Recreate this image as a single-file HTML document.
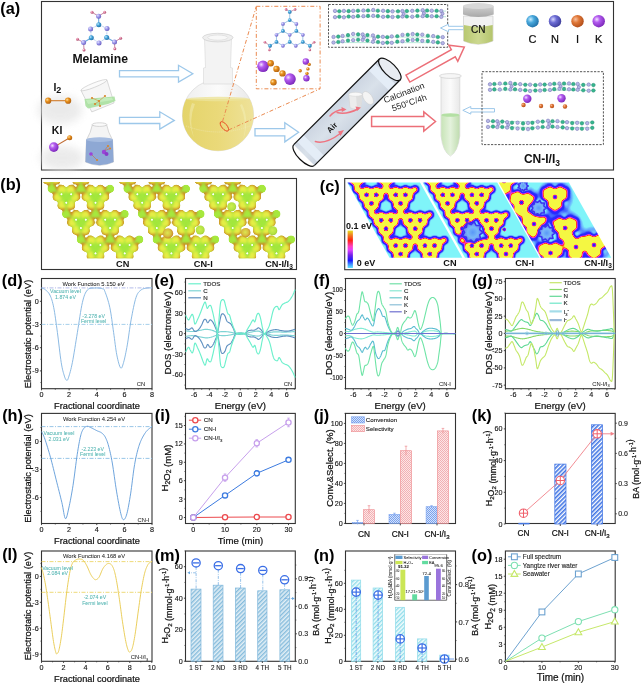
<!DOCTYPE html>
<html><head><meta charset="utf-8"><title>Figure</title>
<style>html,body{margin:0;padding:0;background:#fff;width:641px;height:685px;overflow:hidden}svg{display:block}</style>
</head><body>
<svg width="641" height="685" viewBox="0 0 641 685" font-family="'Liberation Sans', Arial, sans-serif"><rect x="41.50" y="278.50" width="110.50" height="110.20" fill="none" stroke="#333" stroke-width="1.1"/>
<line x1="41.50" y1="388.70" x2="41.50" y2="390.30" stroke="#333" stroke-width="0.9"/>
<text x="41.50" y="396.90" font-size="7.2" text-anchor="middle" fill="#111" stroke="#111" stroke-width="0.12">0</text>
<line x1="69.12" y1="388.70" x2="69.12" y2="390.30" stroke="#333" stroke-width="0.9"/>
<text x="69.12" y="396.90" font-size="7.2" text-anchor="middle" fill="#111" stroke="#111" stroke-width="0.12">2</text>
<line x1="96.75" y1="388.70" x2="96.75" y2="390.30" stroke="#333" stroke-width="0.9"/>
<text x="96.75" y="396.90" font-size="7.2" text-anchor="middle" fill="#111" stroke="#111" stroke-width="0.12">4</text>
<line x1="124.38" y1="388.70" x2="124.38" y2="390.30" stroke="#333" stroke-width="0.9"/>
<text x="124.38" y="396.90" font-size="7.2" text-anchor="middle" fill="#111" stroke="#111" stroke-width="0.12">6</text>
<line x1="152.00" y1="388.70" x2="152.00" y2="390.30" stroke="#333" stroke-width="0.9"/>
<text x="152.00" y="396.90" font-size="7.2" text-anchor="middle" fill="#111" stroke="#111" stroke-width="0.12">8</text>
<line x1="55.31" y1="388.70" x2="55.31" y2="389.70" stroke="#333" stroke-width="0.8"/>
<line x1="82.94" y1="388.70" x2="82.94" y2="389.70" stroke="#333" stroke-width="0.8"/>
<line x1="110.56" y1="388.70" x2="110.56" y2="389.70" stroke="#333" stroke-width="0.8"/>
<line x1="138.19" y1="388.70" x2="138.19" y2="389.70" stroke="#333" stroke-width="0.8"/>
<line x1="39.90" y1="301.30" x2="41.50" y2="301.30" stroke="#333" stroke-width="0.9"/>
<text x="38.70" y="303.80" font-size="7.2" text-anchor="end" fill="#111" stroke="#111" stroke-width="0.12">0</text>
<line x1="39.90" y1="324.50" x2="41.50" y2="324.50" stroke="#333" stroke-width="0.9"/>
<text x="38.70" y="327.00" font-size="7.2" text-anchor="end" fill="#111" stroke="#111" stroke-width="0.12">-3</text>
<line x1="39.90" y1="347.70" x2="41.50" y2="347.70" stroke="#333" stroke-width="0.9"/>
<text x="38.70" y="350.20" font-size="7.2" text-anchor="end" fill="#111" stroke="#111" stroke-width="0.12">-6</text>
<line x1="39.90" y1="370.90" x2="41.50" y2="370.90" stroke="#333" stroke-width="0.9"/>
<text x="38.70" y="373.40" font-size="7.2" text-anchor="end" fill="#111" stroke="#111" stroke-width="0.12">-9</text>
<line x1="40.50" y1="289.70" x2="41.50" y2="289.70" stroke="#333" stroke-width="0.8"/>
<line x1="40.50" y1="312.90" x2="41.50" y2="312.90" stroke="#333" stroke-width="0.8"/>
<line x1="40.50" y1="336.10" x2="41.50" y2="336.10" stroke="#333" stroke-width="0.8"/>
<line x1="40.50" y1="359.30" x2="41.50" y2="359.30" stroke="#333" stroke-width="0.8"/>
<line x1="40.50" y1="382.50" x2="41.50" y2="382.50" stroke="#333" stroke-width="0.8"/>
<line x1="41.50" y1="287.90" x2="152.00" y2="287.90" stroke="#aab4e6" stroke-width="0.9" stroke-dasharray="4 1.5 1 1.5"/>
<line x1="41.50" y1="324.40" x2="152.00" y2="324.40" stroke="#9ccbe8" stroke-width="0.9" stroke-dasharray="4 1.5 1 1.5"/>
<polyline points="41.30,288.00 41.58,288.09 41.94,288.18 42.36,288.28 42.84,288.41 43.36,288.58 43.90,288.81 44.45,289.11 45.00,289.50 45.56,289.95 46.17,290.43 46.80,290.97 47.44,291.57 48.09,292.26 48.72,293.05 49.33,293.95 49.90,295.00 50.43,296.13 50.93,297.32 51.41,298.59 51.88,299.98 52.33,301.52 52.78,303.25 53.24,305.20 53.70,307.40 54.17,309.89 54.63,312.65 55.09,315.63 55.55,318.80 56.01,322.11 56.47,325.50 56.93,328.95 57.40,332.40 57.87,336.02 58.36,339.93 58.84,344.00 59.33,348.11 59.81,352.12 60.29,355.93 60.75,359.40 61.20,362.40 61.63,364.96 62.06,367.19 62.48,369.15 62.89,370.86 63.29,372.37 63.68,373.72 64.05,374.95 64.40,376.10 64.73,377.13 65.05,377.99 65.35,378.69 65.63,379.24 65.91,379.67 66.17,379.98 66.44,380.18 66.70,380.30 66.94,380.35 67.16,380.34 67.36,380.23 67.56,379.99 67.77,379.61 68.00,379.06 68.27,378.29 68.60,377.30 68.98,376.11 69.39,374.77 69.83,373.25 70.31,371.54 70.80,369.62 71.32,367.47 71.85,365.07 72.40,362.40 72.97,359.37 73.57,355.96 74.19,352.25 74.83,348.34 75.47,344.31 76.12,340.25 76.77,336.25 77.40,332.40 78.03,328.54 78.65,324.51 79.28,320.42 79.90,316.36 80.53,312.43 81.15,308.75 81.78,305.40 82.40,302.50 83.01,300.03 83.59,297.91 84.17,296.08 84.74,294.51 85.34,293.15 85.97,291.98 86.66,290.94 87.40,290.00 88.22,289.23 89.10,288.70 90.03,288.36 91.00,288.18 91.98,288.09 92.97,288.06 93.95,288.05 94.90,288.00 95.86,287.95 96.87,287.94 97.90,287.99 98.91,288.07 99.89,288.19 100.80,288.34 101.61,288.51 102.30,288.70 102.83,288.83 103.21,288.88 103.49,288.90 103.70,288.98 103.89,289.18 104.11,289.57 104.40,290.22 104.80,291.20 105.31,292.51 105.90,294.08 106.54,295.88 107.22,297.89 107.90,300.08 108.58,302.41 109.22,304.86 109.80,307.40 110.34,310.12 110.85,313.09 111.34,316.24 111.81,319.51 112.27,322.82 112.72,326.12 113.16,329.33 113.60,332.40 114.02,335.40 114.43,338.42 114.82,341.44 115.20,344.40 115.58,347.27 115.97,350.00 116.38,352.56 116.80,354.90 117.25,357.11 117.73,359.25 118.22,361.28 118.71,363.15 119.21,364.80 119.69,366.17 120.16,367.23 120.60,367.90 121.01,368.18 121.39,368.11 121.75,367.72 122.11,367.06 122.46,366.15 122.82,365.05 123.20,363.79 123.60,362.40 124.03,360.84 124.47,359.04 124.93,357.05 125.40,354.87 125.87,352.54 126.35,350.08 126.83,347.53 127.30,344.90 127.76,342.12 128.22,339.12 128.67,335.96 129.12,332.71 129.59,329.41 130.07,326.14 130.57,322.95 131.10,319.90 131.66,316.87 132.25,313.77 132.85,310.65 133.48,307.61 134.11,304.69 134.74,301.99 135.38,299.57 136.00,297.50 136.61,295.81 137.21,294.45 137.81,293.35 138.41,292.48 139.03,291.75 139.66,291.14 140.31,290.57 141.00,290.00 141.74,289.47 142.52,289.07 143.34,288.76 144.17,288.53 145.00,288.36 145.81,288.23 146.58,288.12 147.30,288.00 148.00,287.90 148.70,287.86 149.39,287.85 150.04,287.88 150.65,287.91 151.19,287.95 151.65,287.99 152.00,288.00" fill="none" stroke="#7fb2e0" stroke-width="0.9" stroke-linejoin="round"/>
<text x="93.50" y="286.00" font-size="5.8" text-anchor="middle" fill="#222" stroke="#222" stroke-width="0.04">Work Function 5.150 eV</text>
<text x="65.50" y="293.20" font-size="5.2" text-anchor="middle" fill="#4fb3b0" stroke="#4fb3b0" stroke-width="0.04">Vacuum level</text>
<text x="65.50" y="299.40" font-size="5.2" text-anchor="middle" fill="#4fb3b0" stroke="#4fb3b0" stroke-width="0.04">1.874 eV</text>
<text x="93.60" y="317.80" font-size="5.2" text-anchor="middle" fill="#4fb3b0" stroke="#4fb3b0" stroke-width="0.04">-3.278 eV</text>
<text x="93.60" y="323.40" font-size="5.2" text-anchor="middle" fill="#4fb3b0" stroke="#4fb3b0" stroke-width="0.04">Fermi level</text>
<text x="141.00" y="385.50" font-size="5.8" text-anchor="middle" fill="#222" stroke="#222" stroke-width="0.04">CN</text>
<text x="97.00" y="409.40" font-size="9.2" text-anchor="middle" fill="#111" stroke="#111" stroke-width="0.22">Fractional coordinate</text>
<text x="31.00" y="334.00" font-size="9.3" text-anchor="middle" fill="#111" stroke="#111" stroke-width="0.22" transform="rotate(-90 31.00 334.00)">Electrostatic potential (eV)</text>
<text x="1.85" y="286.20" font-size="16.3" text-anchor="start" fill="#000" stroke="#000" stroke-width="0.0" font-weight="bold">(d)</text>
<rect x="185.50" y="278.50" width="109.80" height="110.20" fill="none" stroke="#333" stroke-width="1.1"/>
<line x1="193.95" y1="388.70" x2="193.95" y2="390.30" stroke="#333" stroke-width="0.9"/>
<text x="193.95" y="396.90" font-size="7.2" text-anchor="middle" fill="#111" stroke="#111" stroke-width="0.12">-6</text>
<line x1="209.40" y1="388.70" x2="209.40" y2="390.30" stroke="#333" stroke-width="0.9"/>
<text x="209.40" y="396.90" font-size="7.2" text-anchor="middle" fill="#111" stroke="#111" stroke-width="0.12">-4</text>
<line x1="224.85" y1="388.70" x2="224.85" y2="390.30" stroke="#333" stroke-width="0.9"/>
<text x="224.85" y="396.90" font-size="7.2" text-anchor="middle" fill="#111" stroke="#111" stroke-width="0.12">-2</text>
<line x1="240.30" y1="388.70" x2="240.30" y2="390.30" stroke="#333" stroke-width="0.9"/>
<text x="240.30" y="396.90" font-size="7.2" text-anchor="middle" fill="#111" stroke="#111" stroke-width="0.12">0</text>
<line x1="255.75" y1="388.70" x2="255.75" y2="390.30" stroke="#333" stroke-width="0.9"/>
<text x="255.75" y="396.90" font-size="7.2" text-anchor="middle" fill="#111" stroke="#111" stroke-width="0.12">2</text>
<line x1="271.20" y1="388.70" x2="271.20" y2="390.30" stroke="#333" stroke-width="0.9"/>
<text x="271.20" y="396.90" font-size="7.2" text-anchor="middle" fill="#111" stroke="#111" stroke-width="0.12">4</text>
<line x1="286.65" y1="388.70" x2="286.65" y2="390.30" stroke="#333" stroke-width="0.9"/>
<text x="286.65" y="396.90" font-size="7.2" text-anchor="middle" fill="#111" stroke="#111" stroke-width="0.12">6</text>
<line x1="186.23" y1="388.70" x2="186.23" y2="389.70" stroke="#333" stroke-width="0.8"/>
<line x1="201.68" y1="388.70" x2="201.68" y2="389.70" stroke="#333" stroke-width="0.8"/>
<line x1="217.13" y1="388.70" x2="217.13" y2="389.70" stroke="#333" stroke-width="0.8"/>
<line x1="232.58" y1="388.70" x2="232.58" y2="389.70" stroke="#333" stroke-width="0.8"/>
<line x1="248.03" y1="388.70" x2="248.03" y2="389.70" stroke="#333" stroke-width="0.8"/>
<line x1="263.48" y1="388.70" x2="263.48" y2="389.70" stroke="#333" stroke-width="0.8"/>
<line x1="278.92" y1="388.70" x2="278.92" y2="389.70" stroke="#333" stroke-width="0.8"/>
<line x1="294.38" y1="388.70" x2="294.38" y2="389.70" stroke="#333" stroke-width="0.8"/>
<line x1="183.90" y1="292.40" x2="185.50" y2="292.40" stroke="#333" stroke-width="0.9"/>
<text x="182.70" y="294.90" font-size="7.2" text-anchor="end" fill="#111" stroke="#111" stroke-width="0.12">60</text>
<line x1="183.90" y1="313.00" x2="185.50" y2="313.00" stroke="#333" stroke-width="0.9"/>
<text x="182.70" y="315.50" font-size="7.2" text-anchor="end" fill="#111" stroke="#111" stroke-width="0.12">30</text>
<line x1="183.90" y1="333.60" x2="185.50" y2="333.60" stroke="#333" stroke-width="0.9"/>
<text x="182.70" y="336.10" font-size="7.2" text-anchor="end" fill="#111" stroke="#111" stroke-width="0.12">0</text>
<line x1="183.90" y1="354.20" x2="185.50" y2="354.20" stroke="#333" stroke-width="0.9"/>
<text x="182.70" y="356.70" font-size="7.2" text-anchor="end" fill="#111" stroke="#111" stroke-width="0.12">-30</text>
<line x1="183.90" y1="374.80" x2="185.50" y2="374.80" stroke="#333" stroke-width="0.9"/>
<text x="182.70" y="377.30" font-size="7.2" text-anchor="end" fill="#111" stroke="#111" stroke-width="0.12">-60</text>
<line x1="184.50" y1="282.10" x2="185.50" y2="282.10" stroke="#333" stroke-width="0.8"/>
<line x1="184.50" y1="302.70" x2="185.50" y2="302.70" stroke="#333" stroke-width="0.8"/>
<line x1="184.50" y1="323.30" x2="185.50" y2="323.30" stroke="#333" stroke-width="0.8"/>
<line x1="184.50" y1="343.90" x2="185.50" y2="343.90" stroke="#333" stroke-width="0.8"/>
<line x1="184.50" y1="364.50" x2="185.50" y2="364.50" stroke="#333" stroke-width="0.8"/>
<line x1="184.50" y1="385.10" x2="185.50" y2="385.10" stroke="#333" stroke-width="0.8"/>
<polyline points="185.62,330.78 186.06,330.85 186.67,330.95 187.39,331.06 188.19,331.18 189.02,331.30 189.83,331.41 190.58,331.49 191.23,331.53 191.78,331.54 192.26,331.53 192.69,331.50 193.10,331.45 193.52,331.39 193.95,331.32 194.43,331.24 194.98,331.16 195.59,331.07 196.25,330.96 196.94,330.85 197.67,330.73 198.40,330.60 199.14,330.47 199.88,330.34 200.59,330.22 201.29,330.09 202.00,329.94 202.70,329.79 203.40,329.64 204.10,329.50 204.80,329.39 205.51,329.31 206.21,329.29 206.92,329.31 207.63,329.37 208.35,329.46 209.07,329.58 209.79,329.72 210.49,329.88 211.17,330.05 211.82,330.22 212.48,330.42 213.15,330.65 213.81,330.90 214.46,331.16 215.06,331.42 215.62,331.67 216.10,331.90 216.50,332.09 216.79,332.27 216.96,332.45 217.05,332.61 217.09,332.76 217.12,332.89 217.16,332.98 217.26,333.03 217.44,333.03 217.67,332.97 217.92,332.83 218.19,332.65 218.49,332.43 218.84,332.21 219.24,332.01 219.70,331.84 220.25,331.72 220.89,331.65 221.64,331.61 222.47,331.58 223.35,331.58 224.25,331.59 225.14,331.62 226.00,331.67 226.80,331.72 227.56,331.79 228.31,331.89 229.06,332.00 229.78,332.13 230.49,332.26 231.16,332.40 231.81,332.53 232.41,332.66 232.94,332.78 233.37,332.91 233.75,333.05 234.11,333.18 234.49,333.31 234.94,333.42 235.48,333.52 236.16,333.59 237.00,333.65 237.98,333.69 239.06,333.73 240.20,333.74 241.36,333.74 242.50,333.72 243.59,333.67 244.58,333.59 245.48,333.47 246.33,333.31 247.14,333.12 247.92,332.90 248.69,332.68 249.47,332.46 250.28,332.27 251.13,332.09 252.04,331.93 252.98,331.74 253.96,331.55 254.94,331.38 255.91,331.24 256.86,331.14 257.77,331.11 258.62,331.16 259.39,331.33 260.07,331.63 260.70,332.01 261.31,332.42 261.94,332.83 262.61,333.19 263.37,333.46 264.24,333.59 265.22,333.57 266.27,333.42 267.39,333.18 268.57,332.89 269.79,332.58 271.04,332.29 272.31,332.06 273.60,331.91 274.92,331.85 276.30,331.84 277.71,331.87 279.16,331.93 280.60,332.00 282.04,332.06 283.46,332.09 284.83,332.09 286.23,332.06 287.71,331.99 289.21,331.91 290.68,331.83 292.06,331.74 293.30,331.65 294.34,331.58 295.13,331.53" fill="none" stroke="#7ed4d4" stroke-width="1.15" stroke-linejoin="round"/>
<polyline points="185.62,336.40 186.06,336.33 186.67,336.24 187.39,336.12 188.19,336.00 189.02,335.88 189.83,335.78 190.58,335.70 191.23,335.65 191.78,335.64 192.26,335.65 192.69,335.68 193.10,335.73 193.52,335.79 193.95,335.87 194.43,335.94 194.98,336.03 195.59,336.12 196.25,336.22 196.94,336.34 197.67,336.46 198.40,336.59 199.14,336.71 199.88,336.84 200.59,336.96 201.29,337.09 202.00,337.24 202.70,337.40 203.40,337.55 204.10,337.68 204.80,337.80 205.51,337.87 206.21,337.90 206.92,337.88 207.63,337.82 208.35,337.73 209.07,337.61 209.79,337.46 210.49,337.31 211.17,337.14 211.82,336.96 212.48,336.77 213.15,336.54 213.81,336.29 214.46,336.03 215.06,335.76 215.62,335.51 216.10,335.29 216.50,335.09 216.79,334.91 216.96,334.74 217.05,334.57 217.09,334.42 217.12,334.30 217.16,334.21 217.26,334.16 217.44,334.15 217.67,334.22 217.92,334.35 218.19,334.54 218.49,334.75 218.84,334.97 219.24,335.18 219.70,335.35 220.25,335.46 220.89,335.53 221.64,335.58 222.47,335.60 223.35,335.60 224.25,335.59 225.14,335.56 226.00,335.52 226.80,335.46 227.56,335.39 228.31,335.30 229.06,335.18 229.78,335.05 230.49,334.92 231.16,334.78 231.81,334.65 232.41,334.53 232.94,334.40 233.37,334.27 233.75,334.14 234.11,334.00 234.49,333.87 234.94,333.76 235.48,333.66 236.16,333.59 237.00,333.54 237.98,333.49 239.06,333.46 240.20,333.44 241.36,333.44 242.50,333.47 243.59,333.51 244.58,333.59 245.48,333.71 246.33,333.87 247.14,334.07 247.92,334.28 248.69,334.50 249.47,334.72 250.28,334.92 251.13,335.09 252.04,335.26 252.98,335.44 253.96,335.63 254.94,335.80 255.91,335.95 256.86,336.04 257.77,336.07 258.62,336.03 259.39,335.85 260.07,335.56 260.70,335.18 261.31,334.76 261.94,334.35 262.61,333.99 263.37,333.72 264.24,333.59 265.22,333.62 266.27,333.77 267.39,334.00 268.57,334.29 269.79,334.60 271.04,334.89 272.31,335.13 273.60,335.28 274.92,335.34 276.30,335.34 277.71,335.31 279.16,335.25 280.60,335.19 282.04,335.13 283.46,335.09 284.83,335.09 286.23,335.13 287.71,335.19 289.21,335.27 290.68,335.36 292.06,335.45 293.30,335.53 294.34,335.60 295.13,335.65" fill="none" stroke="#7ed4d4" stroke-width="1.15" stroke-linejoin="round"/>
<polyline points="185.62,328.35 185.84,328.47 186.14,328.63 186.50,328.84 186.90,329.05 187.32,329.26 187.72,329.45 188.10,329.59 188.42,329.66 188.70,329.67 188.96,329.62 189.19,329.54 189.42,329.43 189.63,329.30 189.85,329.16 190.07,329.03 190.30,328.91 190.52,328.77 190.74,328.59 190.96,328.38 191.17,328.18 191.40,328.01 191.63,327.90 191.89,327.88 192.17,327.98 192.47,328.25 192.78,328.69 193.11,329.24 193.45,329.84 193.81,330.43 194.19,330.95 194.57,331.34 194.98,331.53 195.41,331.54 195.87,331.42 196.35,331.20 196.85,330.89 197.34,330.52 197.83,330.12 198.29,329.70 198.72,329.29 199.12,328.87 199.50,328.42 199.86,327.93 200.21,327.41 200.54,326.88 200.87,326.32 201.20,325.75 201.53,325.17 201.85,324.53 202.18,323.82 202.49,323.07 202.80,322.31 203.11,321.59 203.40,320.92 203.69,320.36 203.96,319.93 204.22,319.62 204.47,319.41 204.70,319.27 204.93,319.21 205.16,319.22 205.38,319.28 205.60,319.40 205.83,319.55 206.06,319.82 206.29,320.24 206.52,320.75 206.75,321.30 206.98,321.82 207.21,322.28 207.45,322.60 207.70,322.73 207.97,322.64 208.25,322.37 208.54,321.96 208.83,321.47 209.12,320.97 209.41,320.51 209.69,320.14 209.95,319.93 210.20,319.85 210.45,319.85 210.68,319.92 210.91,320.04 211.14,320.21 211.36,320.41 211.59,320.63 211.82,320.86 212.05,321.10 212.27,321.35 212.48,321.61 212.70,321.92 212.92,322.26 213.16,322.66 213.42,323.13 213.70,323.67 214.01,324.34 214.38,325.13 214.76,326.02 215.16,326.95 215.55,327.88 215.91,328.76 216.24,329.56 216.50,330.22 216.70,330.84 216.85,331.47 216.95,332.08 217.03,332.62 217.10,333.03 217.18,333.27 217.29,333.29 217.44,333.03 217.63,332.44 217.83,331.55 218.06,330.41 218.29,329.11 218.54,327.72 218.79,326.30 219.05,324.92 219.31,323.67 219.57,322.43 219.83,321.09 220.09,319.71 220.36,318.35 220.64,317.07 220.93,315.93 221.24,314.99 221.56,314.31 221.90,313.90 222.27,313.71 222.66,313.70 223.06,313.84 223.45,314.10 223.84,314.44 224.21,314.84 224.55,315.25 224.87,315.75 225.17,316.41 225.45,317.17 225.72,318.00 225.99,318.83 226.25,319.61 226.52,320.31 226.80,320.86 227.08,321.28 227.37,321.61 227.66,321.86 227.95,322.07 228.23,322.24 228.51,322.39 228.78,322.55 229.05,322.73 229.29,322.91 229.53,323.03 229.75,323.14 229.97,323.24 230.19,323.36 230.42,323.52 230.66,323.74 230.92,324.05 231.19,324.43 231.48,324.89 231.77,325.40 232.08,325.95 232.39,326.54 232.70,327.14 233.02,327.75 233.35,328.35 233.65,329.00 233.89,329.72 234.13,330.48 234.38,331.24 234.68,331.97 235.05,332.63 235.54,333.18 236.16,333.59 236.98,333.86 238.00,334.02 239.15,334.08 240.37,334.07 241.59,334.00 242.74,333.89 243.76,333.74 244.58,333.59 245.20,333.39 245.66,333.12 246.01,332.79 246.28,332.43 246.52,332.07 246.75,331.72 247.03,331.41 247.39,331.16 247.82,330.96 248.28,330.80 248.77,330.66 249.26,330.54 249.76,330.44 250.24,330.36 250.70,330.28 251.13,330.22 251.53,330.19 251.90,330.19 252.26,330.21 252.60,330.25 252.93,330.28 253.26,330.29 253.60,330.28 253.94,330.22 254.30,330.12 254.67,329.98 255.04,329.82 255.40,329.64 255.77,329.45 256.11,329.26 256.44,329.08 256.75,328.91 257.02,328.74 257.26,328.54 257.48,328.32 257.69,328.12 257.89,327.94 258.11,327.82 258.35,327.76 258.62,327.79 258.93,327.92 259.26,328.13 259.61,328.40 259.97,328.73 260.34,329.09 260.71,329.47 261.07,329.85 261.43,330.22 261.77,330.63 262.11,331.12 262.44,331.65 262.78,332.18 263.12,332.67 263.47,333.10 263.84,333.42 264.24,333.59 264.66,333.61 265.11,333.48 265.57,333.26 266.05,332.96 266.54,332.63 267.02,332.28 267.51,331.97 267.98,331.72 268.44,331.51 268.90,331.30 269.34,331.09 269.80,330.89 270.25,330.70 270.72,330.52 271.21,330.36 271.73,330.22 272.27,330.10 272.83,329.98 273.41,329.88 274.01,329.79 274.61,329.72 275.21,329.67 275.81,329.65 276.41,329.66 276.98,329.71 277.55,329.80 278.12,329.92 278.69,330.06 279.26,330.21 279.85,330.35 280.46,330.49 281.09,330.60 281.75,330.69 282.45,330.79 283.16,330.89 283.89,330.98 284.62,331.06 285.34,331.12 286.04,331.15 286.70,331.16 287.34,331.13 287.96,331.07 288.57,330.99 289.16,330.89 289.74,330.78 290.30,330.65 290.85,330.53 291.38,330.41 291.92,330.28 292.47,330.13 293.02,329.97 293.55,329.80 294.04,329.64 294.47,329.50 294.84,329.38 295.13,329.29" fill="none" stroke="#5e90c0" stroke-width="1.15" stroke-linejoin="round"/>
<polyline points="185.62,338.83 185.84,338.72 186.14,338.55 186.50,338.35 186.90,338.13 187.32,337.92 187.72,337.74 188.10,337.60 188.42,337.52 188.70,337.52 188.96,337.56 189.19,337.65 189.42,337.76 189.63,337.89 189.85,338.02 190.07,338.16 190.30,338.27 190.52,338.41 190.74,338.60 190.96,338.81 191.17,339.01 191.40,339.18 191.63,339.29 191.89,339.30 192.17,339.21 192.47,338.94 192.78,338.50 193.11,337.95 193.45,337.35 193.81,336.76 194.19,336.24 194.57,335.85 194.98,335.65 195.41,335.64 195.87,335.76 196.35,335.99 196.85,336.29 197.34,336.66 197.83,337.07 198.29,337.49 198.72,337.90 199.12,338.32 199.50,338.77 199.86,339.26 200.21,339.77 200.54,340.31 200.87,340.86 201.20,341.43 201.53,342.02 201.85,342.65 202.18,343.36 202.49,344.11 202.80,344.87 203.11,345.60 203.40,346.26 203.69,346.83 203.96,347.26 204.22,347.56 204.47,347.78 204.70,347.91 204.93,347.97 205.16,347.97 205.38,347.90 205.60,347.79 205.83,347.63 206.06,347.36 206.29,346.95 206.52,346.44 206.75,345.89 206.98,345.36 207.21,344.91 207.45,344.59 207.70,344.45 207.97,344.54 208.25,344.82 208.54,345.23 208.83,345.71 209.12,346.22 209.41,346.68 209.69,347.04 209.95,347.26 210.20,347.33 210.45,347.33 210.68,347.26 210.91,347.14 211.14,346.97 211.36,346.77 211.59,346.55 211.82,346.32 212.05,346.09 212.27,345.84 212.48,345.57 212.70,345.27 212.92,344.92 213.16,344.52 213.42,344.06 213.70,343.51 214.01,342.85 214.38,342.05 214.76,341.17 215.16,340.24 215.55,339.31 215.91,338.42 216.24,337.63 216.50,336.96 216.70,336.35 216.85,335.71 216.95,335.10 217.03,334.56 217.10,334.15 217.18,333.91 217.29,333.90 217.44,334.15 217.63,334.74 217.83,335.64 218.06,336.77 218.29,338.07 218.54,339.47 218.79,340.89 219.05,342.26 219.31,343.51 219.57,344.75 219.83,346.09 220.09,347.48 220.36,348.84 220.64,350.12 220.93,351.26 221.24,352.20 221.56,352.87 221.90,353.28 222.27,353.47 222.66,353.48 223.06,353.34 223.45,353.08 223.84,352.74 224.21,352.35 224.55,351.94 224.87,351.43 225.17,350.77 225.45,350.01 225.72,349.19 225.99,348.36 226.25,347.57 226.52,346.88 226.80,346.32 227.08,345.90 227.37,345.58 227.66,345.32 227.95,345.12 228.23,344.95 228.51,344.79 228.78,344.63 229.05,344.45 229.29,344.28 229.53,344.15 229.75,344.05 229.97,343.95 230.19,343.83 230.42,343.66 230.66,343.44 230.92,343.14 231.19,342.75 231.48,342.30 231.77,341.79 232.08,341.23 232.39,340.65 232.70,340.05 233.02,339.44 233.35,338.83 233.65,338.19 233.89,337.47 234.13,336.71 234.38,335.94 234.68,335.22 235.05,334.56 235.54,334.00 236.16,333.59 236.98,333.32 238.00,333.17 239.15,333.10 240.37,333.11 241.59,333.18 242.74,333.30 243.76,333.44 244.58,333.59 245.20,333.79 245.66,334.06 246.01,334.39 246.28,334.75 246.52,335.12 246.75,335.47 247.03,335.78 247.39,336.03 247.82,336.22 248.28,336.39 248.77,336.53 249.26,336.65 249.76,336.75 250.24,336.83 250.70,336.90 251.13,336.96 251.53,337.00 251.90,337.00 252.26,336.97 252.60,336.94 252.93,336.91 253.26,336.89 253.60,336.91 253.94,336.96 254.30,337.06 254.67,337.20 255.04,337.37 255.40,337.55 255.77,337.74 256.11,337.93 256.44,338.11 256.75,338.27 257.02,338.45 257.26,338.65 257.48,338.86 257.69,339.07 257.89,339.24 258.11,339.37 258.35,339.43 258.62,339.40 258.93,339.27 259.26,339.06 259.61,338.78 259.97,338.46 260.34,338.10 260.71,337.72 261.07,337.34 261.43,336.96 261.77,336.55 262.11,336.06 262.44,335.54 262.78,335.01 263.12,334.51 263.47,334.09 263.84,333.77 264.24,333.59 264.66,333.58 265.11,333.70 265.57,333.93 266.05,334.22 266.54,334.56 267.02,334.90 267.51,335.21 267.98,335.46 268.44,335.68 268.90,335.89 269.34,336.09 269.80,336.29 270.25,336.49 270.72,336.66 271.21,336.82 271.73,336.96 272.27,337.09 272.83,337.20 273.41,337.31 274.01,337.39 274.61,337.46 275.21,337.51 275.81,337.53 276.41,337.52 276.98,337.48 277.55,337.39 278.12,337.27 278.69,337.13 279.26,336.98 279.85,336.83 280.46,336.70 281.09,336.59 281.75,336.49 282.45,336.39 283.16,336.29 283.89,336.20 284.62,336.12 285.34,336.07 286.04,336.03 286.70,336.03 287.34,336.05 287.96,336.11 288.57,336.19 289.16,336.29 289.74,336.41 290.30,336.53 290.85,336.65 291.38,336.77 291.92,336.90 292.47,337.06 293.02,337.22 293.55,337.38 294.04,337.54 294.47,337.69 294.84,337.81 295.13,337.90" fill="none" stroke="#5e90c0" stroke-width="1.15" stroke-linejoin="round"/>
<polyline points="185.62,315.25 185.84,315.66 186.14,316.26 186.50,316.99 186.90,317.76 187.32,318.51 187.72,319.17 188.10,319.67 188.42,319.93 188.70,319.93 188.96,319.75 189.19,319.42 189.42,318.99 189.63,318.50 189.85,318.00 190.07,317.52 190.30,317.12 190.53,316.73 190.78,316.29 191.02,315.82 191.27,315.36 191.51,314.95 191.74,314.62 191.96,314.39 192.17,314.31 192.36,314.37 192.53,314.52 192.69,314.77 192.85,315.11 193.00,315.52 193.15,316.00 193.31,316.53 193.48,317.12 193.65,317.87 193.81,318.84 193.97,319.94 194.13,321.07 194.31,322.14 194.50,323.06 194.72,323.72 194.98,324.05 195.26,324.00 195.59,323.66 195.93,323.09 196.30,322.36 196.67,321.52 197.05,320.64 197.42,319.78 197.78,318.99 198.13,318.25 198.49,317.48 198.84,316.68 199.19,315.87 199.54,315.03 199.89,314.18 200.24,313.31 200.59,312.44 200.95,311.52 201.32,310.52 201.69,309.49 202.05,308.46 202.42,307.46 202.76,306.52 203.09,305.67 203.40,304.95 203.68,304.31 203.93,303.71 204.17,303.16 204.39,302.69 204.61,302.33 204.83,302.10 205.04,302.03 205.27,302.14 205.51,302.54 205.74,303.26 205.97,304.18 206.21,305.21 206.44,306.24 206.68,307.17 206.91,307.90 207.14,308.32 207.38,308.41 207.61,308.26 207.85,307.93 208.08,307.49 208.31,307.00 208.55,306.53 208.78,306.13 209.02,305.89 209.25,305.73 209.48,305.56 209.72,305.42 209.95,305.33 210.19,305.30 210.42,305.37 210.65,305.56 210.89,305.89 211.12,306.38 211.36,307.02 211.59,307.78 211.82,308.64 212.06,309.56 212.29,310.52 212.53,311.49 212.76,312.44 212.99,313.41 213.23,314.44 213.46,315.50 213.70,316.59 213.93,317.69 214.16,318.78 214.40,319.84 214.63,320.86 214.87,321.86 215.12,322.87 215.37,323.86 215.63,324.84 215.87,325.79 216.10,326.70 216.31,327.56 216.50,328.35 216.66,329.18 216.79,330.09 216.91,331.01 217.01,331.86 217.10,332.56 217.20,333.05 217.31,333.23 217.44,333.03 217.58,332.43 217.74,331.47 217.89,330.23 218.06,328.76 218.23,327.12 218.40,325.37 218.57,323.58 218.75,321.80 218.93,319.88 219.12,317.70 219.31,315.36 219.50,312.97 219.69,310.62 219.88,308.44 220.07,306.51 220.25,304.95 220.41,303.75 220.56,302.82 220.70,302.10 220.84,301.56 220.99,301.15 221.16,300.83 221.34,300.55 221.56,300.27 221.81,300.00 222.10,299.79 222.41,299.64 222.74,299.57 223.07,299.59 223.40,299.70 223.71,299.93 223.99,300.27 224.25,300.78 224.50,301.45 224.73,302.25 224.96,303.14 225.19,304.08 225.41,305.03 225.63,305.96 225.86,306.82 226.10,307.67 226.33,308.57 226.56,309.49 226.80,310.39 227.03,311.26 227.27,312.07 227.50,312.78 227.73,313.38 227.97,313.80 228.20,314.06 228.44,314.21 228.67,314.31 228.90,314.41 229.14,314.56 229.37,314.82 229.61,315.25 229.83,315.84 230.05,316.53 230.27,317.32 230.48,318.17 230.71,319.07 230.95,319.99 231.20,320.90 231.48,321.80 231.79,322.71 232.12,323.68 232.46,324.68 232.82,325.68 233.19,326.67 233.56,327.62 233.93,328.50 234.29,329.29 234.61,330.01 234.88,330.69 235.13,331.32 235.40,331.91 235.70,332.43 236.06,332.89 236.52,333.28 237.09,333.59 237.84,333.83 238.75,334.00 239.77,334.10 240.84,334.13 241.91,334.10 242.93,334.00 243.84,333.83 244.58,333.59 245.16,333.26 245.61,332.83 245.98,332.31 246.28,331.73 246.54,331.12 246.80,330.49 247.07,329.87 247.39,329.29 247.74,328.72 248.09,328.14 248.44,327.56 248.79,326.97 249.15,326.38 249.50,325.79 249.85,325.19 250.20,324.61 250.56,323.98 250.92,323.28 251.29,322.56 251.66,321.86 252.02,321.20 252.37,320.64 252.70,320.20 253.01,319.93 253.29,319.91 253.54,320.13 253.78,320.52 254.00,320.98 254.22,321.43 254.43,321.77 254.65,321.92 254.88,321.80 255.11,321.35 255.35,320.64 255.58,319.75 255.81,318.76 256.05,317.73 256.28,316.75 256.52,315.90 256.75,315.25 256.98,314.74 257.22,314.30 257.45,313.91 257.69,313.61 257.92,313.39 258.15,313.27 258.39,313.26 258.62,313.38 258.86,313.61 259.09,313.97 259.32,314.44 259.56,315.01 259.79,315.67 260.03,316.40 260.26,317.20 260.49,318.06 260.73,319.02 260.96,320.14 261.20,321.36 261.43,322.64 261.66,323.93 261.90,325.19 262.13,326.37 262.37,327.41 262.59,328.40 262.81,329.41 263.03,330.38 263.24,331.30 263.47,332.11 263.70,332.79 263.96,333.30 264.24,333.59 264.54,333.65 264.87,333.49 265.22,333.15 265.58,332.68 265.95,332.11 266.32,331.49 266.69,330.84 267.05,330.22 267.40,329.62 267.75,329.00 268.10,328.35 268.45,327.65 268.80,326.88 269.15,326.04 269.50,325.10 269.85,324.05 270.21,322.81 270.58,321.36 270.95,319.79 271.32,318.15 271.68,316.52 272.03,314.98 272.36,313.60 272.66,312.44 272.93,311.50 273.17,310.70 273.39,310.03 273.60,309.46 273.80,308.96 274.02,308.53 274.26,308.14 274.53,307.76 274.85,307.40 275.19,307.09 275.56,306.82 275.94,306.61 276.32,306.46 276.68,306.38 277.03,306.37 277.34,306.45 277.61,306.69 277.85,307.11 278.07,307.66 278.28,308.25 278.48,308.82 278.70,309.28 278.94,309.58 279.21,309.63 279.52,309.40 279.85,308.95 280.20,308.33 280.56,307.61 280.93,306.85 281.30,306.11 281.66,305.46 282.02,304.95 282.37,304.58 282.70,304.29 283.03,304.04 283.37,303.84 283.71,303.66 284.06,303.48 284.43,303.29 284.83,303.08 285.25,302.87 285.70,302.69 286.17,302.53 286.64,302.35 287.13,302.16 287.62,301.91 288.10,301.60 288.57,301.21 289.05,300.72 289.53,300.16 290.02,299.54 290.50,298.87 290.98,298.16 291.45,297.43 291.89,296.70 292.32,295.97 292.73,295.18 293.15,294.30 293.56,293.38 293.96,292.46 294.32,291.57 294.64,290.77 294.92,290.10 295.13,289.60" fill="none" stroke="#6cf0cc" stroke-width="1.15" stroke-linejoin="round"/>
<polyline points="185.62,351.94 185.84,351.53 186.14,350.92 186.50,350.20 186.90,349.42 187.32,348.67 187.72,348.01 188.10,347.52 188.42,347.26 188.70,347.25 188.96,347.43 189.19,347.76 189.42,348.19 189.63,348.68 189.85,349.19 190.07,349.66 190.30,350.07 190.53,350.45 190.78,350.90 191.02,351.37 191.27,351.82 191.51,352.23 191.74,352.57 191.96,352.79 192.17,352.87 192.36,352.82 192.53,352.66 192.69,352.41 192.85,352.08 193.00,351.67 193.15,351.19 193.31,350.65 193.48,350.07 193.65,349.31 193.81,348.34 193.97,347.24 194.13,346.11 194.31,345.04 194.50,344.12 194.72,343.46 194.98,343.14 195.26,343.19 195.59,343.53 195.93,344.09 196.30,344.82 196.67,345.66 197.05,346.54 197.42,347.41 197.78,348.19 198.13,348.93 198.49,349.70 198.84,350.50 199.19,351.32 199.54,352.15 199.89,353.01 200.24,353.87 200.59,354.75 200.95,355.67 201.32,356.66 201.69,357.69 202.05,358.72 202.42,359.73 202.76,360.67 203.09,361.51 203.40,362.23 203.68,362.87 203.93,363.47 204.17,364.02 204.39,364.49 204.61,364.85 204.83,365.08 205.04,365.15 205.27,365.04 205.51,364.64 205.74,363.93 205.97,363.00 206.21,361.98 206.44,360.94 206.68,360.01 206.91,359.29 207.14,358.86 207.38,358.77 207.61,358.92 207.85,359.25 208.08,359.69 208.31,360.18 208.55,360.66 208.78,361.05 209.02,361.30 209.25,361.46 209.48,361.62 209.72,361.76 209.95,361.86 210.19,361.88 210.42,361.81 210.65,361.63 210.89,361.30 211.12,360.80 211.36,360.16 211.59,359.40 211.82,358.55 212.06,357.63 212.29,356.67 212.53,355.70 212.76,354.75 212.99,353.78 213.23,352.75 213.46,351.68 213.70,350.59 213.93,349.49 214.16,348.41 214.40,347.34 214.63,346.32 214.87,345.32 215.12,344.32 215.37,343.32 215.63,342.34 215.87,341.39 216.10,340.49 216.31,339.63 216.50,338.83 216.66,338.01 216.79,337.09 216.91,336.17 217.01,335.32 217.10,334.62 217.20,334.14 217.31,333.96 217.44,334.15 217.58,334.76 217.74,335.71 217.89,336.95 218.06,338.42 218.23,340.06 218.40,341.81 218.57,343.60 218.75,345.39 218.93,347.31 219.12,349.49 219.31,351.83 219.50,354.22 219.69,356.56 219.88,358.75 220.07,360.67 220.25,362.23 220.41,363.43 220.56,364.37 220.70,365.09 220.84,365.63 220.99,366.04 221.16,366.36 221.34,366.64 221.56,366.91 221.81,367.18 222.10,367.40 222.41,367.54 222.74,367.62 223.07,367.60 223.40,367.48 223.71,367.26 223.99,366.91 224.25,366.41 224.50,365.74 224.73,364.94 224.96,364.05 225.19,363.11 225.41,362.15 225.63,361.23 225.86,360.36 226.10,359.51 226.33,358.61 226.56,357.70 226.80,356.79 227.03,355.92 227.27,355.12 227.50,354.40 227.73,353.81 227.97,353.38 228.20,353.12 228.44,352.97 228.67,352.87 228.90,352.78 229.14,352.62 229.37,352.36 229.61,351.94 229.83,351.35 230.05,350.65 230.27,349.86 230.48,349.01 230.71,348.12 230.95,347.20 231.20,346.28 231.48,345.39 231.79,344.47 232.12,343.50 232.46,342.51 232.82,341.50 233.19,340.51 233.56,339.57 233.93,338.69 234.29,337.90 234.61,337.18 234.88,336.50 235.13,335.86 235.40,335.28 235.70,334.75 236.06,334.29 236.52,333.90 237.09,333.59 237.84,333.36 238.75,333.19 239.77,333.09 240.84,333.05 241.91,333.09 242.93,333.19 243.84,333.36 244.58,333.59 245.16,333.92 245.61,334.36 245.98,334.88 246.28,335.45 246.54,336.07 246.80,336.69 247.07,337.31 247.39,337.90 247.74,338.46 248.09,339.04 248.44,339.63 248.79,340.21 249.15,340.81 249.50,341.40 249.85,341.99 250.20,342.58 250.56,343.21 250.92,343.90 251.29,344.62 251.66,345.33 252.02,345.98 252.37,346.55 252.70,346.99 253.01,347.26 253.29,347.28 253.54,347.05 253.78,346.67 254.00,346.20 254.22,345.76 254.43,345.41 254.65,345.26 254.88,345.39 255.11,345.83 255.35,346.54 255.58,347.43 255.81,348.43 256.05,349.45 256.28,350.43 256.52,351.28 256.75,351.94 256.98,352.44 257.22,352.89 257.45,353.27 257.69,353.58 257.92,353.79 258.15,353.91 258.39,353.92 258.62,353.81 258.86,353.57 259.09,353.21 259.32,352.74 259.56,352.17 259.79,351.52 260.03,350.78 260.26,349.98 260.49,349.13 260.73,348.16 260.96,347.04 261.20,345.82 261.43,344.54 261.66,343.25 261.90,342.00 262.13,340.82 262.37,339.77 262.59,338.78 262.81,337.78 263.03,336.80 263.24,335.89 263.47,335.07 263.70,334.39 263.96,333.89 264.24,333.59 264.54,333.54 264.87,333.70 265.22,334.03 265.58,334.50 265.95,335.07 266.32,335.70 266.69,336.34 267.05,336.96 267.40,337.56 267.75,338.18 268.10,338.83 268.45,339.54 268.80,340.30 269.15,341.15 269.50,342.09 269.85,343.14 270.21,344.38 270.58,345.82 270.95,347.40 271.32,349.04 271.68,350.66 272.03,352.20 272.36,353.59 272.66,354.75 272.93,355.68 273.17,356.48 273.39,357.16 273.60,357.73 273.80,358.22 274.02,358.65 274.26,359.05 274.53,359.43 274.85,359.78 275.19,360.10 275.56,360.36 275.94,360.57 276.32,360.72 276.68,360.80 277.03,360.81 277.34,360.74 277.61,360.50 277.85,360.07 278.07,359.53 278.28,358.93 278.48,358.37 278.70,357.90 278.94,357.61 279.21,357.55 279.52,357.78 279.85,358.24 280.20,358.86 280.56,359.58 280.93,360.34 281.30,361.08 281.66,361.73 282.02,362.23 282.37,362.60 282.70,362.90 283.03,363.14 283.37,363.34 283.71,363.53 284.06,363.70 284.43,363.89 284.83,364.11 285.25,364.32 285.70,364.49 286.17,364.66 286.64,364.83 287.13,365.03 287.62,365.27 288.10,365.58 288.57,365.98 289.05,366.46 289.53,367.02 290.02,367.65 290.50,368.32 290.98,369.02 291.45,369.75 291.89,370.49 292.32,371.22 292.73,372.00 293.15,372.88 293.56,373.80 293.96,374.73 294.32,375.61 294.64,376.41 294.92,377.08 295.13,377.58" fill="none" stroke="#6cf0cc" stroke-width="1.15" stroke-linejoin="round"/>
<line x1="188.30" y1="283.80" x2="201.00" y2="283.80" stroke="#6cf0cc" stroke-width="1.2"/>
<text x="203.20" y="285.90" font-size="6.2" text-anchor="start" fill="#222" stroke="#222" stroke-width="0.12">TDOS</text>
<line x1="188.30" y1="290.80" x2="201.00" y2="290.80" stroke="#7ed4d4" stroke-width="1.2"/>
<text x="203.20" y="292.90" font-size="6.2" text-anchor="start" fill="#222" stroke="#222" stroke-width="0.12">C</text>
<line x1="188.30" y1="297.80" x2="201.00" y2="297.80" stroke="#5e90c0" stroke-width="1.2"/>
<text x="203.20" y="299.90" font-size="6.2" text-anchor="start" fill="#222" stroke="#222" stroke-width="0.12">N</text>
<text x="288.00" y="385.50" font-size="5.8" text-anchor="middle" fill="#222" stroke="#222" stroke-width="0.04">CN</text>
<text x="240.40" y="409.40" font-size="9.6" text-anchor="middle" fill="#111" stroke="#111" stroke-width="0.22">Energy (eV)</text>
<text x="170.70" y="332.80" font-size="9.6" text-anchor="middle" fill="#111" stroke="#111" stroke-width="0.22" transform="rotate(-90 170.70 332.80)">DOS (electrons/eV)</text>
<text x="154.35" y="286.40" font-size="16.3" text-anchor="start" fill="#000" stroke="#000" stroke-width="0.0" font-weight="bold">(e)</text>
<rect x="345.50" y="278.50" width="110.00" height="110.20" fill="none" stroke="#333" stroke-width="1.1"/>
<line x1="353.30" y1="388.70" x2="353.30" y2="390.30" stroke="#333" stroke-width="0.9"/>
<text x="353.30" y="396.90" font-size="7.2" text-anchor="middle" fill="#111" stroke="#111" stroke-width="0.12">-6</text>
<line x1="368.90" y1="388.70" x2="368.90" y2="390.30" stroke="#333" stroke-width="0.9"/>
<text x="368.90" y="396.90" font-size="7.2" text-anchor="middle" fill="#111" stroke="#111" stroke-width="0.12">-4</text>
<line x1="384.50" y1="388.70" x2="384.50" y2="390.30" stroke="#333" stroke-width="0.9"/>
<text x="384.50" y="396.90" font-size="7.2" text-anchor="middle" fill="#111" stroke="#111" stroke-width="0.12">-2</text>
<line x1="400.10" y1="388.70" x2="400.10" y2="390.30" stroke="#333" stroke-width="0.9"/>
<text x="400.10" y="396.90" font-size="7.2" text-anchor="middle" fill="#111" stroke="#111" stroke-width="0.12">0</text>
<line x1="415.70" y1="388.70" x2="415.70" y2="390.30" stroke="#333" stroke-width="0.9"/>
<text x="415.70" y="396.90" font-size="7.2" text-anchor="middle" fill="#111" stroke="#111" stroke-width="0.12">2</text>
<line x1="431.30" y1="388.70" x2="431.30" y2="390.30" stroke="#333" stroke-width="0.9"/>
<text x="431.30" y="396.90" font-size="7.2" text-anchor="middle" fill="#111" stroke="#111" stroke-width="0.12">4</text>
<line x1="446.90" y1="388.70" x2="446.90" y2="390.30" stroke="#333" stroke-width="0.9"/>
<text x="446.90" y="396.90" font-size="7.2" text-anchor="middle" fill="#111" stroke="#111" stroke-width="0.12">6</text>
<line x1="345.50" y1="388.70" x2="345.50" y2="389.70" stroke="#333" stroke-width="0.8"/>
<line x1="361.10" y1="388.70" x2="361.10" y2="389.70" stroke="#333" stroke-width="0.8"/>
<line x1="376.70" y1="388.70" x2="376.70" y2="389.70" stroke="#333" stroke-width="0.8"/>
<line x1="392.30" y1="388.70" x2="392.30" y2="389.70" stroke="#333" stroke-width="0.8"/>
<line x1="407.90" y1="388.70" x2="407.90" y2="389.70" stroke="#333" stroke-width="0.8"/>
<line x1="423.50" y1="388.70" x2="423.50" y2="389.70" stroke="#333" stroke-width="0.8"/>
<line x1="439.10" y1="388.70" x2="439.10" y2="389.70" stroke="#333" stroke-width="0.8"/>
<line x1="454.70" y1="388.70" x2="454.70" y2="389.70" stroke="#333" stroke-width="0.8"/>
<line x1="343.90" y1="289.50" x2="345.50" y2="289.50" stroke="#333" stroke-width="0.9"/>
<text x="342.70" y="292.00" font-size="6.3" text-anchor="end" fill="#111" stroke="#111" stroke-width="0.12">100</text>
<line x1="343.90" y1="311.50" x2="345.50" y2="311.50" stroke="#333" stroke-width="0.9"/>
<text x="342.70" y="314.00" font-size="6.3" text-anchor="end" fill="#111" stroke="#111" stroke-width="0.12">50</text>
<line x1="343.90" y1="333.50" x2="345.50" y2="333.50" stroke="#333" stroke-width="0.9"/>
<text x="342.70" y="336.00" font-size="6.3" text-anchor="end" fill="#111" stroke="#111" stroke-width="0.12">0</text>
<line x1="343.90" y1="355.50" x2="345.50" y2="355.50" stroke="#333" stroke-width="0.9"/>
<text x="342.70" y="358.00" font-size="6.3" text-anchor="end" fill="#111" stroke="#111" stroke-width="0.12">-50</text>
<line x1="343.90" y1="377.50" x2="345.50" y2="377.50" stroke="#333" stroke-width="0.9"/>
<text x="342.70" y="380.00" font-size="6.3" text-anchor="end" fill="#111" stroke="#111" stroke-width="0.12">-100</text>
<line x1="344.50" y1="278.50" x2="345.50" y2="278.50" stroke="#333" stroke-width="0.8"/>
<line x1="344.50" y1="300.50" x2="345.50" y2="300.50" stroke="#333" stroke-width="0.8"/>
<line x1="344.50" y1="322.50" x2="345.50" y2="322.50" stroke="#333" stroke-width="0.8"/>
<line x1="344.50" y1="344.50" x2="345.50" y2="344.50" stroke="#333" stroke-width="0.8"/>
<line x1="344.50" y1="366.50" x2="345.50" y2="366.50" stroke="#333" stroke-width="0.8"/>
<line x1="344.50" y1="388.50" x2="345.50" y2="388.50" stroke="#333" stroke-width="0.8"/>
<polyline points="345.24,331.16 345.55,331.21 345.95,331.29 346.42,331.39 346.95,331.49 347.52,331.57 348.13,331.62 348.75,331.61 349.36,331.53 349.99,331.37 350.66,331.13 351.36,330.83 352.07,330.49 352.80,330.15 353.54,329.82 354.26,329.52 354.98,329.29 355.69,329.10 356.42,328.93 357.16,328.77 357.90,328.64 358.62,328.53 359.32,328.45 359.98,328.39 360.59,328.35 361.14,328.34 361.62,328.35 362.05,328.38 362.46,328.43 362.88,328.51 363.31,328.62 363.79,328.75 364.34,328.91 364.96,329.12 365.65,329.38 366.39,329.68 367.14,330.00 367.90,330.32 368.64,330.64 369.33,330.92 369.95,331.16 370.51,331.36 371.02,331.55 371.49,331.73 371.94,331.88 372.37,332.02 372.80,332.13 373.24,332.22 373.70,332.28 374.15,332.30 374.59,332.28 375.02,332.22 375.45,332.14 375.90,332.06 376.37,331.98 376.88,331.93 377.44,331.91 378.04,331.92 378.67,331.94 379.33,331.98 380.01,332.02 380.73,332.08 381.48,332.14 382.25,332.21 383.06,332.28 383.93,332.36 384.88,332.45 385.89,332.54 386.92,332.64 387.93,332.75 388.89,332.85 389.77,332.94 390.54,333.03 391.16,333.11 391.65,333.20 392.06,333.28 392.41,333.36 392.77,333.43 393.18,333.50 393.67,333.55 394.29,333.59 395.06,333.63 395.94,333.66 396.90,333.69 397.91,333.71 398.94,333.71 399.95,333.70 400.90,333.66 401.77,333.59 402.55,333.49 403.27,333.35 403.94,333.19 404.58,333.01 405.23,332.82 405.90,332.63 406.61,332.45 407.39,332.28 408.26,332.11 409.22,331.90 410.23,331.69 411.25,331.49 412.26,331.31 413.23,331.19 414.11,331.13 414.88,331.16 415.50,331.33 415.99,331.63 416.39,332.02 416.75,332.46 417.11,332.88 417.51,333.24 418.00,333.50 418.62,333.59 419.38,333.51 420.23,333.28 421.16,332.95 422.13,332.55 423.14,332.13 424.15,331.74 425.15,331.40 426.11,331.16 427.06,331.00 428.03,330.88 429.00,330.79 429.97,330.74 430.93,330.71 431.86,330.71 432.75,330.74 433.60,330.78 434.41,330.87 435.20,330.99 435.96,331.14 436.70,331.32 437.40,331.52 438.05,331.71 438.66,331.91 439.21,332.09 439.72,332.28 440.18,332.49 440.60,332.71 440.97,332.93 441.30,333.13 441.58,333.32 441.82,333.48 442.02,333.59" fill="none" stroke="#84ecd4" stroke-width="1.1" stroke-linejoin="round"/>
<polyline points="345.24,336.03 345.55,335.98 345.95,335.90 346.42,335.80 346.95,335.70 347.52,335.62 348.13,335.57 348.75,335.58 349.36,335.65 349.99,335.82 350.66,336.06 351.36,336.36 352.07,336.69 352.80,337.04 353.54,337.37 354.26,337.66 354.98,337.90 355.69,338.09 356.42,338.26 357.16,338.41 357.90,338.54 358.62,338.65 359.32,338.74 359.98,338.80 360.59,338.83 361.14,338.85 361.62,338.84 362.05,338.81 362.46,338.75 362.88,338.67 363.31,338.57 363.79,338.43 364.34,338.27 364.96,338.06 365.65,337.80 366.39,337.50 367.14,337.18 367.90,336.86 368.64,336.55 369.33,336.26 369.95,336.03 370.51,335.82 371.02,335.63 371.49,335.46 371.94,335.30 372.37,335.16 372.80,335.05 373.24,334.96 373.70,334.90 374.15,334.88 374.59,334.91 375.02,334.97 375.45,335.04 375.90,335.13 376.37,335.20 376.88,335.26 377.44,335.28 378.04,335.27 378.67,335.24 379.33,335.21 380.01,335.16 380.73,335.10 381.48,335.04 382.25,334.97 383.06,334.90 383.93,334.83 384.88,334.74 385.89,334.64 386.92,334.54 387.93,334.44 388.89,334.34 389.77,334.24 390.54,334.15 391.16,334.07 391.65,333.99 392.06,333.90 392.41,333.83 392.77,333.75 393.18,333.69 393.67,333.63 394.29,333.59 395.06,333.56 395.94,333.52 396.90,333.49 397.91,333.48 398.94,333.47 399.95,333.49 400.90,333.53 401.77,333.59 402.55,333.69 403.27,333.83 403.94,334.00 404.58,334.18 405.23,334.37 405.90,334.56 406.61,334.74 407.39,334.90 408.26,335.08 409.22,335.28 410.23,335.49 411.25,335.70 412.26,335.87 413.23,336.00 414.11,336.06 414.88,336.03 415.50,335.86 415.99,335.55 416.39,335.16 416.75,334.73 417.11,334.30 417.51,333.94 418.00,333.69 418.62,333.59 419.38,333.68 420.23,333.91 421.16,334.24 422.13,334.63 423.14,335.05 424.15,335.45 425.15,335.79 426.11,336.03 427.06,336.18 428.03,336.30 429.00,336.39 429.97,336.45 430.93,336.47 431.86,336.47 432.75,336.45 433.60,336.40 434.41,336.32 435.20,336.20 435.96,336.04 436.70,335.86 437.40,335.67 438.05,335.47 438.66,335.27 439.21,335.09 439.72,334.90 440.18,334.69 440.60,334.48 440.97,334.26 441.30,334.05 441.58,333.87 441.82,333.71 442.02,333.59" fill="none" stroke="#84ecd4" stroke-width="1.1" stroke-linejoin="round"/>
<polyline points="345.24,328.35 345.49,328.42 345.82,328.52 346.22,328.63 346.66,328.76 347.12,328.89 347.58,329.03 348.02,329.16 348.42,329.29 348.79,329.43 349.15,329.61 349.50,329.80 349.85,329.99 350.20,330.15 350.54,330.25 350.88,330.28 351.23,330.22 351.58,330.07 351.93,329.85 352.28,329.57 352.64,329.23 352.99,328.84 353.34,328.40 353.69,327.93 354.04,327.41 354.39,326.83 354.74,326.14 355.09,325.39 355.44,324.61 355.79,323.82 356.15,323.07 356.50,322.39 356.85,321.80 357.20,321.32 357.56,320.93 357.92,320.60 358.27,320.30 358.63,320.02 358.98,319.72 359.32,319.39 359.66,318.99 359.99,318.50 360.32,317.90 360.64,317.26 360.97,316.62 361.28,316.01 361.57,315.49 361.84,315.09 362.09,314.87 362.30,314.85 362.48,314.97 362.64,315.22 362.78,315.56 362.92,315.96 363.06,316.37 363.22,316.77 363.40,317.12 363.61,317.48 363.83,317.89 364.06,318.34 364.30,318.78 364.54,319.19 364.79,319.54 365.03,319.80 365.27,319.93 365.51,319.89 365.74,319.70 365.97,319.40 366.21,319.05 366.44,318.69 366.68,318.37 366.91,318.14 367.14,318.06 367.38,318.10 367.61,318.22 367.85,318.40 368.08,318.64 368.31,318.92 368.55,319.24 368.78,319.58 369.02,319.93 369.25,320.32 369.47,320.78 369.69,321.28 369.92,321.80 370.14,322.32 370.38,322.82 370.63,323.28 370.89,323.67 371.17,324.08 371.46,324.58 371.77,325.09 372.08,325.54 372.40,325.88 372.71,326.04 373.02,325.95 373.32,325.54 373.61,324.72 373.90,323.50 374.19,322.00 374.48,320.34 374.76,318.62 375.04,316.97 375.31,315.49 375.57,314.31 375.82,313.39 376.07,312.59 376.31,311.91 376.55,311.33 376.78,310.82 377.01,310.38 377.23,309.99 377.44,309.63 377.64,309.31 377.83,309.05 378.01,308.84 378.19,308.70 378.36,308.61 378.54,308.58 378.73,308.61 378.94,308.70 379.15,308.85 379.38,309.09 379.61,309.39 379.85,309.75 380.09,310.15 380.33,310.58 380.57,311.04 380.81,311.50 381.04,312.02 381.27,312.63 381.49,313.29 381.72,313.96 381.95,314.62 382.19,315.23 382.43,315.76 382.68,316.18 382.94,316.43 383.20,316.50 383.47,316.48 383.75,316.42 384.03,316.38 384.32,316.45 384.62,316.67 384.93,317.12 385.25,317.83 385.59,318.76 385.94,319.85 386.30,321.04 386.66,322.26 387.02,323.46 387.38,324.57 387.73,325.54 388.09,326.40 388.45,327.22 388.81,327.99 389.17,328.73 389.53,329.41 389.88,330.04 390.22,330.63 390.54,331.16 390.84,331.64 391.12,332.08 391.38,332.48 391.63,332.82 391.89,333.11 392.16,333.33 392.46,333.50 392.79,333.59 393.17,333.59 393.60,333.48 394.05,333.29 394.52,333.05 394.98,332.79 395.42,332.52 395.82,332.28 396.16,332.09 396.44,331.94 396.66,331.78 396.86,331.62 397.02,331.47 397.18,331.35 397.33,331.25 397.48,331.18 397.66,331.16 397.84,331.18 398.03,331.25 398.21,331.35 398.39,331.47 398.58,331.62 398.77,331.78 398.96,331.94 399.15,332.09 399.35,332.28 399.54,332.52 399.72,332.79 399.91,333.05 400.12,333.29 400.33,333.48 400.57,333.59 400.84,333.59 401.13,333.47 401.44,333.25 401.77,332.94 402.11,332.59 402.48,332.20 402.85,331.82 403.24,331.46 403.65,331.16 404.07,330.89 404.52,330.63 404.98,330.37 405.46,330.13 405.95,329.90 406.43,329.68 406.92,329.47 407.39,329.29 407.86,329.13 408.35,329.01 408.84,328.91 409.32,328.82 409.80,328.73 410.26,328.63 410.71,328.51 411.13,328.35 411.54,328.14 411.92,327.86 412.30,327.55 412.66,327.24 413.00,326.95 413.33,326.71 413.64,326.54 413.94,326.48 414.22,326.53 414.48,326.68 414.71,326.91 414.94,327.18 415.15,327.48 415.37,327.80 415.59,328.09 415.81,328.35 416.04,328.57 416.27,328.78 416.49,328.99 416.72,329.19 416.94,329.41 417.18,329.65 417.43,329.92 417.69,330.22 417.96,330.61 418.24,331.10 418.52,331.63 418.82,332.18 419.13,332.69 419.45,333.12 419.78,333.44 420.12,333.59 420.48,333.56 420.87,333.38 421.27,333.08 421.69,332.70 422.10,332.29 422.52,331.86 422.92,331.48 423.30,331.16 423.67,330.89 424.03,330.63 424.38,330.37 424.73,330.13 425.07,329.90 425.42,329.68 425.76,329.47 426.11,329.29 426.45,329.12 426.79,328.97 427.12,328.83 427.46,328.70 427.80,328.59 428.15,328.50 428.52,328.42 428.92,328.35 429.34,328.30 429.79,328.26 430.25,328.24 430.73,328.23 431.22,328.24 431.70,328.26 432.19,328.30 432.66,328.35 433.14,328.42 433.62,328.50 434.11,328.59 434.59,328.70 435.07,328.83 435.54,328.97 435.98,329.12 436.41,329.29 436.80,329.47 437.17,329.68 437.53,329.90 437.87,330.13 438.20,330.37 438.53,330.63 438.87,330.89 439.21,331.16 439.49,331.45 439.67,331.78 439.81,332.14 439.97,332.49 440.21,332.83 440.60,333.14 441.18,333.40 442.02,333.59 443.26,333.71 444.88,333.76 446.76,333.77 448.75,333.74 450.72,333.70 452.53,333.65 454.04,333.61 455.13,333.59" fill="none" stroke="#58bcd0" stroke-width="1.1" stroke-linejoin="round"/>
<polyline points="345.24,338.83 345.49,338.76 345.82,338.67 346.22,338.55 346.66,338.42 347.12,338.29 347.58,338.15 348.02,338.02 348.42,337.90 348.79,337.76 349.15,337.58 349.50,337.38 349.85,337.20 350.20,337.04 350.54,336.93 350.88,336.90 351.23,336.96 351.58,337.11 351.93,337.33 352.28,337.62 352.64,337.96 352.99,338.35 353.34,338.78 353.69,339.26 354.04,339.77 354.39,340.36 354.74,341.04 355.09,341.79 355.44,342.58 355.79,343.36 356.15,344.11 356.50,344.80 356.85,345.39 357.20,345.86 357.56,346.25 357.92,346.59 358.27,346.88 358.63,347.17 358.98,347.47 359.32,347.80 359.66,348.19 359.99,348.69 360.32,349.28 360.64,349.92 360.97,350.57 361.28,351.18 361.57,351.70 361.84,352.09 362.09,352.31 362.30,352.34 362.48,352.21 362.64,351.96 362.78,351.62 362.92,351.23 363.06,350.82 363.22,350.42 363.40,350.07 363.61,349.71 363.83,349.29 364.06,348.85 364.30,348.40 364.54,347.99 364.79,347.64 365.03,347.39 365.27,347.26 365.51,347.29 365.74,347.48 365.97,347.78 366.21,348.14 366.44,348.50 366.68,348.82 366.91,349.04 367.14,349.13 367.38,349.09 367.61,348.97 367.85,348.78 368.08,348.54 368.31,348.26 368.55,347.94 368.78,347.61 369.02,347.26 369.25,346.87 369.47,346.41 369.69,345.91 369.92,345.39 370.14,344.86 370.38,344.36 370.63,343.90 370.89,343.51 371.17,343.10 371.46,342.61 371.77,342.10 372.08,341.64 372.40,341.30 372.71,341.14 373.02,341.24 373.32,341.64 373.61,342.46 373.90,343.68 374.19,345.18 374.48,346.85 374.76,348.57 375.04,350.22 375.31,351.69 375.57,352.87 375.82,353.80 376.07,354.59 376.31,355.27 376.55,355.86 376.78,356.36 377.01,356.80 377.23,357.19 377.44,357.55 377.64,357.88 377.83,358.14 378.01,358.34 378.19,358.49 378.36,358.58 378.54,358.61 378.73,358.58 378.94,358.49 379.15,358.33 379.38,358.09 379.61,357.79 379.85,357.44 380.09,357.04 380.33,356.60 380.57,356.15 380.81,355.68 381.04,355.16 381.27,354.56 381.49,353.90 381.72,353.22 381.95,352.56 382.19,351.95 382.43,351.42 382.68,351.00 382.94,350.76 383.20,350.68 383.47,350.71 383.75,350.77 384.03,350.80 384.32,350.74 384.62,350.52 384.93,350.07 385.25,349.35 385.59,348.42 385.94,347.33 386.30,346.15 386.66,344.92 387.02,343.73 387.38,342.61 387.73,341.64 388.09,340.78 388.45,339.97 388.81,339.19 389.17,338.46 389.53,337.78 389.88,337.14 390.22,336.56 390.54,336.03 390.84,335.54 391.12,335.10 391.38,334.71 391.63,334.36 391.89,334.08 392.16,333.85 392.46,333.69 392.79,333.59 393.17,333.60 393.60,333.70 394.05,333.89 394.52,334.13 394.98,334.40 395.42,334.66 395.82,334.90 396.16,335.09 396.44,335.25 396.66,335.41 396.86,335.56 397.02,335.71 397.18,335.84 397.33,335.94 397.48,336.00 397.66,336.03 397.84,336.00 398.03,335.94 398.21,335.84 398.39,335.71 398.58,335.56 398.77,335.41 398.96,335.25 399.15,335.09 399.35,334.90 399.54,334.66 399.72,334.40 399.91,334.13 400.12,333.89 400.33,333.70 400.57,333.60 400.84,333.59 401.13,333.71 401.44,333.94 401.77,334.24 402.11,334.60 402.48,334.98 402.85,335.36 403.24,335.72 403.65,336.03 404.07,336.29 404.52,336.56 404.98,336.81 405.46,337.06 405.95,337.29 406.43,337.51 406.92,337.71 407.39,337.90 407.86,338.05 408.35,338.18 408.84,338.28 409.32,338.37 409.80,338.46 410.26,338.56 410.71,338.68 411.13,338.83 411.54,339.05 411.92,339.32 412.30,339.63 412.66,339.95 413.00,340.24 413.33,340.48 413.64,340.64 413.94,340.71 414.22,340.65 414.48,340.50 414.71,340.28 414.94,340.00 415.15,339.70 415.37,339.39 415.59,339.09 415.81,338.83 416.04,338.61 416.27,338.40 416.49,338.20 416.72,337.99 416.94,337.77 417.18,337.54 417.43,337.27 417.69,336.96 417.96,336.57 418.24,336.09 418.52,335.55 418.82,335.01 419.13,334.50 419.45,334.06 419.78,333.75 420.12,333.59 420.48,333.62 420.87,333.81 421.27,334.10 421.69,334.48 422.10,334.90 422.52,335.32 422.92,335.71 423.30,336.03 423.67,336.29 424.03,336.56 424.38,336.81 424.73,337.06 425.07,337.29 425.42,337.51 425.76,337.71 426.11,337.90 426.45,338.07 426.79,338.22 427.12,338.36 427.46,338.48 427.80,338.59 428.15,338.69 428.52,338.77 428.92,338.83 429.34,338.88 429.79,338.92 430.25,338.94 430.73,338.95 431.22,338.94 431.70,338.92 432.19,338.88 432.66,338.83 433.14,338.77 433.62,338.69 434.11,338.59 434.59,338.48 435.07,338.36 435.54,338.22 435.98,338.07 436.41,337.90 436.80,337.71 437.17,337.51 437.53,337.29 437.87,337.06 438.20,336.81 438.53,336.56 438.87,336.29 439.21,336.03 439.49,335.73 439.67,335.40 439.81,335.05 439.97,334.69 440.21,334.35 440.60,334.04 441.18,333.78 442.02,333.59 443.26,333.48 444.88,333.42 446.76,333.41 448.75,333.44 450.72,333.49 452.53,333.54 454.04,333.58 455.13,333.59" fill="none" stroke="#58bcd0" stroke-width="1.1" stroke-linejoin="round"/>
<polyline points="345.24,318.99 345.42,318.75 345.65,318.40 345.94,317.98 346.25,317.53 346.57,317.09 346.90,316.69 347.21,316.37 347.49,316.18 347.74,316.09 347.98,316.04 348.22,316.05 348.45,316.12 348.67,316.26 348.90,316.47 349.13,316.75 349.36,317.12 349.60,317.62 349.84,318.27 350.08,319.02 350.32,319.83 350.56,320.66 350.79,321.45 351.02,322.15 351.23,322.73 351.43,323.23 351.62,323.70 351.80,324.14 351.98,324.51 352.16,324.82 352.34,325.04 352.53,325.16 352.73,325.17 352.94,325.05 353.16,324.83 353.39,324.51 353.62,324.10 353.86,323.62 354.10,323.07 354.35,322.46 354.60,321.80 354.87,321.03 355.15,320.11 355.43,319.09 355.72,318.02 356.02,316.96 356.30,315.95 356.58,315.05 356.85,314.31 357.10,313.80 357.34,313.50 357.58,313.33 357.81,313.20 358.03,313.04 358.26,312.75 358.49,312.27 358.72,311.50 358.96,310.40 359.20,309.01 359.44,307.42 359.68,305.71 359.92,303.97 360.15,302.27 360.38,300.70 360.59,299.34 360.80,298.10 361.00,296.87 361.19,295.69 361.38,294.60 361.56,293.63 361.74,292.82 361.91,292.21 362.09,291.85 362.26,291.77 362.43,291.95 362.59,292.35 362.76,292.90 362.92,293.56 363.08,294.26 363.24,294.96 363.40,295.59 363.56,296.24 363.71,296.97 363.87,297.77 364.02,298.57 364.18,299.36 364.34,300.09 364.52,300.72 364.71,301.21 364.92,301.54 365.14,301.73 365.37,301.82 365.61,301.85 365.86,301.86 366.10,301.89 366.34,301.97 366.58,302.14 366.81,302.36 367.04,302.56 367.26,302.77 367.48,303.02 367.71,303.34 367.95,303.74 368.19,304.27 368.45,304.95 368.73,305.83 369.02,306.90 369.33,308.10 369.64,309.40 369.95,310.72 370.27,312.02 370.58,313.23 370.89,314.31 371.20,315.37 371.52,316.50 371.85,317.63 372.17,318.70 372.49,319.63 372.79,320.34 373.07,320.78 373.32,320.86 373.53,320.57 373.71,319.96 373.87,319.09 374.01,318.00 374.15,316.74 374.29,315.36 374.45,313.91 374.63,312.44 374.84,310.82 375.07,308.95 375.31,306.91 375.56,304.80 375.80,302.71 376.05,300.73 376.28,298.95 376.50,297.46 376.71,296.23 376.90,295.14 377.08,294.20 377.26,293.39 377.44,292.72 377.62,292.18 377.81,291.77 378.00,291.47 378.20,291.31 378.40,291.29 378.61,291.40 378.82,291.64 379.03,291.99 379.25,292.46 379.46,293.04 379.69,293.72 379.91,294.59 380.14,295.69 380.37,296.96 380.61,298.31 380.85,299.67 381.09,300.97 381.32,302.13 381.56,303.08 381.79,303.81 382.01,304.39 382.23,304.85 382.46,305.24 382.69,305.60 382.92,305.95 383.17,306.35 383.43,306.82 383.71,307.33 384.01,307.80 384.33,308.26 384.65,308.75 384.97,309.30 385.28,309.92 385.58,310.64 385.86,311.50 386.12,312.54 386.36,313.75 386.58,315.08 386.80,316.48 387.02,317.90 387.24,319.29 387.48,320.61 387.73,321.80 388.01,322.89 388.30,323.94 388.60,324.95 388.90,325.92 389.22,326.84 389.53,327.70 389.85,328.52 390.17,329.29 390.49,330.01 390.83,330.69 391.17,331.32 391.51,331.91 391.85,332.43 392.18,332.89 392.50,333.28 392.79,333.59 393.06,333.81 393.32,333.95 393.56,334.01 393.80,334.01 394.02,333.96 394.24,333.86 394.45,333.74 394.66,333.59 394.87,333.41 395.06,333.19 395.25,332.92 395.43,332.61 395.61,332.27 395.79,331.92 395.97,331.54 396.16,331.16 396.35,330.70 396.53,330.14 396.72,329.52 396.91,328.90 397.09,328.33 397.28,327.86 397.47,327.53 397.66,327.41 397.85,327.53 398.04,327.86 398.23,328.33 398.43,328.90 398.62,329.52 398.81,330.14 398.98,330.70 399.15,331.16 399.31,331.59 399.45,332.08 399.59,332.59 399.72,333.05 399.84,333.44 399.98,333.69 400.12,333.75 400.28,333.59 400.44,333.14 400.62,332.41 400.79,331.48 400.98,330.42 401.17,329.32 401.37,328.24 401.57,327.27 401.77,326.48 401.99,325.84 402.21,325.28 402.43,324.79 402.66,324.34 402.90,323.92 403.14,323.53 403.39,323.14 403.65,322.73 403.91,322.34 404.19,321.97 404.48,321.61 404.77,321.27 405.06,320.94 405.35,320.61 405.63,320.27 405.89,319.93 406.14,319.55 406.39,319.14 406.62,318.71 406.85,318.29 407.08,317.90 407.31,317.56 407.53,317.29 407.76,317.12 408.00,317.07 408.23,317.13 408.47,317.28 408.70,317.47 408.93,317.68 409.17,317.86 409.40,318.00 409.64,318.06 409.87,318.05 410.10,318.02 410.34,317.96 410.57,317.88 410.81,317.76 411.04,317.59 411.27,317.38 411.51,317.12 411.75,316.78 411.99,316.36 412.23,315.88 412.47,315.36 412.71,314.83 412.94,314.31 413.16,313.82 413.38,313.38 413.59,312.93 413.78,312.45 413.97,311.97 414.15,311.50 414.33,311.10 414.51,310.79 414.69,310.60 414.88,310.57 415.06,310.68 415.24,310.91 415.42,311.24 415.60,311.68 415.79,312.21 415.98,312.83 416.17,313.53 416.38,314.31 416.59,315.24 416.82,316.34 417.05,317.57 417.29,318.87 417.53,320.19 417.77,321.46 418.01,322.64 418.25,323.67 418.48,324.60 418.72,325.51 418.97,326.38 419.21,327.18 419.45,327.89 419.68,328.50 419.90,328.97 420.12,329.29 420.32,329.44 420.51,329.43 420.69,329.30 420.87,329.05 421.04,328.72 421.23,328.32 421.41,327.88 421.62,327.41 421.83,326.92 422.05,326.36 422.28,325.75 422.51,325.07 422.74,324.34 422.99,323.55 423.23,322.71 423.49,321.80 423.75,320.80 424.03,319.68 424.32,318.48 424.61,317.24 424.90,315.98 425.19,314.74 425.47,313.55 425.74,312.44 425.99,311.40 426.22,310.39 426.45,309.41 426.67,308.46 426.89,307.54 427.12,306.65 427.36,305.78 427.61,304.95 427.87,304.13 428.13,303.33 428.40,302.54 428.67,301.79 428.95,301.08 429.24,300.43 429.54,299.85 429.85,299.34 430.18,298.90 430.52,298.52 430.87,298.19 431.22,297.93 431.58,297.73 431.95,297.58 432.31,297.49 432.66,297.46 433.02,297.49 433.38,297.58 433.74,297.73 434.10,297.93 434.46,298.19 434.81,298.52 435.15,298.90 435.47,299.34 435.79,299.85 436.10,300.43 436.40,301.08 436.70,301.79 436.98,302.54 437.25,303.33 437.49,304.13 437.72,304.95 437.91,305.78 438.07,306.65 438.21,307.54 438.34,308.46 438.45,309.41 438.57,310.39 438.70,311.40 438.84,312.44 439.00,313.52 439.16,314.65 439.33,315.81 439.51,317.00 439.68,318.21 439.84,319.42 440.00,320.62 440.15,321.80 440.28,323.02 440.41,324.30 440.53,325.61 440.64,326.91 440.75,328.16 440.86,329.31 440.97,330.32 441.09,331.16 441.12,331.81 441.03,332.31 440.90,332.69 440.79,332.96 440.78,333.16 440.93,333.32 441.32,333.45 442.02,333.59 443.17,333.71 444.75,333.76 446.62,333.77 448.63,333.74 450.64,333.70 452.49,333.65 454.03,333.61 455.13,333.59" fill="none" stroke="#6ee4a6" stroke-width="1.1" stroke-linejoin="round"/>
<polyline points="345.24,348.19 345.42,348.44 345.65,348.79 345.94,349.21 346.25,349.66 346.57,350.10 346.90,350.50 347.21,350.81 347.49,351.00 347.74,351.10 347.98,351.14 348.22,351.13 348.45,351.06 348.67,350.92 348.90,350.72 349.13,350.43 349.36,350.07 349.60,349.57 349.84,348.92 350.08,348.16 350.32,347.35 350.56,346.53 350.79,345.74 351.02,345.03 351.23,344.45 351.43,343.95 351.62,343.48 351.80,343.05 351.98,342.67 352.16,342.36 352.34,342.14 352.53,342.02 352.73,342.02 352.94,342.13 353.16,342.35 353.39,342.67 353.62,343.08 353.86,343.57 354.10,344.12 354.35,344.73 354.60,345.39 354.87,346.16 355.15,347.08 355.43,348.10 355.72,349.16 356.02,350.23 356.30,351.23 356.58,352.13 356.85,352.87 357.10,353.38 357.34,353.69 357.58,353.86 357.81,353.98 358.03,354.15 358.26,354.43 358.49,354.91 358.72,355.68 358.96,356.79 359.20,358.17 359.44,359.76 359.68,361.47 359.92,363.22 360.15,364.92 360.38,366.49 360.59,367.85 360.80,369.09 361.00,370.31 361.19,371.49 361.38,372.59 361.56,373.56 361.74,374.36 361.91,374.97 362.09,375.34 362.26,375.42 362.43,375.23 362.59,374.84 362.76,374.28 362.92,373.63 363.08,372.92 363.24,372.23 363.40,371.59 363.56,370.95 363.71,370.21 363.87,369.42 364.02,368.61 364.18,367.82 364.34,367.10 364.52,366.47 364.71,365.98 364.92,365.65 365.14,365.46 365.37,365.37 365.61,365.33 365.86,365.32 366.10,365.30 366.34,365.22 366.58,365.04 366.81,364.82 367.04,364.62 367.26,364.41 367.48,364.16 367.71,363.85 367.95,363.44 368.19,362.91 368.45,362.23 368.73,361.36 369.02,360.29 369.33,359.08 369.64,357.79 369.95,356.47 370.27,355.17 370.58,353.95 370.89,352.87 371.20,351.82 371.52,350.69 371.85,349.55 372.17,348.49 372.49,347.56 372.79,346.84 373.07,346.40 373.32,346.32 373.53,346.61 373.71,347.22 373.87,348.10 374.01,349.19 374.15,350.45 374.29,351.83 374.45,353.28 374.63,354.75 374.84,356.37 375.07,358.24 375.31,360.28 375.56,362.39 375.80,364.48 376.05,366.46 376.28,368.23 376.50,369.72 376.71,370.96 376.90,372.04 377.08,372.99 377.26,373.79 377.44,374.46 377.62,375.00 377.81,375.42 378.00,375.71 378.20,375.87 378.40,375.90 378.61,375.78 378.82,375.55 379.03,375.19 379.25,374.72 379.46,374.14 379.69,373.46 379.91,372.60 380.14,371.49 380.37,370.23 380.61,368.88 380.85,367.52 381.09,366.22 381.32,365.06 381.56,364.11 381.79,363.37 382.01,362.80 382.23,362.33 382.46,361.94 382.69,361.59 382.92,361.23 383.17,360.84 383.43,360.36 383.71,359.86 384.01,359.39 384.33,358.92 384.65,358.43 384.97,357.89 385.28,357.27 385.58,356.54 385.86,355.68 386.12,354.64 386.36,353.44 386.58,352.11 386.80,350.71 387.02,349.29 387.24,347.89 387.48,346.58 387.73,345.39 388.01,344.29 388.30,343.24 388.60,342.23 388.90,341.27 389.22,340.35 389.53,339.48 389.85,338.66 390.17,337.90 390.49,337.18 390.83,336.50 391.17,335.86 391.51,335.28 391.85,334.75 392.18,334.29 392.50,333.90 392.79,333.59 393.06,333.37 393.32,333.23 393.56,333.17 393.80,333.17 394.02,333.22 394.24,333.32 394.45,333.45 394.66,333.59 394.87,333.77 395.06,334.00 395.25,334.27 395.43,334.58 395.61,334.91 395.79,335.27 395.97,335.64 396.16,336.03 396.35,336.48 396.53,337.05 396.72,337.66 396.91,338.28 397.09,338.86 397.28,339.33 397.47,339.65 397.66,339.77 397.85,339.65 398.04,339.33 398.23,338.86 398.43,338.28 398.62,337.66 398.81,337.05 398.98,336.48 399.15,336.03 399.31,335.59 399.45,335.10 399.59,334.60 399.72,334.13 399.84,333.75 399.98,333.50 400.12,333.43 400.28,333.59 400.44,334.05 400.62,334.78 400.79,335.71 400.98,336.76 401.17,337.87 401.37,338.94 401.57,339.91 401.77,340.71 401.99,341.34 402.21,341.90 402.43,342.40 402.66,342.85 402.90,343.26 403.14,343.66 403.39,344.05 403.65,344.45 403.91,344.85 404.19,345.22 404.48,345.57 404.77,345.91 405.06,346.25 405.35,346.58 405.63,346.91 405.89,347.26 406.14,347.63 406.39,348.05 406.62,348.48 406.85,348.90 407.08,349.29 407.31,349.63 407.53,349.89 407.76,350.07 408.00,350.11 408.23,350.05 408.47,349.91 408.70,349.71 408.93,349.51 409.17,349.32 409.40,349.18 409.64,349.13 409.87,349.14 410.10,349.17 410.34,349.22 410.57,349.31 410.81,349.43 411.04,349.59 411.27,349.80 411.51,350.07 411.75,350.41 411.99,350.83 412.23,351.30 412.47,351.82 412.71,352.35 412.94,352.87 413.16,353.37 413.38,353.81 413.59,354.25 413.78,354.73 413.97,355.22 414.15,355.68 414.33,356.09 414.51,356.40 414.69,356.59 414.88,356.62 415.06,356.50 415.24,356.27 415.42,355.94 415.60,355.51 415.79,354.98 415.98,354.36 416.17,353.65 416.38,352.87 416.59,351.95 416.82,350.84 417.05,349.61 417.29,348.31 417.53,347.00 417.77,345.72 418.01,344.54 418.25,343.51 418.48,342.58 418.72,341.67 418.97,340.80 419.21,340.00 419.45,339.29 419.68,338.69 419.90,338.22 420.12,337.90 420.32,337.75 420.51,337.75 420.69,337.89 420.87,338.13 421.04,338.46 421.23,338.86 421.41,339.31 421.62,339.77 421.83,340.27 422.05,340.82 422.28,341.44 422.51,342.11 422.74,342.84 422.99,343.63 423.23,344.48 423.49,345.39 423.75,346.39 424.03,347.51 424.32,348.70 424.61,349.95 424.90,351.21 425.19,352.45 425.47,353.64 425.74,354.75 425.99,355.78 426.22,356.79 426.45,357.77 426.67,358.72 426.89,359.64 427.12,360.54 427.36,361.40 427.61,362.23 427.87,363.05 428.13,363.86 428.40,364.64 428.67,365.39 428.95,366.10 429.24,366.75 429.54,367.34 429.85,367.85 430.18,368.29 430.52,368.67 430.87,368.99 431.22,369.25 431.58,369.46 431.95,369.60 432.31,369.69 432.66,369.72 433.02,369.69 433.38,369.60 433.74,369.46 434.10,369.25 434.46,368.99 434.81,368.67 435.15,368.29 435.47,367.85 435.79,367.34 436.10,366.75 436.40,366.10 436.70,365.39 436.98,364.64 437.25,363.86 437.49,363.05 437.72,362.23 437.91,361.40 438.07,360.54 438.21,359.64 438.34,358.72 438.45,357.77 438.57,356.79 438.70,355.78 438.84,354.75 439.00,353.67 439.16,352.54 439.33,351.37 439.51,350.18 439.68,348.98 439.84,347.77 440.00,346.57 440.15,345.39 440.28,344.17 440.41,342.88 440.53,341.57 440.64,340.27 440.75,339.03 440.86,337.88 440.97,336.86 441.09,336.03 441.12,335.37 441.03,334.87 440.90,334.50 440.79,334.22 440.78,334.02 440.93,333.87 441.32,333.73 442.02,333.59 443.17,333.48 444.75,333.42 446.62,333.41 448.63,333.44 450.64,333.49 452.49,333.54 454.03,333.58 455.13,333.59" fill="none" stroke="#6ee4a6" stroke-width="1.1" stroke-linejoin="round"/>
<line x1="345.50" y1="333.50" x2="455.50" y2="333.50" stroke="#6f70d0" stroke-width="1.0"/>
<ellipse cx="398" cy="333.5" rx="1.3" ry="2.8" fill="none" stroke="#6f70d0" stroke-width="0.8"/>
<line x1="389.50" y1="283.80" x2="401.80" y2="283.80" stroke="#72e0a8" stroke-width="1.2"/>
<text x="404.00" y="285.90" font-size="6.2" text-anchor="start" fill="#222" stroke="#222" stroke-width="0.12">TDOS</text>
<line x1="389.50" y1="290.80" x2="401.80" y2="290.80" stroke="#8ae8d2" stroke-width="1.2"/>
<text x="404.00" y="292.90" font-size="6.2" text-anchor="start" fill="#222" stroke="#222" stroke-width="0.12">C</text>
<line x1="389.50" y1="297.80" x2="401.80" y2="297.80" stroke="#6cc8cc" stroke-width="1.2"/>
<text x="404.00" y="299.90" font-size="6.2" text-anchor="start" fill="#222" stroke="#222" stroke-width="0.12">N</text>
<line x1="389.50" y1="304.80" x2="401.80" y2="304.80" stroke="#8cc0d8" stroke-width="1.2"/>
<text x="404.00" y="306.90" font-size="6.2" text-anchor="start" fill="#222" stroke="#222" stroke-width="0.12">K</text>
<line x1="389.50" y1="311.80" x2="401.80" y2="311.80" stroke="#6f70d0" stroke-width="1.2"/>
<text x="404.00" y="313.90" font-size="6.2" text-anchor="start" fill="#222" stroke="#222" stroke-width="0.12">I<tspan font-size="4" dy="-2">-</tspan></text>
<text x="445.00" y="385.50" font-size="5.8" text-anchor="middle" fill="#222" stroke="#222" stroke-width="0.04">CN-I</text>
<text x="400.20" y="409.40" font-size="9.6" text-anchor="middle" fill="#111" stroke="#111" stroke-width="0.22">Energy (eV)</text>
<text x="332.20" y="333.40" font-size="9.6" text-anchor="middle" fill="#111" stroke="#111" stroke-width="0.22" transform="rotate(-90 332.20 333.40)">DOS (electrons/eV)</text>
<text x="313.55" y="286.40" font-size="16.3" text-anchor="start" fill="#000" stroke="#000" stroke-width="0.0" font-weight="bold">(f)</text>
<rect x="505.40" y="278.50" width="109.80" height="110.20" fill="none" stroke="#333" stroke-width="1.1"/>
<line x1="513.30" y1="388.70" x2="513.30" y2="390.30" stroke="#333" stroke-width="0.9"/>
<text x="513.30" y="396.90" font-size="7.2" text-anchor="middle" fill="#111" stroke="#111" stroke-width="0.12">-6</text>
<line x1="528.90" y1="388.70" x2="528.90" y2="390.30" stroke="#333" stroke-width="0.9"/>
<text x="528.90" y="396.90" font-size="7.2" text-anchor="middle" fill="#111" stroke="#111" stroke-width="0.12">-4</text>
<line x1="544.50" y1="388.70" x2="544.50" y2="390.30" stroke="#333" stroke-width="0.9"/>
<text x="544.50" y="396.90" font-size="7.2" text-anchor="middle" fill="#111" stroke="#111" stroke-width="0.12">-2</text>
<line x1="560.10" y1="388.70" x2="560.10" y2="390.30" stroke="#333" stroke-width="0.9"/>
<text x="560.10" y="396.90" font-size="7.2" text-anchor="middle" fill="#111" stroke="#111" stroke-width="0.12">0</text>
<line x1="575.70" y1="388.70" x2="575.70" y2="390.30" stroke="#333" stroke-width="0.9"/>
<text x="575.70" y="396.90" font-size="7.2" text-anchor="middle" fill="#111" stroke="#111" stroke-width="0.12">2</text>
<line x1="591.30" y1="388.70" x2="591.30" y2="390.30" stroke="#333" stroke-width="0.9"/>
<text x="591.30" y="396.90" font-size="7.2" text-anchor="middle" fill="#111" stroke="#111" stroke-width="0.12">4</text>
<line x1="606.90" y1="388.70" x2="606.90" y2="390.30" stroke="#333" stroke-width="0.9"/>
<text x="606.90" y="396.90" font-size="7.2" text-anchor="middle" fill="#111" stroke="#111" stroke-width="0.12">6</text>
<line x1="505.50" y1="388.70" x2="505.50" y2="389.70" stroke="#333" stroke-width="0.8"/>
<line x1="521.10" y1="388.70" x2="521.10" y2="389.70" stroke="#333" stroke-width="0.8"/>
<line x1="536.70" y1="388.70" x2="536.70" y2="389.70" stroke="#333" stroke-width="0.8"/>
<line x1="552.30" y1="388.70" x2="552.30" y2="389.70" stroke="#333" stroke-width="0.8"/>
<line x1="567.90" y1="388.70" x2="567.90" y2="389.70" stroke="#333" stroke-width="0.8"/>
<line x1="583.50" y1="388.70" x2="583.50" y2="389.70" stroke="#333" stroke-width="0.8"/>
<line x1="599.10" y1="388.70" x2="599.10" y2="389.70" stroke="#333" stroke-width="0.8"/>
<line x1="614.70" y1="388.70" x2="614.70" y2="389.70" stroke="#333" stroke-width="0.8"/>
<line x1="503.80" y1="281.65" x2="505.40" y2="281.65" stroke="#333" stroke-width="0.9"/>
<text x="502.60" y="284.15" font-size="7.2" text-anchor="end" fill="#111" stroke="#111" stroke-width="0.12">75</text>
<line x1="503.80" y1="298.90" x2="505.40" y2="298.90" stroke="#333" stroke-width="0.9"/>
<text x="502.60" y="301.40" font-size="7.2" text-anchor="end" fill="#111" stroke="#111" stroke-width="0.12">50</text>
<line x1="503.80" y1="316.15" x2="505.40" y2="316.15" stroke="#333" stroke-width="0.9"/>
<text x="502.60" y="318.65" font-size="7.2" text-anchor="end" fill="#111" stroke="#111" stroke-width="0.12">25</text>
<line x1="503.80" y1="333.40" x2="505.40" y2="333.40" stroke="#333" stroke-width="0.9"/>
<text x="502.60" y="335.90" font-size="7.2" text-anchor="end" fill="#111" stroke="#111" stroke-width="0.12">0</text>
<line x1="503.80" y1="350.65" x2="505.40" y2="350.65" stroke="#333" stroke-width="0.9"/>
<text x="502.60" y="353.15" font-size="7.2" text-anchor="end" fill="#111" stroke="#111" stroke-width="0.12">-25</text>
<line x1="503.80" y1="367.90" x2="505.40" y2="367.90" stroke="#333" stroke-width="0.9"/>
<text x="502.60" y="370.40" font-size="7.2" text-anchor="end" fill="#111" stroke="#111" stroke-width="0.12">-50</text>
<line x1="503.80" y1="385.15" x2="505.40" y2="385.15" stroke="#333" stroke-width="0.9"/>
<text x="502.60" y="387.65" font-size="7.2" text-anchor="end" fill="#111" stroke="#111" stroke-width="0.12">-75</text>
<polyline points="505.24,331.16 505.71,331.14 506.33,331.12 507.07,331.10 507.89,331.07 508.75,331.02 509.62,330.97 510.46,330.89 511.23,330.78 511.95,330.65 512.66,330.48 513.37,330.28 514.06,330.07 514.76,329.86 515.45,329.65 516.15,329.45 516.85,329.29 517.55,329.13 518.25,328.97 518.95,328.81 519.66,328.67 520.36,328.54 521.06,328.44 521.76,328.37 522.46,328.35 523.17,328.37 523.87,328.44 524.57,328.54 525.27,328.67 525.97,328.81 526.68,328.97 527.38,329.13 528.08,329.29 528.78,329.45 529.48,329.63 530.19,329.82 530.89,330.02 531.59,330.23 532.29,330.42 532.99,330.61 533.70,330.78 534.37,330.94 535.01,331.09 535.64,331.23 536.27,331.37 536.93,331.50 537.64,331.64 538.43,331.77 539.31,331.91 540.31,332.05 541.43,332.20 542.63,332.35 543.87,332.50 545.13,332.65 546.37,332.79 547.56,332.92 548.67,333.03 549.70,333.14 550.67,333.25 551.62,333.36 552.53,333.46 553.43,333.54 554.33,333.60 555.24,333.62 556.16,333.59 557.09,333.52 558.03,333.39 558.97,333.23 559.90,333.04 560.84,332.84 561.77,332.64 562.71,332.45 563.65,332.28 564.58,332.12 565.52,331.95 566.45,331.77 567.39,331.60 568.33,331.45 569.26,331.32 570.20,331.22 571.13,331.16 572.10,331.14 573.09,331.15 574.11,331.19 575.11,331.25 576.09,331.34 577.01,331.45 577.87,331.58 578.62,331.72 579.24,331.92 579.73,332.20 580.14,332.52 580.49,332.84 580.85,333.15 581.25,333.40 581.74,333.56 582.37,333.59 583.12,333.48 583.97,333.24 584.90,332.90 585.88,332.52 586.88,332.11 587.89,331.72 588.89,331.39 589.85,331.16 590.79,331.01 591.73,330.92 592.66,330.87 593.60,330.84 594.53,330.83 595.47,330.83 596.41,330.82 597.34,330.78 598.28,330.73 599.21,330.66 600.15,330.59 601.09,330.53 602.02,330.47 602.96,330.42 603.89,330.40 604.83,330.41 605.80,330.44 606.83,330.48 607.88,330.53 608.92,330.61 609.92,330.71 610.84,330.83 611.65,330.98 612.32,331.16 612.83,331.40 613.22,331.71 613.51,332.05 613.72,332.42 613.87,332.78 613.98,333.12 614.08,333.39 614.19,333.59" fill="none" stroke="#86d866" stroke-width="1.1" stroke-linejoin="round"/>
<polyline points="505.24,336.03 505.71,336.05 506.33,336.07 507.07,336.09 507.89,336.12 508.75,336.16 509.62,336.22 510.46,336.30 511.23,336.40 511.95,336.54 512.66,336.71 513.37,336.90 514.06,337.11 514.76,337.33 515.45,337.54 516.15,337.73 516.85,337.90 517.55,338.05 518.25,338.22 518.95,338.37 519.66,338.52 520.36,338.64 521.06,338.74 521.76,338.81 522.46,338.83 523.17,338.81 523.87,338.74 524.57,338.64 525.27,338.52 525.97,338.37 526.68,338.22 527.38,338.05 528.08,337.90 528.78,337.73 529.48,337.55 530.19,337.36 530.89,337.16 531.59,336.96 532.29,336.76 532.99,336.57 533.70,336.40 534.37,336.24 535.01,336.09 535.64,335.95 536.27,335.82 536.93,335.68 537.64,335.55 538.43,335.41 539.31,335.28 540.31,335.13 541.43,334.98 542.63,334.83 543.87,334.68 545.13,334.53 546.37,334.40 547.56,334.27 548.67,334.15 549.70,334.04 550.67,333.93 551.62,333.82 552.53,333.72 553.43,333.64 554.33,333.59 555.24,333.57 556.16,333.59 557.09,333.67 558.03,333.79 558.97,333.95 559.90,334.14 560.84,334.34 561.77,334.54 562.71,334.74 563.65,334.90 564.58,335.06 565.52,335.24 566.45,335.41 567.39,335.58 568.33,335.74 569.26,335.87 570.20,335.97 571.13,336.03 572.10,336.05 573.09,336.03 574.11,336.00 575.11,335.93 576.09,335.84 577.01,335.74 577.87,335.61 578.62,335.46 579.24,335.26 579.73,334.99 580.14,334.67 580.49,334.34 580.85,334.04 581.25,333.79 581.74,333.63 582.37,333.59 583.12,333.70 583.97,333.95 584.90,334.28 585.88,334.67 586.88,335.07 587.89,335.46 588.89,335.79 589.85,336.03 590.79,336.17 591.73,336.26 592.66,336.32 593.60,336.34 594.53,336.35 595.47,336.35 596.41,336.37 597.34,336.40 598.28,336.45 599.21,336.52 600.15,336.59 601.09,336.66 602.02,336.72 602.96,336.76 603.89,336.78 604.83,336.77 605.80,336.75 606.83,336.71 607.88,336.65 608.92,336.58 609.92,336.48 610.84,336.36 611.65,336.21 612.32,336.03 612.83,335.79 613.22,335.48 613.51,335.13 613.72,334.76 613.87,334.40 613.98,334.07 614.08,333.79 614.19,333.59" fill="none" stroke="#86d866" stroke-width="1.1" stroke-linejoin="round"/>
<polyline points="505.24,329.29 505.49,329.36 505.82,329.45 506.22,329.57 506.66,329.70 507.12,329.83 507.58,329.97 508.02,330.10 508.42,330.22 508.79,330.37 509.15,330.54 509.50,330.74 509.85,330.92 510.20,331.08 510.54,331.19 510.88,331.22 511.23,331.16 511.58,330.99 511.93,330.74 512.28,330.42 512.64,330.05 512.99,329.64 513.34,329.21 513.69,328.77 514.04,328.35 514.39,327.93 514.74,327.48 515.09,327.02 515.44,326.54 515.79,326.05 516.15,325.56 516.50,325.08 516.85,324.61 517.21,324.12 517.57,323.61 517.94,323.10 518.31,322.58 518.67,322.09 519.02,321.63 519.35,321.21 519.66,320.86 519.93,320.56 520.19,320.30 520.43,320.08 520.65,319.89 520.87,319.75 521.08,319.64 521.30,319.57 521.53,319.55 521.76,319.59 522.00,319.70 522.23,319.87 522.46,320.07 522.70,320.28 522.93,320.50 523.17,320.70 523.40,320.86 523.63,321.00 523.85,321.12 524.06,321.24 524.28,321.35 524.50,321.46 524.74,321.57 524.99,321.68 525.27,321.80 525.58,321.90 525.92,321.99 526.28,322.07 526.65,322.15 527.03,322.25 527.39,322.37 527.75,322.53 528.08,322.73 528.39,323.05 528.68,323.48 528.95,323.98 529.23,324.49 529.49,324.96 529.76,325.32 530.04,325.54 530.33,325.54 530.62,325.31 530.93,324.88 531.25,324.30 531.57,323.61 531.88,322.88 532.19,322.14 532.48,321.45 532.76,320.86 533.02,320.35 533.27,319.86 533.50,319.39 533.73,318.93 533.95,318.48 534.18,318.03 534.40,317.58 534.63,317.12 534.87,316.61 535.10,316.05 535.33,315.47 535.57,314.90 535.80,314.37 536.04,313.92 536.27,313.57 536.50,313.38 536.74,313.32 536.97,313.38 537.21,313.54 537.44,313.78 537.67,314.09 537.91,314.45 538.14,314.84 538.38,315.25 538.60,315.72 538.82,316.31 539.04,316.96 539.25,317.65 539.48,318.32 539.71,318.95 539.97,319.50 540.25,319.93 540.55,320.21 540.88,320.38 541.23,320.47 541.59,320.51 541.96,320.54 542.33,320.59 542.70,320.68 543.06,320.86 543.41,321.11 543.76,321.39 544.11,321.70 544.46,322.03 544.81,322.40 545.16,322.79 545.51,323.22 545.86,323.67 546.21,324.17 546.56,324.73 546.92,325.33 547.27,325.95 547.62,326.58 547.97,327.20 548.32,327.80 548.67,328.35 549.02,328.88 549.37,329.41 549.72,329.92 550.07,330.42 550.43,330.90 550.78,331.34 551.13,331.74 551.48,332.09 551.80,332.40 552.07,332.66 552.33,332.89 552.59,333.08 552.89,333.24 553.26,333.38 553.71,333.49 554.29,333.59 555.02,333.68 555.92,333.75 556.92,333.81 557.97,333.84 559.04,333.84 560.06,333.80 560.99,333.72 561.77,333.59 562.42,333.40 562.97,333.14 563.45,332.83 563.88,332.49 564.28,332.14 564.67,331.78 565.08,331.45 565.52,331.16 565.99,330.89 566.45,330.63 566.92,330.37 567.39,330.13 567.86,329.90 568.33,329.68 568.79,329.47 569.26,329.29 569.74,329.11 570.22,328.94 570.71,328.78 571.19,328.64 571.67,328.52 572.14,328.43 572.58,328.37 573.01,328.35 573.40,328.37 573.77,328.43 574.13,328.52 574.47,328.64 574.80,328.78 575.13,328.94 575.47,329.11 575.81,329.29 576.17,329.47 576.54,329.68 576.91,329.90 577.28,330.13 577.64,330.37 577.99,330.63 578.32,330.89 578.62,331.16 578.89,331.47 579.11,331.84 579.31,332.24 579.50,332.64 579.70,333.01 579.92,333.31 580.18,333.52 580.49,333.59 580.87,333.52 581.30,333.31 581.76,333.01 582.25,332.64 582.75,332.24 583.26,331.84 583.76,331.47 584.24,331.16 584.71,330.88 585.17,330.59 585.64,330.29 586.11,330.01 586.58,329.76 587.05,329.54 587.51,329.38 587.98,329.29 588.44,329.27 588.87,329.32 589.30,329.43 589.74,329.58 590.18,329.75 590.66,329.92 591.17,330.09 591.73,330.22 592.34,330.35 593.00,330.50 593.69,330.66 594.42,330.81 595.15,330.94 595.89,331.06 596.63,331.13 597.34,331.16 598.04,331.13 598.75,331.06 599.45,330.94 600.15,330.81 600.85,330.66 601.55,330.50 602.26,330.35 602.96,330.22 603.67,330.10 604.41,329.98 605.15,329.85 605.88,329.72 606.60,329.60 607.30,329.48 607.96,329.38 608.57,329.29 609.14,329.18 609.69,329.04 610.20,328.88 610.68,328.75 611.13,328.66 611.56,328.64 611.95,328.71 612.32,328.91 612.65,329.29 612.96,329.84 613.24,330.50 613.49,331.23 613.71,331.96 613.90,332.63 614.06,333.20 614.19,333.59" fill="none" stroke="#5ed894" stroke-width="1.1" stroke-linejoin="round"/>
<polyline points="505.24,337.90 505.49,337.83 505.82,337.73 506.22,337.62 506.66,337.49 507.12,337.35 507.58,337.22 508.02,337.09 508.42,336.96 508.79,336.82 509.15,336.64 509.50,336.45 509.85,336.26 510.20,336.10 510.54,336.00 510.88,335.96 511.23,336.03 511.58,336.19 511.93,336.44 512.28,336.76 512.64,337.14 512.99,337.55 513.34,337.98 513.69,338.41 514.04,338.83 514.39,339.26 514.74,339.70 515.09,340.17 515.44,340.65 515.79,341.13 516.15,341.62 516.50,342.10 516.85,342.58 517.21,343.06 517.57,343.57 517.94,344.09 518.31,344.60 518.67,345.10 519.02,345.56 519.35,345.97 519.66,346.32 519.93,346.62 520.19,346.88 520.43,347.11 520.65,347.29 520.87,347.44 521.08,347.55 521.30,347.61 521.53,347.63 521.76,347.59 522.00,347.48 522.23,347.32 522.46,347.12 522.70,346.90 522.93,346.68 523.17,346.49 523.40,346.32 523.63,346.19 523.85,346.06 524.06,345.94 524.28,345.83 524.50,345.72 524.74,345.61 524.99,345.50 525.27,345.39 525.58,345.28 525.92,345.20 526.28,345.12 526.65,345.03 527.03,344.94 527.39,344.82 527.75,344.66 528.08,344.45 528.39,344.14 528.68,343.70 528.95,343.20 529.23,342.69 529.49,342.23 529.76,341.86 530.04,341.65 530.33,341.64 530.62,341.87 530.93,342.31 531.25,342.89 531.57,343.57 531.88,344.31 532.19,345.04 532.48,345.73 532.76,346.32 533.02,346.83 533.27,347.32 533.50,347.79 533.73,348.25 533.95,348.70 534.18,349.15 534.40,349.60 534.63,350.07 534.87,350.57 535.10,351.13 535.33,351.72 535.57,352.29 535.80,352.82 536.04,353.27 536.27,353.61 536.50,353.81 536.74,353.86 536.97,353.80 537.21,353.64 537.44,353.40 537.67,353.09 537.91,352.73 538.14,352.34 538.38,351.94 538.60,351.46 538.82,350.88 539.04,350.22 539.25,349.54 539.48,348.86 539.71,348.23 539.97,347.68 540.25,347.26 540.55,346.97 540.88,346.80 541.23,346.71 541.59,346.67 541.96,346.65 542.33,346.60 542.70,346.50 543.06,346.32 543.41,346.07 543.76,345.80 544.11,345.49 544.46,345.15 544.81,344.79 545.16,344.39 545.51,343.97 545.86,343.51 546.21,343.01 546.56,342.45 546.92,341.85 547.27,341.23 547.62,340.60 547.97,339.98 548.32,339.39 548.67,338.83 549.02,338.31 549.37,337.78 549.72,337.26 550.07,336.76 550.43,336.29 550.78,335.85 551.13,335.44 551.48,335.09 551.80,334.78 552.07,334.52 552.33,334.30 552.59,334.11 552.89,333.95 553.26,333.81 553.71,333.69 554.29,333.59 555.02,333.50 555.92,333.43 556.92,333.38 557.97,333.35 559.04,333.35 560.06,333.39 560.99,333.47 561.77,333.59 562.42,333.78 562.97,334.04 563.45,334.35 563.88,334.69 564.28,335.05 564.67,335.40 565.08,335.73 565.52,336.03 565.99,336.29 566.45,336.56 566.92,336.81 567.39,337.06 567.86,337.29 568.33,337.51 568.79,337.71 569.26,337.90 569.74,338.07 570.22,338.24 570.71,338.40 571.19,338.54 571.67,338.66 572.14,338.75 572.58,338.81 573.01,338.83 573.40,338.81 573.77,338.75 574.13,338.66 574.47,338.54 574.80,338.40 575.13,338.24 575.47,338.07 575.81,337.90 576.17,337.71 576.54,337.51 576.91,337.29 577.28,337.06 577.64,336.81 577.99,336.56 578.32,336.29 578.62,336.03 578.89,335.72 579.11,335.34 579.31,334.94 579.50,334.54 579.70,334.17 579.92,333.87 580.18,333.67 580.49,333.59 580.87,333.67 581.30,333.87 581.76,334.17 582.25,334.54 582.75,334.94 583.26,335.34 583.76,335.72 584.24,336.03 584.71,336.31 585.17,336.60 585.64,336.89 586.11,337.17 586.58,337.43 587.05,337.64 587.51,337.80 587.98,337.90 588.44,337.92 588.87,337.86 589.30,337.75 589.74,337.61 590.18,337.44 590.66,337.26 591.17,337.10 591.73,336.96 592.34,336.83 593.00,336.68 593.69,336.53 594.42,336.38 595.15,336.24 595.89,336.13 596.63,336.05 597.34,336.03 598.04,336.05 598.75,336.13 599.45,336.24 600.15,336.38 600.85,336.53 601.55,336.68 602.26,336.83 602.96,336.96 603.67,337.08 604.41,337.21 605.15,337.34 605.88,337.46 606.60,337.59 607.30,337.70 607.96,337.81 608.57,337.90 609.14,338.01 609.69,338.15 610.20,338.30 610.68,338.44 611.13,338.53 611.56,338.55 611.95,338.47 612.32,338.27 612.65,337.90 612.96,337.35 613.24,336.68 613.49,335.96 613.71,335.23 613.90,334.55 614.06,333.99 614.19,333.59" fill="none" stroke="#5ed894" stroke-width="1.1" stroke-linejoin="round"/>
<polyline points="505.24,318.99 505.41,319.04 505.63,319.09 505.89,319.15 506.19,319.23 506.51,319.33 506.83,319.47 507.16,319.67 507.49,319.93 507.82,320.27 508.17,320.71 508.54,321.21 508.92,321.74 509.29,322.28 509.65,322.80 509.99,323.27 510.30,323.67 510.57,324.03 510.83,324.40 511.07,324.76 511.29,325.07 511.51,325.33 511.72,325.51 511.94,325.59 512.17,325.54 512.40,325.35 512.64,325.02 512.87,324.59 513.10,324.08 513.34,323.52 513.57,322.93 513.81,322.35 514.04,321.80 514.27,321.25 514.51,320.65 514.74,320.03 514.98,319.40 515.21,318.78 515.44,318.18 515.68,317.62 515.91,317.12 516.15,316.68 516.38,316.31 516.61,315.97 516.85,315.66 517.08,315.35 517.32,315.04 517.55,314.69 517.78,314.31 518.02,313.91 518.25,313.53 518.49,313.14 518.72,312.73 518.95,312.29 519.19,311.79 519.42,311.22 519.66,310.57 519.89,309.77 520.14,308.80 520.38,307.75 520.63,306.65 520.87,305.57 521.10,304.58 521.32,303.73 521.53,303.08 521.72,302.62 521.89,302.30 522.05,302.08 522.21,301.97 522.36,301.93 522.51,301.96 522.67,302.04 522.84,302.14 523.01,302.30 523.19,302.54 523.37,302.84 523.55,303.20 523.74,303.60 523.93,304.03 524.13,304.49 524.34,304.95 524.55,305.46 524.78,306.03 525.01,306.65 525.25,307.29 525.49,307.93 525.73,308.55 525.97,309.12 526.21,309.63 526.44,310.04 526.68,310.36 526.91,310.62 527.14,310.86 527.38,311.13 527.61,311.45 527.85,311.88 528.08,312.44 528.32,313.18 528.56,314.07 528.80,315.07 529.04,316.12 529.28,317.19 529.51,318.21 529.74,319.14 529.95,319.93 530.15,320.63 530.34,321.30 530.52,321.93 530.70,322.50 530.88,322.98 531.06,323.35 531.25,323.59 531.45,323.67 531.66,323.61 531.88,323.44 532.11,323.14 532.34,322.73 532.57,322.21 532.82,321.56 533.07,320.80 533.32,319.93 533.59,318.87 533.87,317.61 534.17,316.20 534.47,314.69 534.76,313.13 535.05,311.57 535.32,310.08 535.57,308.70 535.79,307.33 536.00,305.90 536.19,304.45 536.37,303.04 536.55,301.74 536.72,300.58 536.89,299.64 537.06,298.96 537.23,298.57 537.39,298.41 537.55,298.45 537.70,298.66 537.85,298.98 538.01,299.38 538.19,299.83 538.38,300.27 538.58,300.79 538.80,301.44 539.04,302.19 539.28,302.99 539.52,303.80 539.77,304.58 540.01,305.29 540.25,305.89 540.47,306.37 540.69,306.79 540.91,307.15 541.12,307.47 541.35,307.77 541.59,308.06 541.84,308.36 542.12,308.70 542.43,309.03 542.78,309.35 543.14,309.67 543.52,309.98 543.90,310.31 544.27,310.67 544.61,311.06 544.93,311.50 545.21,311.99 545.46,312.52 545.70,313.08 545.92,313.67 546.14,314.28 546.35,314.90 546.57,315.54 546.80,316.18 547.03,316.83 547.25,317.50 547.46,318.18 547.68,318.87 547.90,319.58 548.14,320.31 548.39,321.05 548.67,321.80 548.98,322.59 549.31,323.44 549.66,324.31 550.02,325.19 550.38,326.06 550.75,326.89 551.12,327.66 551.48,328.35 551.84,328.99 552.21,329.59 552.59,330.17 552.96,330.69 553.33,331.16 553.68,331.55 554.00,331.87 554.29,332.09 554.54,332.21 554.76,332.23 554.95,332.17 555.13,332.04 555.29,331.85 555.45,331.63 555.62,331.40 555.78,331.16 555.96,330.86 556.13,330.46 556.29,330.00 556.45,329.52 556.61,329.07 556.77,328.70 556.93,328.45 557.09,328.35 557.26,328.44 557.43,328.67 557.59,329.01 557.76,329.43 557.93,329.89 558.09,330.35 558.25,330.79 558.41,331.16 558.55,331.51 558.67,331.91 558.79,332.31 558.91,332.70 559.03,333.05 559.17,333.33 559.34,333.52 559.53,333.59 559.75,333.54 560.00,333.40 560.26,333.18 560.55,332.88 560.84,332.52 561.15,332.10 561.46,331.65 561.77,331.16 562.10,330.60 562.44,329.96 562.79,329.24 563.14,328.49 563.50,327.72 563.87,326.96 564.23,326.22 564.58,325.54 564.94,324.89 565.30,324.22 565.66,323.55 566.02,322.91 566.38,322.30 566.73,321.75 567.07,321.26 567.39,320.86 567.70,320.57 567.99,320.39 568.27,320.28 568.54,320.22 568.81,320.18 569.08,320.14 569.35,320.06 569.64,319.93 569.94,319.74 570.25,319.53 570.56,319.31 570.88,319.07 571.19,318.83 571.50,318.57 571.79,318.31 572.07,318.06 572.33,317.76 572.58,317.39 572.81,317.00 573.04,316.62 573.27,316.27 573.49,316.00 573.71,315.83 573.94,315.81 574.17,315.94 574.40,316.19 574.62,316.54 574.84,316.97 575.07,317.45 575.31,317.96 575.55,318.48 575.81,318.99 576.10,319.50 576.40,320.03 576.71,320.60 577.03,321.18 577.35,321.78 577.67,322.40 577.97,323.03 578.25,323.67 578.51,324.35 578.77,325.07 579.02,325.83 579.25,326.60 579.48,327.35 579.70,328.06 579.92,328.71 580.12,329.29 580.31,329.81 580.49,330.32 580.65,330.79 580.81,331.22 580.96,331.58 581.12,331.85 581.27,332.03 581.43,332.09 581.59,332.04 581.73,331.90 581.87,331.66 582.02,331.33 582.17,330.93 582.33,330.45 582.52,329.90 582.74,329.29 582.99,328.57 583.27,327.74 583.57,326.82 583.89,325.84 584.21,324.81 584.54,323.78 584.86,322.77 585.17,321.80 585.48,320.86 585.80,319.93 586.11,318.99 586.43,318.06 586.74,317.12 587.04,316.18 587.33,315.25 587.61,314.31 587.87,313.34 588.12,312.33 588.35,311.30 588.58,310.27 588.80,309.29 589.02,308.37 589.25,307.54 589.48,306.82 589.71,306.22 589.94,305.70 590.17,305.26 590.39,304.89 590.62,304.59 590.86,304.34 591.10,304.16 591.35,304.02 591.61,303.97 591.87,304.05 592.14,304.22 592.42,304.42 592.70,304.64 592.99,304.83 593.29,304.94 593.60,304.95 593.92,304.86 594.26,304.72 594.61,304.54 594.97,304.31 595.33,304.04 595.69,303.74 596.05,303.42 596.41,303.08 596.76,302.69 597.11,302.23 597.46,301.73 597.81,301.21 598.16,300.68 598.51,300.18 598.86,299.73 599.21,299.34 599.56,299.02 599.92,298.76 600.27,298.54 600.62,298.34 600.97,298.15 601.32,297.95 601.67,297.73 602.02,297.46 602.37,297.16 602.72,296.83 603.07,296.48 603.43,296.12 603.78,295.75 604.13,295.38 604.48,295.01 604.83,294.66 605.18,294.32 605.52,294.02 605.87,293.73 606.21,293.43 606.56,293.11 606.91,292.75 607.27,292.33 607.64,291.85 608.03,291.22 608.45,290.44 608.88,289.58 609.31,288.69 609.73,287.84 610.13,287.11 610.50,286.55 610.82,286.23 611.09,286.04 611.32,285.86 611.52,285.76 611.70,285.82 611.86,286.11 612.01,286.69 612.16,287.65 612.32,289.04 612.48,290.99 612.63,293.49 612.78,296.41 612.93,299.59 613.06,302.92 613.19,306.26 613.32,309.48 613.44,312.44 613.56,315.34 613.67,318.38 613.78,321.47 613.89,324.48 613.98,327.31 614.06,329.84 614.13,331.98 614.19,333.59" fill="none" stroke="#c4e866" stroke-width="1.1" stroke-linejoin="round"/>
<polyline points="505.24,348.19 505.41,348.14 505.63,348.09 505.89,348.03 506.19,347.96 506.51,347.86 506.83,347.71 507.16,347.52 507.49,347.26 507.82,346.91 508.17,346.48 508.54,345.98 508.92,345.44 509.29,344.90 509.65,344.38 509.99,343.91 510.30,343.51 510.57,343.15 510.83,342.78 511.07,342.43 511.29,342.11 511.51,341.85 511.72,341.67 511.94,341.59 512.17,341.64 512.40,341.83 512.64,342.16 512.87,342.59 513.10,343.10 513.34,343.67 513.57,344.25 513.81,344.83 514.04,345.39 514.27,345.94 514.51,346.53 514.74,347.15 514.98,347.78 515.21,348.41 515.44,349.01 515.68,349.56 515.91,350.07 516.15,350.50 516.38,350.88 516.61,351.21 516.85,351.53 517.08,351.83 517.32,352.15 517.55,352.49 517.78,352.87 518.02,353.27 518.25,353.66 518.49,354.04 518.72,354.45 518.95,354.90 519.19,355.40 519.42,355.96 519.66,356.62 519.89,357.42 520.14,358.38 520.38,359.44 520.63,360.54 520.87,361.61 521.10,362.61 521.32,363.46 521.53,364.11 521.72,364.56 521.89,364.89 522.05,365.10 522.21,365.22 522.36,365.25 522.51,365.22 522.67,365.15 522.84,365.04 523.01,364.88 523.19,364.65 523.37,364.34 523.55,363.99 523.74,363.59 523.93,363.15 524.13,362.70 524.34,362.23 524.55,361.73 524.78,361.15 525.01,360.53 525.25,359.89 525.49,359.25 525.73,358.64 525.97,358.06 526.21,357.55 526.44,357.14 526.68,356.83 526.91,356.57 527.14,356.32 527.38,356.06 527.61,355.73 527.85,355.31 528.08,354.75 528.32,354.01 528.56,353.11 528.80,352.12 529.04,351.06 529.28,350.00 529.51,348.98 529.74,348.05 529.95,347.26 530.15,346.56 530.34,345.88 530.52,345.25 530.70,344.68 530.88,344.20 531.06,343.84 531.25,343.60 531.45,343.51 531.66,343.57 531.88,343.75 532.11,344.04 532.34,344.45 532.57,344.98 532.82,345.62 533.07,346.38 533.32,347.26 533.59,348.31 533.87,349.57 534.17,350.99 534.47,352.50 534.76,354.06 535.05,355.61 535.32,357.11 535.57,358.49 535.79,359.85 536.00,361.29 536.19,362.73 536.37,364.14 536.55,365.45 536.72,366.60 536.89,367.55 537.06,368.22 537.23,368.62 537.39,368.77 537.55,368.73 537.70,368.53 537.85,368.21 538.01,367.80 538.19,367.36 538.38,366.91 538.58,366.40 538.80,365.75 539.04,365.00 539.28,364.20 539.52,363.39 539.77,362.60 540.01,361.89 540.25,361.30 540.47,360.81 540.69,360.40 540.91,360.04 541.12,359.72 541.35,359.42 541.59,359.13 541.84,358.82 542.12,358.49 542.43,358.15 542.78,357.83 543.14,357.52 543.52,357.20 543.90,356.87 544.27,356.51 544.61,356.12 544.93,355.68 545.21,355.19 545.46,354.66 545.70,354.10 545.92,353.52 546.14,352.91 546.35,352.28 546.57,351.64 546.80,351.00 547.03,350.35 547.25,349.69 547.46,349.01 547.68,348.31 547.90,347.60 548.14,346.88 548.39,346.14 548.67,345.39 548.98,344.59 549.31,343.75 549.66,342.87 550.02,341.99 550.38,341.13 550.75,340.30 551.12,339.52 551.48,338.83 551.84,338.20 552.21,337.59 552.59,337.02 552.96,336.49 553.33,336.03 553.68,335.63 554.00,335.31 554.29,335.09 554.54,334.97 554.76,334.95 554.95,335.02 555.13,335.15 555.29,335.33 555.45,335.55 555.62,335.79 555.78,336.03 555.96,336.33 556.13,336.73 556.29,337.19 556.45,337.66 556.61,338.11 556.77,338.48 556.93,338.74 557.09,338.83 557.26,338.75 557.43,338.52 557.59,338.18 557.76,337.76 557.93,337.30 558.09,336.83 558.25,336.40 558.41,336.03 558.55,335.67 558.67,335.28 558.79,334.87 558.91,334.48 559.03,334.13 559.17,333.85 559.34,333.66 559.53,333.59 559.75,333.64 560.00,333.78 560.26,334.01 560.55,334.31 560.84,334.67 561.15,335.08 561.46,335.54 561.77,336.03 562.10,336.58 562.44,337.23 562.79,337.94 563.14,338.69 563.50,339.46 563.87,340.23 564.23,340.96 564.58,341.64 564.94,342.30 565.30,342.97 565.66,343.63 566.02,344.27 566.38,344.88 566.73,345.44 567.07,345.92 567.39,346.32 567.70,346.61 567.99,346.80 568.27,346.91 568.54,346.97 568.81,347.00 569.08,347.05 569.35,347.12 569.64,347.26 569.94,347.44 570.25,347.65 570.56,347.87 570.88,348.11 571.19,348.36 571.50,348.61 571.79,348.87 572.07,349.13 572.33,349.43 572.58,349.79 572.81,350.18 573.04,350.57 573.27,350.91 573.49,351.19 573.71,351.35 573.94,351.38 574.17,351.25 574.40,351.00 574.62,350.65 574.84,350.22 575.07,349.74 575.31,349.22 575.55,348.70 575.81,348.19 576.10,347.69 576.40,347.15 576.71,346.59 577.03,346.01 577.35,345.40 577.67,344.78 577.97,344.15 578.25,343.51 578.51,342.84 578.77,342.11 579.02,341.35 579.25,340.59 579.48,339.84 579.70,339.13 579.92,338.47 580.12,337.90 580.31,337.37 580.49,336.87 580.65,336.39 580.81,335.97 580.96,335.61 581.12,335.33 581.27,335.15 581.43,335.09 581.59,335.14 581.73,335.29 581.87,335.53 582.02,335.85 582.17,336.26 582.33,336.74 582.52,337.28 582.74,337.90 582.99,338.61 583.27,339.44 583.57,340.36 583.89,341.35 584.21,342.37 584.54,343.40 584.86,344.42 585.17,345.39 585.48,346.32 585.80,347.26 586.11,348.19 586.43,349.13 586.74,350.07 587.04,351.00 587.33,351.94 587.61,352.87 587.87,353.84 588.12,354.86 588.35,355.89 588.58,356.91 588.80,357.90 589.02,358.82 589.25,359.65 589.48,360.36 589.71,360.96 589.94,361.48 590.17,361.92 590.39,362.29 590.62,362.60 590.86,362.84 591.10,363.03 591.35,363.17 591.61,363.21 591.87,363.13 592.14,362.97 592.42,362.76 592.70,362.54 592.99,362.36 593.29,362.24 593.60,362.23 593.92,362.32 594.26,362.46 594.61,362.65 594.97,362.88 595.33,363.14 595.69,363.44 596.05,363.76 596.41,364.11 596.76,364.50 597.11,364.95 597.46,365.45 597.81,365.98 598.16,366.50 598.51,367.00 598.86,367.46 599.21,367.85 599.56,368.17 599.92,368.43 600.27,368.65 600.62,368.84 600.97,369.03 601.32,369.23 601.67,369.46 602.02,369.72 602.37,370.03 602.72,370.36 603.07,370.71 603.43,371.07 603.78,371.43 604.13,371.81 604.48,372.17 604.83,372.53 605.18,372.86 605.52,373.17 605.87,373.46 606.21,373.76 606.56,374.08 606.91,374.44 607.27,374.85 607.64,375.34 608.03,375.96 608.45,376.74 608.88,377.61 609.31,378.50 609.73,379.34 610.13,380.08 610.50,380.63 610.82,380.95 611.09,381.15 611.32,381.33 611.52,381.42 611.70,381.36 611.86,381.08 612.01,380.49 612.16,379.54 612.32,378.14 612.48,376.19 612.63,373.69 612.78,370.78 612.93,367.59 613.06,364.26 613.19,360.92 613.32,357.70 613.44,354.75 613.56,351.85 613.67,348.80 613.78,345.72 613.89,342.71 613.98,339.88 614.06,337.34 614.13,335.21 614.19,333.59" fill="none" stroke="#c4e866" stroke-width="1.1" stroke-linejoin="round"/>
<line x1="505.40" y1="333.40" x2="615.20" y2="333.40" stroke="#9ad4e4" stroke-width="1.6"/>
<line x1="505.40" y1="333.40" x2="615.20" y2="333.40" stroke="#6aa2d2" stroke-width="0.8"/>
<ellipse cx="527" cy="333.4" rx="1.6" ry="1.4" fill="none" stroke="#8ccce0" stroke-width="0.8"/>
<ellipse cx="546" cy="333.4" rx="1.6" ry="1.4" fill="none" stroke="#8ccce0" stroke-width="0.8"/>
<ellipse cx="557" cy="333.4" rx="1.6" ry="1.4" fill="none" stroke="#8ccce0" stroke-width="0.8"/>
<ellipse cx="563" cy="333.4" rx="1.6" ry="1.4" fill="none" stroke="#8ccce0" stroke-width="0.8"/>
<ellipse cx="557.5" cy="333.4" rx="1.3" ry="2.8" fill="none" stroke="#6aa2d2" stroke-width="0.8"/>
<line x1="549.50" y1="282.70" x2="561.80" y2="282.70" stroke="#c6e66a" stroke-width="1.2"/>
<text x="563.50" y="284.80" font-size="6.2" text-anchor="start" fill="#222" stroke="#222" stroke-width="0.12">TDOS</text>
<line x1="549.50" y1="289.50" x2="561.80" y2="289.50" stroke="#8ad86a" stroke-width="1.2"/>
<text x="563.50" y="291.60" font-size="6.2" text-anchor="start" fill="#222" stroke="#222" stroke-width="0.12">C</text>
<line x1="549.50" y1="296.30" x2="561.80" y2="296.30" stroke="#62d896" stroke-width="1.2"/>
<text x="563.50" y="298.40" font-size="6.2" text-anchor="start" fill="#222" stroke="#222" stroke-width="0.12">N</text>
<line x1="549.50" y1="303.20" x2="561.80" y2="303.20" stroke="#6ee6c8" stroke-width="1.2"/>
<text x="563.50" y="305.30" font-size="6.2" text-anchor="start" fill="#222" stroke="#222" stroke-width="0.12">K</text>
<line x1="549.50" y1="311.40" x2="561.80" y2="311.40" stroke="#a4dce8" stroke-width="2.2"/>
<text x="563.50" y="313.50" font-size="6.2" text-anchor="start" fill="#222" stroke="#222" stroke-width="0.12">I<tspan font-size="4" dy="2">3</tspan><tspan font-size="4" dy="-4.5">-</tspan></text>
<line x1="549.50" y1="320.10" x2="561.80" y2="320.10" stroke="#9ab8d8" stroke-width="2.2"/>
<text x="563.50" y="322.20" font-size="6.2" text-anchor="start" fill="#222" stroke="#222" stroke-width="0.12">I<tspan font-size="4" dy="-2">-</tspan></text>
<text x="601.00" y="385.50" font-size="5.8" text-anchor="middle" fill="#222" stroke="#222" stroke-width="0.04">CN-I/I<tspan font-size="4" dy="1.5">3</tspan></text>
<text x="560.20" y="409.40" font-size="9.6" text-anchor="middle" fill="#111" stroke="#111" stroke-width="0.22">Energy (eV)</text>
<text x="491.50" y="333.00" font-size="9.6" text-anchor="middle" fill="#111" stroke="#111" stroke-width="0.22" transform="rotate(-90 491.50 333.00)">DOS (electrons/eV)</text>
<text x="471.95" y="286.40" font-size="16.3" text-anchor="start" fill="#000" stroke="#000" stroke-width="0.0" font-weight="bold">(g)</text>
<rect x="41.50" y="413.40" width="110.50" height="110.10" fill="none" stroke="#333" stroke-width="1.1"/>
<line x1="41.50" y1="523.50" x2="41.50" y2="525.10" stroke="#333" stroke-width="0.9"/>
<text x="41.50" y="531.70" font-size="7.2" text-anchor="middle" fill="#111" stroke="#111" stroke-width="0.12">0</text>
<line x1="69.12" y1="523.50" x2="69.12" y2="525.10" stroke="#333" stroke-width="0.9"/>
<text x="69.12" y="531.70" font-size="7.2" text-anchor="middle" fill="#111" stroke="#111" stroke-width="0.12">2</text>
<line x1="96.75" y1="523.50" x2="96.75" y2="525.10" stroke="#333" stroke-width="0.9"/>
<text x="96.75" y="531.70" font-size="7.2" text-anchor="middle" fill="#111" stroke="#111" stroke-width="0.12">4</text>
<line x1="124.38" y1="523.50" x2="124.38" y2="525.10" stroke="#333" stroke-width="0.9"/>
<text x="124.38" y="531.70" font-size="7.2" text-anchor="middle" fill="#111" stroke="#111" stroke-width="0.12">6</text>
<line x1="152.00" y1="523.50" x2="152.00" y2="525.10" stroke="#333" stroke-width="0.9"/>
<text x="152.00" y="531.70" font-size="7.2" text-anchor="middle" fill="#111" stroke="#111" stroke-width="0.12">8</text>
<line x1="55.31" y1="523.50" x2="55.31" y2="524.50" stroke="#333" stroke-width="0.8"/>
<line x1="82.94" y1="523.50" x2="82.94" y2="524.50" stroke="#333" stroke-width="0.8"/>
<line x1="110.56" y1="523.50" x2="110.56" y2="524.50" stroke="#333" stroke-width="0.8"/>
<line x1="138.19" y1="523.50" x2="138.19" y2="524.50" stroke="#333" stroke-width="0.8"/>
<line x1="39.90" y1="441.40" x2="41.50" y2="441.40" stroke="#333" stroke-width="0.9"/>
<text x="38.70" y="443.90" font-size="7.2" text-anchor="end" fill="#111" stroke="#111" stroke-width="0.12">0</text>
<line x1="39.90" y1="469.40" x2="41.50" y2="469.40" stroke="#333" stroke-width="0.9"/>
<text x="38.70" y="471.90" font-size="7.2" text-anchor="end" fill="#111" stroke="#111" stroke-width="0.12">-3</text>
<line x1="39.90" y1="497.40" x2="41.50" y2="497.40" stroke="#333" stroke-width="0.9"/>
<text x="38.70" y="499.90" font-size="7.2" text-anchor="end" fill="#111" stroke="#111" stroke-width="0.12">-6</text>
<line x1="40.50" y1="427.40" x2="41.50" y2="427.40" stroke="#333" stroke-width="0.8"/>
<line x1="40.50" y1="455.40" x2="41.50" y2="455.40" stroke="#333" stroke-width="0.8"/>
<line x1="40.50" y1="483.40" x2="41.50" y2="483.40" stroke="#333" stroke-width="0.8"/>
<line x1="40.50" y1="511.40" x2="41.50" y2="511.40" stroke="#333" stroke-width="0.8"/>
<line x1="41.50" y1="426.60" x2="152.00" y2="426.60" stroke="#8cbfe4" stroke-width="0.9" stroke-dasharray="4 1.5 1 1.5"/>
<line x1="41.50" y1="458.40" x2="152.00" y2="458.40" stroke="#8cbfe4" stroke-width="0.9" stroke-dasharray="4 1.5 1 1.5"/>
<polyline points="41.60,431.60 41.84,432.10 42.14,432.69 42.49,433.39 42.90,434.21 43.35,435.17 43.84,436.29 44.35,437.59 44.90,439.10 45.49,440.84 46.14,442.82 46.83,444.99 47.55,447.31 48.29,449.76 49.04,452.28 49.78,454.84 50.50,457.40 51.21,460.01 51.92,462.73 52.63,465.53 53.35,468.39 54.07,471.29 54.78,474.18 55.49,477.06 56.20,479.90 56.92,482.75 57.65,485.65 58.40,488.58 59.13,491.49 59.85,494.35 60.54,497.13 61.20,499.79 61.80,502.30 62.35,504.81 62.85,507.43 63.31,510.04 63.74,512.51 64.15,514.73 64.56,516.56 64.97,517.89 65.40,518.60 65.83,518.64 66.25,518.12 66.65,517.12 67.06,515.72 67.48,514.03 67.90,512.12 68.34,510.08 68.80,508.00 69.29,505.81 69.79,503.41 70.32,500.80 70.85,498.02 71.39,495.08 71.93,491.99 72.47,488.80 73.00,485.50 73.53,481.96 74.07,478.08 74.61,473.99 75.15,469.81 75.68,465.66 76.21,461.66 76.71,457.93 77.20,454.60 77.67,451.61 78.12,448.82 78.56,446.22 78.98,443.82 79.40,441.60 79.80,439.56 80.20,437.70 80.60,436.00 80.98,434.52 81.35,433.29 81.70,432.26 82.04,431.39 82.39,430.65 82.74,430.00 83.11,429.40 83.50,428.80 83.91,428.24 84.33,427.76 84.77,427.36 85.21,427.03 85.66,426.77 86.11,426.56 86.56,426.41 87.00,426.30 87.42,426.25 87.81,426.27 88.19,426.35 88.57,426.49 88.98,426.67 89.42,426.89 89.92,427.13 90.50,427.40 91.17,427.72 91.94,428.10 92.77,428.53 93.63,428.99 94.50,429.45 95.36,429.91 96.17,430.33 96.90,430.70 97.57,431.01 98.20,431.26 98.80,431.48 99.37,431.69 99.92,431.91 100.46,432.16 100.98,432.45 101.50,432.80 102.01,433.19 102.50,433.59 102.97,434.01 103.42,434.47 103.87,434.98 104.32,435.56 104.76,436.23 105.20,437.00 105.64,437.84 106.06,438.72 106.48,439.67 106.90,440.70 107.32,441.83 107.74,443.07 108.16,444.46 108.60,446.00 109.04,447.67 109.49,449.43 109.94,451.30 110.40,453.31 110.86,455.46 111.33,457.78 111.81,460.29 112.30,463.00 112.80,466.02 113.31,469.38 113.83,472.97 114.36,476.71 114.90,480.48 115.43,484.21 115.97,487.78 116.50,491.10 117.04,494.29 117.60,497.50 118.17,500.67 118.74,503.72 119.29,506.61 119.83,509.26 120.33,511.61 120.80,513.60 121.22,515.23 121.59,516.56 121.94,517.62 122.26,518.44 122.58,519.03 122.90,519.42 123.24,519.63 123.60,519.70 123.99,519.61 124.38,519.35 124.78,518.90 125.19,518.26 125.61,517.42 126.04,516.37 126.46,515.10 126.90,513.60 127.34,511.84 127.80,509.80 128.26,507.52 128.73,505.05 129.20,502.41 129.67,499.65 130.14,496.80 130.60,493.90 131.06,490.81 131.51,487.43 131.97,483.86 132.42,480.22 132.88,476.61 133.32,473.13 133.77,469.89 134.20,467.00 134.63,464.44 135.04,462.10 135.45,459.96 135.86,457.98 136.26,456.12 136.67,454.36 137.08,452.66 137.50,451.00 137.92,449.41 138.34,447.93 138.75,446.55 139.18,445.25 139.61,444.01 140.05,442.82 140.51,441.66 141.00,440.50 141.52,439.35 142.08,438.22 142.66,437.13 143.25,436.07 143.84,435.08 144.42,434.14 144.98,433.28 145.50,432.50 145.99,431.82 146.46,431.24 146.91,430.73 147.34,430.29 147.77,429.89 148.18,429.52 148.59,429.16 149.00,428.80 149.42,428.44 149.86,428.09 150.29,427.77 150.72,427.47 151.12,427.20 151.47,426.96 151.77,426.76 152.00,426.60" fill="none" stroke="#5e9ad8" stroke-width="0.9" stroke-linejoin="round"/>
<text x="94.00" y="420.50" font-size="5.8" text-anchor="middle" fill="#222" stroke="#222" stroke-width="0.04">Work Function 4.254 eV</text>
<text x="59.00" y="435.00" font-size="5.2" text-anchor="middle" fill="#4fb3b0" stroke="#4fb3b0" stroke-width="0.04">Vacuum level</text>
<text x="59.00" y="441.00" font-size="5.2" text-anchor="middle" fill="#4fb3b0" stroke="#4fb3b0" stroke-width="0.04">2.031 eV</text>
<text x="92.70" y="450.60" font-size="5.2" text-anchor="middle" fill="#4fb3b0" stroke="#4fb3b0" stroke-width="0.04">-2.223 eV</text>
<text x="92.70" y="456.40" font-size="5.2" text-anchor="middle" fill="#4fb3b0" stroke="#4fb3b0" stroke-width="0.04">Fermi level</text>
<text x="143.50" y="521.50" font-size="5.8" text-anchor="middle" fill="#222" stroke="#222" stroke-width="0.04">CN-I</text>
<text x="97.00" y="406.50" font-size="1" text-anchor="start" fill="#111" stroke="#111" stroke-width="0.04"></text>
<text x="31.00" y="468.50" font-size="9.3" text-anchor="middle" fill="#111" stroke="#111" stroke-width="0.22" transform="rotate(-90 31.00 468.50)">Electrostatic potential (eV)</text>
<text x="2.15" y="421.00" font-size="16.3" text-anchor="start" fill="#000" stroke="#000" stroke-width="0.0" font-weight="bold">(h)</text>
<text x="97.00" y="543.80" font-size="9.2" text-anchor="middle" fill="#111" stroke="#111" stroke-width="0.22">Fractional coordinate</text>
<rect x="185.50" y="413.40" width="109.80" height="110.10" fill="none" stroke="#333" stroke-width="1.1"/>
<line x1="193.30" y1="523.50" x2="193.30" y2="525.10" stroke="#333" stroke-width="0.9"/>
<text x="193.30" y="531.70" font-size="7.2" text-anchor="middle" fill="#111" stroke="#111" stroke-width="0.12">0</text>
<line x1="225.03" y1="523.50" x2="225.03" y2="525.10" stroke="#333" stroke-width="0.9"/>
<text x="225.03" y="531.70" font-size="7.2" text-anchor="middle" fill="#111" stroke="#111" stroke-width="0.12">10</text>
<line x1="256.77" y1="523.50" x2="256.77" y2="525.10" stroke="#333" stroke-width="0.9"/>
<text x="256.77" y="531.70" font-size="7.2" text-anchor="middle" fill="#111" stroke="#111" stroke-width="0.12">20</text>
<line x1="288.50" y1="523.50" x2="288.50" y2="525.10" stroke="#333" stroke-width="0.9"/>
<text x="288.50" y="531.70" font-size="7.2" text-anchor="middle" fill="#111" stroke="#111" stroke-width="0.12">30</text>
<line x1="209.17" y1="523.50" x2="209.17" y2="524.50" stroke="#333" stroke-width="0.8"/>
<line x1="240.90" y1="523.50" x2="240.90" y2="524.50" stroke="#333" stroke-width="0.8"/>
<line x1="272.63" y1="523.50" x2="272.63" y2="524.50" stroke="#333" stroke-width="0.8"/>
<line x1="183.90" y1="517.50" x2="185.50" y2="517.50" stroke="#333" stroke-width="0.9"/>
<text x="182.70" y="520.00" font-size="7.2" text-anchor="end" fill="#111" stroke="#111" stroke-width="0.12">0</text>
<line x1="183.90" y1="499.10" x2="185.50" y2="499.10" stroke="#333" stroke-width="0.9"/>
<text x="182.70" y="501.60" font-size="7.2" text-anchor="end" fill="#111" stroke="#111" stroke-width="0.12">3</text>
<line x1="183.90" y1="480.70" x2="185.50" y2="480.70" stroke="#333" stroke-width="0.9"/>
<text x="182.70" y="483.20" font-size="7.2" text-anchor="end" fill="#111" stroke="#111" stroke-width="0.12">6</text>
<line x1="183.90" y1="462.30" x2="185.50" y2="462.30" stroke="#333" stroke-width="0.9"/>
<text x="182.70" y="464.80" font-size="7.2" text-anchor="end" fill="#111" stroke="#111" stroke-width="0.12">9</text>
<line x1="183.90" y1="443.90" x2="185.50" y2="443.90" stroke="#333" stroke-width="0.9"/>
<text x="182.70" y="446.40" font-size="7.2" text-anchor="end" fill="#111" stroke="#111" stroke-width="0.12">12</text>
<line x1="183.90" y1="425.50" x2="185.50" y2="425.50" stroke="#333" stroke-width="0.9"/>
<text x="182.70" y="428.00" font-size="7.2" text-anchor="end" fill="#111" stroke="#111" stroke-width="0.12">15</text>
<line x1="184.50" y1="508.30" x2="185.50" y2="508.30" stroke="#333" stroke-width="0.8"/>
<line x1="184.50" y1="489.90" x2="185.50" y2="489.90" stroke="#333" stroke-width="0.8"/>
<line x1="184.50" y1="471.50" x2="185.50" y2="471.50" stroke="#333" stroke-width="0.8"/>
<line x1="184.50" y1="453.10" x2="185.50" y2="453.10" stroke="#333" stroke-width="0.8"/>
<line x1="184.50" y1="434.70" x2="185.50" y2="434.70" stroke="#333" stroke-width="0.8"/>
<line x1="184.50" y1="416.30" x2="185.50" y2="416.30" stroke="#333" stroke-width="0.8"/>
<polyline points="193.30,517.50 225.03,517.19 256.77,517.01 288.50,517.01" fill="none" stroke="#ec4a4e" stroke-width="1.0" stroke-linejoin="round"/>
<circle cx="193.30" cy="517.50" r="2.60" fill="#fff" stroke="#ec4a4e" stroke-width="1.3"/>
<circle cx="225.03" cy="517.19" r="2.60" fill="#fff" stroke="#ec4a4e" stroke-width="1.3"/>
<circle cx="256.77" cy="517.01" r="2.60" fill="#fff" stroke="#ec4a4e" stroke-width="1.3"/>
<circle cx="288.50" cy="517.01" r="2.60" fill="#fff" stroke="#ec4a4e" stroke-width="1.3"/>
<polyline points="193.30,517.50 225.03,495.42 256.77,473.34 288.50,459.85" fill="none" stroke="#3c7be0" stroke-width="1.0" stroke-linejoin="round"/>
<circle cx="193.30" cy="517.50" r="2.60" fill="#fff" stroke="#3c7be0" stroke-width="1.3"/>
<line x1="225.03" y1="493.58" x2="225.03" y2="497.26" stroke="#3c7be0" stroke-width="0.8"/>
<line x1="223.73" y1="493.58" x2="226.33" y2="493.58" stroke="#3c7be0" stroke-width="0.8"/>
<line x1="223.73" y1="497.26" x2="226.33" y2="497.26" stroke="#3c7be0" stroke-width="0.8"/>
<circle cx="225.03" cy="495.42" r="2.60" fill="#fff" stroke="#3c7be0" stroke-width="1.3"/>
<line x1="256.77" y1="470.89" x2="256.77" y2="475.79" stroke="#3c7be0" stroke-width="0.8"/>
<line x1="255.47" y1="470.89" x2="258.07" y2="470.89" stroke="#3c7be0" stroke-width="0.8"/>
<line x1="255.47" y1="475.79" x2="258.07" y2="475.79" stroke="#3c7be0" stroke-width="0.8"/>
<circle cx="256.77" cy="473.34" r="2.60" fill="#fff" stroke="#3c7be0" stroke-width="1.3"/>
<line x1="288.50" y1="458.01" x2="288.50" y2="461.69" stroke="#3c7be0" stroke-width="0.8"/>
<line x1="287.20" y1="458.01" x2="289.80" y2="458.01" stroke="#3c7be0" stroke-width="0.8"/>
<line x1="287.20" y1="461.69" x2="289.80" y2="461.69" stroke="#3c7be0" stroke-width="0.8"/>
<circle cx="288.50" cy="459.85" r="2.60" fill="#fff" stroke="#3c7be0" stroke-width="1.3"/>
<polyline points="193.30,517.50 225.03,477.63 256.77,443.29 288.50,422.43" fill="none" stroke="#c7a0ec" stroke-width="1.0" stroke-linejoin="round"/>
<circle cx="193.30" cy="517.50" r="2.60" fill="#fff" stroke="#c7a0ec" stroke-width="1.3"/>
<line x1="225.03" y1="473.96" x2="225.03" y2="481.31" stroke="#c7a0ec" stroke-width="0.8"/>
<line x1="223.73" y1="473.96" x2="226.33" y2="473.96" stroke="#c7a0ec" stroke-width="0.8"/>
<line x1="223.73" y1="481.31" x2="226.33" y2="481.31" stroke="#c7a0ec" stroke-width="0.8"/>
<circle cx="225.03" cy="477.63" r="2.60" fill="#fff" stroke="#c7a0ec" stroke-width="1.3"/>
<line x1="256.77" y1="439.61" x2="256.77" y2="446.96" stroke="#c7a0ec" stroke-width="0.8"/>
<line x1="255.47" y1="439.61" x2="258.07" y2="439.61" stroke="#c7a0ec" stroke-width="0.8"/>
<line x1="255.47" y1="446.96" x2="258.07" y2="446.96" stroke="#c7a0ec" stroke-width="0.8"/>
<circle cx="256.77" cy="443.29" r="2.60" fill="#fff" stroke="#c7a0ec" stroke-width="1.3"/>
<line x1="288.50" y1="418.14" x2="288.50" y2="426.72" stroke="#c7a0ec" stroke-width="0.8"/>
<line x1="287.20" y1="418.14" x2="289.80" y2="418.14" stroke="#c7a0ec" stroke-width="0.8"/>
<line x1="287.20" y1="426.72" x2="289.80" y2="426.72" stroke="#c7a0ec" stroke-width="0.8"/>
<circle cx="288.50" cy="422.43" r="2.60" fill="#fff" stroke="#c7a0ec" stroke-width="1.3"/>
<line x1="188.90" y1="420.20" x2="201.20" y2="420.20" stroke="#ec4a4e" stroke-width="1.0"/>
<circle cx="195.30" cy="420.20" r="2.60" fill="#fff" stroke="#ec4a4e" stroke-width="1.3"/>
<text x="203.80" y="422.40" font-size="6.2" text-anchor="start" fill="#222" stroke="#222" stroke-width="0.12">CN</text>
<line x1="188.90" y1="429.20" x2="201.20" y2="429.20" stroke="#3c7be0" stroke-width="1.0"/>
<circle cx="195.30" cy="429.20" r="2.60" fill="#fff" stroke="#3c7be0" stroke-width="1.3"/>
<text x="203.80" y="431.40" font-size="6.2" text-anchor="start" fill="#222" stroke="#222" stroke-width="0.12">CN-I</text>
<line x1="188.90" y1="438.20" x2="201.20" y2="438.20" stroke="#c7a0ec" stroke-width="1.0"/>
<circle cx="195.30" cy="438.20" r="2.60" fill="#fff" stroke="#c7a0ec" stroke-width="1.3"/>
<text x="203.80" y="440.40" font-size="6.2" text-anchor="start" fill="#222" stroke="#222" stroke-width="0.12">CN-I/I<tspan font-size="4.3" dy="1.5">3</tspan></text>
<text x="240.50" y="543.80" font-size="9.6" text-anchor="middle" fill="#111" stroke="#111" stroke-width="0.22"><tspan>Time (min)</tspan></text>
<text x="167.60" y="468.00" font-size="9.6" text-anchor="middle" fill="#111" stroke="#111" stroke-width="0.22" transform="rotate(-90 167.60 468.00)"><tspan>H</tspan><tspan font-size="6.72" dy="1.92">2</tspan><tspan dy="-1.92"></tspan><tspan>O</tspan><tspan font-size="6.72" dy="1.92">2</tspan><tspan dy="-1.92"></tspan><tspan> (mM)</tspan></text>
<text x="154.75" y="421.20" font-size="16.3" text-anchor="start" fill="#000" stroke="#000" stroke-width="0.0" font-weight="bold">(i)</text>
<rect x="345.50" y="413.40" width="110.00" height="110.10" fill="none" stroke="#333" stroke-width="1.1"/>
<line x1="343.90" y1="523.40" x2="345.50" y2="523.40" stroke="#333" stroke-width="0.9"/>
<text x="342.70" y="525.90" font-size="7.2" text-anchor="end" fill="#111" stroke="#111" stroke-width="0.12">0</text>
<line x1="343.90" y1="503.40" x2="345.50" y2="503.40" stroke="#333" stroke-width="0.9"/>
<text x="342.70" y="505.90" font-size="7.2" text-anchor="end" fill="#111" stroke="#111" stroke-width="0.12">20</text>
<line x1="343.90" y1="483.40" x2="345.50" y2="483.40" stroke="#333" stroke-width="0.9"/>
<text x="342.70" y="485.90" font-size="7.2" text-anchor="end" fill="#111" stroke="#111" stroke-width="0.12">40</text>
<line x1="343.90" y1="463.40" x2="345.50" y2="463.40" stroke="#333" stroke-width="0.9"/>
<text x="342.70" y="465.90" font-size="7.2" text-anchor="end" fill="#111" stroke="#111" stroke-width="0.12">60</text>
<line x1="343.90" y1="443.40" x2="345.50" y2="443.40" stroke="#333" stroke-width="0.9"/>
<text x="342.70" y="445.90" font-size="7.2" text-anchor="end" fill="#111" stroke="#111" stroke-width="0.12">80</text>
<line x1="343.90" y1="423.40" x2="345.50" y2="423.40" stroke="#333" stroke-width="0.9"/>
<text x="342.70" y="425.90" font-size="7.2" text-anchor="end" fill="#111" stroke="#111" stroke-width="0.12">100</text>
<line x1="344.50" y1="513.40" x2="345.50" y2="513.40" stroke="#333" stroke-width="0.8"/>
<line x1="344.50" y1="493.40" x2="345.50" y2="493.40" stroke="#333" stroke-width="0.8"/>
<line x1="344.50" y1="473.40" x2="345.50" y2="473.40" stroke="#333" stroke-width="0.8"/>
<line x1="344.50" y1="453.40" x2="345.50" y2="453.40" stroke="#333" stroke-width="0.8"/>
<line x1="344.50" y1="433.40" x2="345.50" y2="433.40" stroke="#333" stroke-width="0.8"/>
<line x1="344.50" y1="413.40" x2="345.50" y2="413.40" stroke="#333" stroke-width="0.8"/>
<defs><pattern id="xhr" width="2" height="2" patternUnits="userSpaceOnUse"><rect width="2" height="2" fill="#fce6e6"/><rect width="1" height="1" fill="#f2b0b4"/><rect x="1" y="1" width="1" height="1" fill="#f2b0b4"/></pattern><pattern id="xhb" width="2" height="2" patternUnits="userSpaceOnUse"><rect width="2" height="2" fill="#d4e2fa"/><rect width="1" height="1" fill="#7aa2ee"/><rect x="1" y="1" width="1" height="1" fill="#7aa2ee"/></pattern><pattern id="dgb" width="3" height="3" patternUnits="userSpaceOnUse" patternTransform="rotate(45)"><rect width="3" height="3" fill="#ffffff"/><rect width="1.6" height="3" fill="#3f74e4"/></pattern><pattern id="dgc" width="3" height="3" patternUnits="userSpaceOnUse" patternTransform="rotate(45)"><rect width="3" height="3" fill="#e2eff6"/><rect width="1.4" height="3" fill="#86bcdc"/></pattern><pattern id="dgn" width="3" height="3" patternUnits="userSpaceOnUse" patternTransform="rotate(45)"><rect width="3" height="3" fill="#eefbfc"/><rect width="1.3" height="3" fill="#8fdcea"/></pattern></defs>
<rect x="352.20" y="522.40" width="10.60" height="1.00" fill="url(#xhb)" stroke="#7aa2ee" stroke-width="0.6"/>
<line x1="357.50" y1="520.40" x2="357.50" y2="524.40" stroke="#7aa2ee" stroke-width="0.7"/>
<line x1="356.20" y1="520.40" x2="358.80" y2="520.40" stroke="#7aa2ee" stroke-width="0.7"/>
<rect x="363.40" y="509.70" width="11.20" height="13.70" fill="url(#xhr)" stroke="#ee8c90" stroke-width="0.6"/>
<line x1="369.00" y1="505.70" x2="369.00" y2="513.70" stroke="#ee8c90" stroke-width="0.7"/>
<line x1="367.70" y1="505.70" x2="370.30" y2="505.70" stroke="#ee8c90" stroke-width="0.7"/>
<rect x="389.00" y="514.40" width="10.90" height="9.00" fill="url(#xhb)" stroke="#7aa2ee" stroke-width="0.6"/>
<line x1="394.45" y1="513.20" x2="394.45" y2="515.60" stroke="#7aa2ee" stroke-width="0.7"/>
<line x1="393.15" y1="513.20" x2="395.75" y2="513.20" stroke="#7aa2ee" stroke-width="0.7"/>
<rect x="400.30" y="450.70" width="11.40" height="72.70" fill="url(#xhr)" stroke="#ee8c90" stroke-width="0.6"/>
<line x1="406.00" y1="446.20" x2="406.00" y2="455.20" stroke="#ee8c90" stroke-width="0.7"/>
<line x1="404.70" y1="446.20" x2="407.30" y2="446.20" stroke="#ee8c90" stroke-width="0.7"/>
<rect x="426.10" y="506.70" width="10.90" height="16.70" fill="url(#xhb)" stroke="#7aa2ee" stroke-width="0.6"/>
<line x1="431.55" y1="505.70" x2="431.55" y2="507.70" stroke="#7aa2ee" stroke-width="0.7"/>
<line x1="430.25" y1="505.70" x2="432.85" y2="505.70" stroke="#7aa2ee" stroke-width="0.7"/>
<rect x="437.30" y="430.90" width="11.30" height="92.50" fill="url(#xhr)" stroke="#ee8c90" stroke-width="0.6"/>
<line x1="442.95" y1="428.40" x2="442.95" y2="433.40" stroke="#ee8c90" stroke-width="0.7"/>
<line x1="441.65" y1="428.40" x2="444.25" y2="428.40" stroke="#ee8c90" stroke-width="0.7"/>
<line x1="364.00" y1="523.60" x2="364.00" y2="525.40" stroke="#333" stroke-width="0.9"/>
<line x1="400.30" y1="523.60" x2="400.30" y2="525.40" stroke="#333" stroke-width="0.9"/>
<line x1="437.00" y1="523.60" x2="437.00" y2="525.40" stroke="#333" stroke-width="0.9"/>
<text x="364.00" y="536.50" font-size="8.3" text-anchor="middle" fill="#111" stroke="#111" stroke-width="0.22">CN</text>
<text x="400.30" y="536.50" font-size="8.3" text-anchor="middle" fill="#111" stroke="#111" stroke-width="0.22">CN-I</text>
<text x="437.00" y="536.50" font-size="8.3" text-anchor="middle" fill="#111" stroke="#111" stroke-width="0.22">CN-I/I<tspan font-size="6" dy="2">3</tspan></text>
<rect x="351.60" y="416.80" width="12.90" height="6.20" fill="url(#xhb)" stroke="#7aa2ee" stroke-width="0.6"/>
<rect x="351.60" y="425.50" width="12.90" height="6.20" fill="url(#xhr)" stroke="#ee8c90" stroke-width="0.6"/>
<text x="365.80" y="422.20" font-size="6.2" text-anchor="start" fill="#222" stroke="#222" stroke-width="0.12">Conversion</text>
<text x="365.80" y="430.80" font-size="6.2" text-anchor="start" fill="#222" stroke="#222" stroke-width="0.12">Selectivity</text>
<text x="332.50" y="468.00" font-size="9.6" text-anchor="middle" fill="#111" stroke="#111" stroke-width="0.22" transform="rotate(-90 332.50 468.00)">Conv.&amp;Select. (%)</text>
<text x="313.75" y="421.20" font-size="16.3" text-anchor="start" fill="#000" stroke="#000" stroke-width="0.0" font-weight="bold">(j)</text>
<rect x="505.40" y="413.40" width="109.80" height="110.10" fill="none" stroke="#333" stroke-width="1.1"/>
<line x1="503.80" y1="524.00" x2="505.40" y2="524.00" stroke="#333" stroke-width="0.9"/>
<text x="502.60" y="526.50" font-size="7.2" text-anchor="end" fill="#111" stroke="#111" stroke-width="0.12">0</text>
<line x1="503.80" y1="492.30" x2="505.40" y2="492.30" stroke="#333" stroke-width="0.9"/>
<text x="502.60" y="494.80" font-size="7.2" text-anchor="end" fill="#111" stroke="#111" stroke-width="0.12">20</text>
<line x1="503.80" y1="460.60" x2="505.40" y2="460.60" stroke="#333" stroke-width="0.9"/>
<text x="502.60" y="463.10" font-size="7.2" text-anchor="end" fill="#111" stroke="#111" stroke-width="0.12">40</text>
<line x1="503.80" y1="428.90" x2="505.40" y2="428.90" stroke="#333" stroke-width="0.9"/>
<text x="502.60" y="431.40" font-size="7.2" text-anchor="end" fill="#111" stroke="#111" stroke-width="0.12">60</text>
<line x1="504.40" y1="508.15" x2="505.40" y2="508.15" stroke="#333" stroke-width="0.8"/>
<line x1="504.40" y1="476.45" x2="505.40" y2="476.45" stroke="#333" stroke-width="0.8"/>
<line x1="504.40" y1="444.75" x2="505.40" y2="444.75" stroke="#333" stroke-width="0.8"/>
<line x1="504.40" y1="413.05" x2="505.40" y2="413.05" stroke="#333" stroke-width="0.8"/>
<line x1="615.20" y1="513.80" x2="616.80" y2="513.80" stroke="#333" stroke-width="0.9"/>
<text x="618.20" y="516.30" font-size="7" text-anchor="start" fill="#222" stroke="#222" stroke-width="0.12">0.0</text>
<line x1="615.20" y1="483.60" x2="616.80" y2="483.60" stroke="#333" stroke-width="0.9"/>
<text x="618.20" y="486.10" font-size="7" text-anchor="start" fill="#222" stroke="#222" stroke-width="0.12">0.3</text>
<line x1="615.20" y1="453.40" x2="616.80" y2="453.40" stroke="#333" stroke-width="0.9"/>
<text x="618.20" y="455.90" font-size="7" text-anchor="start" fill="#222" stroke="#222" stroke-width="0.12">0.6</text>
<line x1="615.20" y1="423.20" x2="616.80" y2="423.20" stroke="#333" stroke-width="0.9"/>
<text x="618.20" y="425.70" font-size="7" text-anchor="start" fill="#222" stroke="#222" stroke-width="0.12">0.9</text>
<line x1="615.20" y1="498.70" x2="616.20" y2="498.70" stroke="#333" stroke-width="0.8"/>
<line x1="615.20" y1="468.50" x2="616.20" y2="468.50" stroke="#333" stroke-width="0.8"/>
<line x1="615.20" y1="438.30" x2="616.20" y2="438.30" stroke="#333" stroke-width="0.8"/>
<rect x="518.80" y="523.21" width="10.40" height="0.79" fill="url(#dgb)" stroke="#3f74e4" stroke-width="0.7"/>
<rect x="554.80" y="464.09" width="11.20" height="59.91" fill="url(#dgb)" stroke="#3f74e4" stroke-width="0.7"/>
<rect x="591.40" y="424.78" width="11.20" height="99.22" fill="url(#dgb)" stroke="#3f74e4" stroke-width="0.7"/>
<polyline points="523.50,513.20 560.30,480.50 597.20,433.80" fill="none" stroke="#f08088" stroke-width="0.9" stroke-linejoin="round"/>
<line x1="597.20" y1="433.80" x2="612.00" y2="433.80" stroke="#f08088" stroke-width="0.9"/>
<path d="M614.6 433.8 L610.6 431.8 L610.6 435.8 Z" fill="#f08088" stroke="none" stroke-width="1"/>
<circle cx="523.50" cy="513.20" r="4.20" fill="#fff" stroke="#f0606c" stroke-width="1.1"/>
<line x1="519.30" y1="513.20" x2="527.70" y2="513.20" stroke="#f0606c" stroke-width="1.0"/>
<line x1="523.50" y1="509.00" x2="523.50" y2="517.40" stroke="#f0606c" stroke-width="1.0"/>
<circle cx="560.30" cy="480.50" r="4.20" fill="#fff" stroke="#f0606c" stroke-width="1.1"/>
<line x1="556.10" y1="480.50" x2="564.50" y2="480.50" stroke="#f0606c" stroke-width="1.0"/>
<line x1="560.30" y1="476.30" x2="560.30" y2="484.70" stroke="#f0606c" stroke-width="1.0"/>
<circle cx="597.20" cy="433.80" r="4.20" fill="#fff" stroke="#f0606c" stroke-width="1.1"/>
<line x1="593.00" y1="433.80" x2="601.40" y2="433.80" stroke="#f0606c" stroke-width="1.0"/>
<line x1="597.20" y1="429.60" x2="597.20" y2="438.00" stroke="#f0606c" stroke-width="1.0"/>
<line x1="523.50" y1="524.20" x2="523.50" y2="526.00" stroke="#333" stroke-width="0.9"/>
<line x1="560.30" y1="524.20" x2="560.30" y2="526.00" stroke="#333" stroke-width="0.9"/>
<line x1="597.20" y1="524.20" x2="597.20" y2="526.00" stroke="#333" stroke-width="0.9"/>
<text x="523.50" y="536.00" font-size="8.3" text-anchor="middle" fill="#111" stroke="#111" stroke-width="0.22">CN</text>
<text x="560.30" y="536.00" font-size="8.3" text-anchor="middle" fill="#111" stroke="#111" stroke-width="0.22">CN-I</text>
<text x="597.20" y="536.00" font-size="8.3" text-anchor="middle" fill="#111" stroke="#111" stroke-width="0.22">CN-I/I<tspan font-size="6" dy="2">3</tspan></text>
<text x="492.00" y="468.40" font-size="8.85" text-anchor="middle" fill="#111" stroke="#111" stroke-width="0.22" transform="rotate(-90 492.00 468.40)"><tspan>H</tspan><tspan font-size="6.19" dy="1.77">2</tspan><tspan dy="-1.77"></tspan><tspan>O</tspan><tspan font-size="6.19" dy="1.77">2</tspan><tspan dy="-1.77"></tspan><tspan> (mmol·g</tspan><tspan font-size="5.49" dy="-2.83">-1</tspan><tspan dy="2.83"></tspan><tspan>·h</tspan><tspan font-size="5.49" dy="-2.83">-1</tspan><tspan dy="2.83"></tspan><tspan>)</tspan></text>
<text x="638.60" y="469.00" font-size="8.85" text-anchor="middle" fill="#111" stroke="#111" stroke-width="0.22" transform="rotate(-90 638.60 469.00)"><tspan>BA (mol·g</tspan><tspan font-size="5.49" dy="-2.83">-1</tspan><tspan dy="2.83"></tspan><tspan>·h</tspan><tspan font-size="5.49" dy="-2.83">-1</tspan><tspan dy="2.83"></tspan><tspan>)</tspan></text>
<text x="471.75" y="421.30" font-size="16.3" text-anchor="start" fill="#000" stroke="#000" stroke-width="0.0" font-weight="bold">(k)</text>
<rect x="41.50" y="551.00" width="110.50" height="110.30" fill="none" stroke="#333" stroke-width="1.1"/>
<line x1="41.50" y1="661.30" x2="41.50" y2="662.90" stroke="#333" stroke-width="0.9"/>
<text x="41.50" y="669.50" font-size="7.2" text-anchor="middle" fill="#111" stroke="#111" stroke-width="0.12">0</text>
<line x1="63.56" y1="661.30" x2="63.56" y2="662.90" stroke="#333" stroke-width="0.9"/>
<text x="63.56" y="669.50" font-size="7.2" text-anchor="middle" fill="#111" stroke="#111" stroke-width="0.12">2</text>
<line x1="85.62" y1="661.30" x2="85.62" y2="662.90" stroke="#333" stroke-width="0.9"/>
<text x="85.62" y="669.50" font-size="7.2" text-anchor="middle" fill="#111" stroke="#111" stroke-width="0.12">4</text>
<line x1="107.68" y1="661.30" x2="107.68" y2="662.90" stroke="#333" stroke-width="0.9"/>
<text x="107.68" y="669.50" font-size="7.2" text-anchor="middle" fill="#111" stroke="#111" stroke-width="0.12">6</text>
<line x1="129.74" y1="661.30" x2="129.74" y2="662.90" stroke="#333" stroke-width="0.9"/>
<text x="129.74" y="669.50" font-size="7.2" text-anchor="middle" fill="#111" stroke="#111" stroke-width="0.12">8</text>
<line x1="151.80" y1="661.30" x2="151.80" y2="662.90" stroke="#333" stroke-width="0.9"/>
<text x="151.80" y="669.50" font-size="7.2" text-anchor="middle" fill="#111" stroke="#111" stroke-width="0.12">10</text>
<line x1="52.53" y1="661.30" x2="52.53" y2="662.30" stroke="#333" stroke-width="0.8"/>
<line x1="74.59" y1="661.30" x2="74.59" y2="662.30" stroke="#333" stroke-width="0.8"/>
<line x1="96.65" y1="661.30" x2="96.65" y2="662.30" stroke="#333" stroke-width="0.8"/>
<line x1="118.71" y1="661.30" x2="118.71" y2="662.30" stroke="#333" stroke-width="0.8"/>
<line x1="140.77" y1="661.30" x2="140.77" y2="662.30" stroke="#333" stroke-width="0.8"/>
<line x1="39.90" y1="576.40" x2="41.50" y2="576.40" stroke="#333" stroke-width="0.9"/>
<text x="38.70" y="578.90" font-size="7.2" text-anchor="end" fill="#111" stroke="#111" stroke-width="0.12">0</text>
<line x1="39.90" y1="602.30" x2="41.50" y2="602.30" stroke="#333" stroke-width="0.9"/>
<text x="38.70" y="604.80" font-size="7.2" text-anchor="end" fill="#111" stroke="#111" stroke-width="0.12">-3</text>
<line x1="39.90" y1="628.20" x2="41.50" y2="628.20" stroke="#333" stroke-width="0.9"/>
<text x="38.70" y="630.70" font-size="7.2" text-anchor="end" fill="#111" stroke="#111" stroke-width="0.12">-6</text>
<line x1="39.90" y1="654.10" x2="41.50" y2="654.10" stroke="#333" stroke-width="0.9"/>
<text x="38.70" y="656.60" font-size="7.2" text-anchor="end" fill="#111" stroke="#111" stroke-width="0.12">-9</text>
<line x1="40.50" y1="563.45" x2="41.50" y2="563.45" stroke="#333" stroke-width="0.8"/>
<line x1="40.50" y1="589.35" x2="41.50" y2="589.35" stroke="#333" stroke-width="0.8"/>
<line x1="40.50" y1="615.25" x2="41.50" y2="615.25" stroke="#333" stroke-width="0.8"/>
<line x1="40.50" y1="641.15" x2="41.50" y2="641.15" stroke="#333" stroke-width="0.8"/>
<line x1="41.50" y1="561.60" x2="152.00" y2="561.60" stroke="#ecd66a" stroke-width="0.9" stroke-dasharray="4 1.5 1 1.5"/>
<line x1="41.50" y1="592.30" x2="152.00" y2="592.30" stroke="#ecd66a" stroke-width="0.9" stroke-dasharray="4 1.5 1 1.5"/>
<polyline points="40.90,567.00 41.03,567.29 41.20,567.62 41.40,568.00 41.63,568.46 41.88,569.02 42.14,569.70 42.42,570.52 42.70,571.50 42.99,572.65 43.31,573.96 43.65,575.40 43.99,576.96 44.35,578.63 44.70,580.39 45.06,582.22 45.40,584.10 45.74,586.07 46.07,588.16 46.41,590.34 46.75,592.60 47.09,594.92 47.42,597.27 47.76,599.64 48.10,602.00 48.44,604.38 48.77,606.82 49.11,609.29 49.45,611.79 49.79,614.30 50.13,616.81 50.46,619.32 50.80,621.80 51.14,624.33 51.48,626.94 51.83,629.59 52.17,632.21 52.52,634.77 52.85,637.20 53.18,639.46 53.50,641.50 53.81,643.34 54.13,645.05 54.44,646.61 54.74,648.04 55.04,649.33 55.31,650.47 55.57,651.46 55.80,652.30 56.00,652.96 56.16,653.42 56.30,653.72 56.43,653.87 56.55,653.92 56.68,653.89 56.83,653.81 57.00,653.70 57.19,653.58 57.39,653.44 57.60,653.25 57.82,652.98 58.05,652.59 58.29,652.07 58.54,651.38 58.80,650.50 59.07,649.42 59.36,648.18 59.65,646.78 59.96,645.23 60.27,643.56 60.58,641.77 60.89,639.88 61.20,637.90 61.50,635.81 61.81,633.60 62.11,631.27 62.42,628.83 62.73,626.30 63.04,623.67 63.37,620.97 63.70,618.20 64.04,615.28 64.39,612.18 64.75,608.95 65.12,605.66 65.49,602.36 65.86,599.13 66.23,596.02 66.60,593.10 66.97,590.30 67.35,587.54 67.73,584.85 68.11,582.24 68.49,579.76 68.87,577.42 69.24,575.26 69.60,573.30 69.95,571.55 70.28,570.00 70.59,568.62 70.91,567.39 71.23,566.28 71.57,565.28 71.92,564.36 72.30,563.50 72.70,562.73 73.13,562.10 73.57,561.58 74.02,561.14 74.49,560.78 74.96,560.46 75.43,560.18 75.90,559.90 76.38,559.64 76.86,559.43 77.35,559.26 77.85,559.14 78.35,559.05 78.84,559.00 79.32,558.98 79.80,559.00 80.26,559.04 80.72,559.09 81.17,559.17 81.62,559.29 82.06,559.46 82.51,559.69 82.95,560.00 83.40,560.40 83.85,560.89 84.30,561.47 84.75,562.12 85.20,562.83 85.65,563.60 86.10,564.41 86.55,565.24 87.00,566.10 87.45,567.02 87.91,568.04 88.37,569.12 88.83,570.23 89.28,571.32 89.73,572.37 90.17,573.34 90.60,574.20 91.02,574.96 91.45,575.66 91.86,576.31 92.27,576.90 92.68,577.43 93.07,577.91 93.44,578.33 93.80,578.70 94.13,579.01 94.44,579.26 94.73,579.46 95.01,579.60 95.29,579.68 95.58,579.71 95.88,579.68 96.20,579.60 96.54,579.47 96.89,579.30 97.25,579.09 97.63,578.81 98.00,578.47 98.39,578.04 98.79,577.52 99.20,576.90 99.62,576.12 100.06,575.17 100.51,574.10 100.96,572.96 101.42,571.80 101.89,570.69 102.35,569.67 102.80,568.80 103.26,568.05 103.72,567.36 104.19,566.73 104.66,566.15 105.12,565.63 105.56,565.17 105.99,564.76 106.40,564.40 106.78,564.10 107.14,563.87 107.48,563.69 107.81,563.57 108.13,563.49 108.45,563.46 108.77,563.46 109.10,563.50 109.44,563.56 109.77,563.63 110.11,563.74 110.45,563.90 110.79,564.11 111.12,564.39 111.46,564.75 111.80,565.20 112.14,565.72 112.48,566.30 112.82,566.95 113.16,567.67 113.49,568.47 113.83,569.37 114.17,570.38 114.50,571.50 114.83,572.74 115.15,574.08 115.48,575.53 115.80,577.08 116.12,578.71 116.45,580.43 116.77,582.23 117.10,584.10 117.43,586.07 117.77,588.16 118.11,590.34 118.44,592.60 118.78,594.92 119.12,597.27 119.46,599.64 119.80,602.00 120.13,604.38 120.46,606.82 120.79,609.29 121.11,611.79 121.44,614.30 121.78,616.81 122.13,619.32 122.50,621.80 122.89,624.34 123.30,626.98 123.73,629.67 124.16,632.32 124.59,634.90 125.02,637.33 125.42,639.55 125.80,641.50 126.16,643.19 126.50,644.68 126.83,645.99 127.14,647.14 127.45,648.15 127.74,649.04 128.03,649.81 128.30,650.50 128.56,651.08 128.79,651.51 129.00,651.82 129.21,652.02 129.42,652.11 129.63,652.11 129.86,652.04 130.10,651.90 130.36,651.71 130.63,651.48 130.91,651.18 131.19,650.78 131.49,650.27 131.79,649.61 132.09,648.80 132.40,647.80 132.71,646.63 133.04,645.32 133.36,643.86 133.69,642.25 134.03,640.49 134.38,638.58 134.74,636.52 135.10,634.30 135.48,631.84 135.87,629.12 136.27,626.20 136.68,623.15 137.09,620.04 137.50,616.93 137.90,613.89 138.30,611.00 138.69,608.19 139.08,605.37 139.47,602.57 139.85,599.81 140.23,597.10 140.62,594.46 141.01,591.92 141.40,589.50 141.80,587.17 142.20,584.89 142.60,582.68 143.01,580.56 143.41,578.55 143.81,576.66 144.21,574.90 144.60,573.30 144.99,571.87 145.37,570.59 145.75,569.45 146.13,568.42 146.51,567.51 146.88,566.68 147.24,565.91 147.60,565.20 147.96,564.56 148.32,564.03 148.67,563.59 149.03,563.23 149.37,562.92 149.70,562.65 150.01,562.42 150.30,562.20 150.58,562.01 150.86,561.89 151.12,561.81 151.37,561.76 151.60,561.74 151.80,561.73 151.97,561.72 152.10,561.70" fill="none" stroke="#e8c84a" stroke-width="0.9" stroke-linejoin="round"/>
<text x="94.00" y="557.50" font-size="5.8" text-anchor="middle" fill="#222" stroke="#222" stroke-width="0.04">Work Function 4.168 eV</text>
<text x="57.60" y="569.50" font-size="5.2" text-anchor="middle" fill="#4fb3b0" stroke="#4fb3b0" stroke-width="0.04">Vacuum level</text>
<text x="57.60" y="575.30" font-size="5.2" text-anchor="middle" fill="#4fb3b0" stroke="#4fb3b0" stroke-width="0.04">2.084 eV</text>
<text x="94.90" y="599.00" font-size="5.2" text-anchor="middle" fill="#4fb3b0" stroke="#4fb3b0" stroke-width="0.04">-2.074 eV</text>
<text x="94.90" y="604.80" font-size="5.2" text-anchor="middle" fill="#4fb3b0" stroke="#4fb3b0" stroke-width="0.04">Fermi level</text>
<text x="139.50" y="659.00" font-size="5.8" text-anchor="middle" fill="#222" stroke="#222" stroke-width="0.04">CN-I/I<tspan font-size="4" dy="1.5">3</tspan></text>
<text x="31.00" y="606.00" font-size="9.3" text-anchor="middle" fill="#111" stroke="#111" stroke-width="0.22" transform="rotate(-90 31.00 606.00)">Electrostatic potential (eV)</text>
<text x="2.15" y="560.20" font-size="16.3" text-anchor="start" fill="#000" stroke="#000" stroke-width="0.0" font-weight="bold">(l)</text>
<text x="97.00" y="681.50" font-size="9.2" text-anchor="middle" fill="#111" stroke="#111" stroke-width="0.22">Fractional coordinate</text>
<rect x="185.50" y="551.00" width="109.80" height="110.30" fill="none" stroke="#333" stroke-width="1.1"/>
<line x1="183.90" y1="661.20" x2="185.50" y2="661.20" stroke="#333" stroke-width="0.9"/>
<text x="182.70" y="663.70" font-size="7.2" text-anchor="end" fill="#111" stroke="#111" stroke-width="0.12">0</text>
<line x1="183.90" y1="629.70" x2="185.50" y2="629.70" stroke="#333" stroke-width="0.9"/>
<text x="182.70" y="632.20" font-size="7.2" text-anchor="end" fill="#111" stroke="#111" stroke-width="0.12">20</text>
<line x1="183.90" y1="598.20" x2="185.50" y2="598.20" stroke="#333" stroke-width="0.9"/>
<text x="182.70" y="600.70" font-size="7.2" text-anchor="end" fill="#111" stroke="#111" stroke-width="0.12">40</text>
<line x1="183.90" y1="566.70" x2="185.50" y2="566.70" stroke="#333" stroke-width="0.9"/>
<text x="182.70" y="569.20" font-size="7.2" text-anchor="end" fill="#111" stroke="#111" stroke-width="0.12">60</text>
<line x1="184.50" y1="645.45" x2="185.50" y2="645.45" stroke="#333" stroke-width="0.8"/>
<line x1="184.50" y1="613.95" x2="185.50" y2="613.95" stroke="#333" stroke-width="0.8"/>
<line x1="184.50" y1="582.45" x2="185.50" y2="582.45" stroke="#333" stroke-width="0.8"/>
<line x1="184.50" y1="550.95" x2="185.50" y2="550.95" stroke="#333" stroke-width="0.8"/>
<line x1="295.30" y1="661.30" x2="296.90" y2="661.30" stroke="#333" stroke-width="0.9"/>
<text x="298.30" y="663.80" font-size="7" text-anchor="start" fill="#222" stroke="#222" stroke-width="0.12">0.0</text>
<line x1="295.30" y1="633.80" x2="296.90" y2="633.80" stroke="#333" stroke-width="0.9"/>
<text x="298.30" y="636.30" font-size="7" text-anchor="start" fill="#222" stroke="#222" stroke-width="0.12">0.3</text>
<line x1="295.30" y1="606.30" x2="296.90" y2="606.30" stroke="#333" stroke-width="0.9"/>
<text x="298.30" y="608.80" font-size="7" text-anchor="start" fill="#222" stroke="#222" stroke-width="0.12">0.6</text>
<line x1="295.30" y1="578.80" x2="296.90" y2="578.80" stroke="#333" stroke-width="0.9"/>
<text x="298.30" y="581.30" font-size="7" text-anchor="start" fill="#222" stroke="#222" stroke-width="0.12">0.9</text>
<line x1="295.30" y1="647.55" x2="296.30" y2="647.55" stroke="#333" stroke-width="0.8"/>
<line x1="295.30" y1="620.05" x2="296.30" y2="620.05" stroke="#333" stroke-width="0.8"/>
<line x1="295.30" y1="592.55" x2="296.30" y2="592.55" stroke="#333" stroke-width="0.8"/>
<line x1="295.30" y1="565.05" x2="296.30" y2="565.05" stroke="#333" stroke-width="0.8"/>
<rect x="191.00" y="589.10" width="10.00" height="72.10" fill="url(#dgc)" stroke="#80b8dc" stroke-width="0.7"/>
<line x1="196.10" y1="566.90" x2="196.10" y2="589.10" stroke="#6aa8e0" stroke-width="0.7" stroke-dasharray="3 1.2 0.8 1.2"/>
<rect x="213.20" y="585.20" width="9.80" height="76.00" fill="url(#dgc)" stroke="#80b8dc" stroke-width="0.7"/>
<line x1="218.30" y1="569.70" x2="218.30" y2="585.20" stroke="#6aa8e0" stroke-width="0.7" stroke-dasharray="3 1.2 0.8 1.2"/>
<rect x="235.40" y="588.00" width="9.80" height="73.20" fill="url(#dgc)" stroke="#80b8dc" stroke-width="0.7"/>
<line x1="240.60" y1="572.60" x2="240.60" y2="588.00" stroke="#6aa8e0" stroke-width="0.7" stroke-dasharray="3 1.2 0.8 1.2"/>
<rect x="257.70" y="590.80" width="9.30" height="70.40" fill="url(#dgc)" stroke="#80b8dc" stroke-width="0.7"/>
<line x1="262.80" y1="574.40" x2="262.80" y2="590.80" stroke="#6aa8e0" stroke-width="0.7" stroke-dasharray="3 1.2 0.8 1.2"/>
<rect x="279.90" y="589.80" width="9.80" height="71.40" fill="url(#dgc)" stroke="#80b8dc" stroke-width="0.7"/>
<line x1="284.60" y1="583.80" x2="284.60" y2="589.80" stroke="#6aa8e0" stroke-width="0.7" stroke-dasharray="3 1.2 0.8 1.2"/>
<line x1="196.10" y1="572.80" x2="189.00" y2="572.80" stroke="#6aa8e0" stroke-width="0.7" stroke-dasharray="3 1.2 0.8 1.2"/>
<path d="M187.4 572.8 L190 571.3 L190 574.3 Z" fill="#6aa8e0" stroke="none" stroke-width="1"/>
<line x1="284.60" y1="598.50" x2="292.50" y2="598.50" stroke="#6aa8e0" stroke-width="0.7" stroke-dasharray="3 1.2 0.8 1.2"/>
<path d="M294.8 598.5 L292 597 L292 600 Z" fill="#6aa8e0" stroke="none" stroke-width="1"/>
<circle cx="196.10" cy="562.90" r="4.10" fill="#fff" stroke="#3a6ee6" stroke-width="1.3"/>
<line x1="192.90" y1="562.90" x2="199.30" y2="562.90" stroke="#3a6ee6" stroke-width="1.3"/>
<circle cx="218.30" cy="565.70" r="4.10" fill="#fff" stroke="#3a6ee6" stroke-width="1.3"/>
<line x1="215.10" y1="565.70" x2="221.50" y2="565.70" stroke="#3a6ee6" stroke-width="1.3"/>
<circle cx="240.60" cy="568.60" r="4.10" fill="#fff" stroke="#3a6ee6" stroke-width="1.3"/>
<line x1="237.40" y1="568.60" x2="243.80" y2="568.60" stroke="#3a6ee6" stroke-width="1.3"/>
<circle cx="262.80" cy="570.40" r="4.10" fill="#fff" stroke="#3a6ee6" stroke-width="1.3"/>
<line x1="259.60" y1="570.40" x2="266.00" y2="570.40" stroke="#3a6ee6" stroke-width="1.3"/>
<circle cx="284.60" cy="579.80" r="4.10" fill="#fff" stroke="#3a6ee6" stroke-width="1.3"/>
<line x1="281.40" y1="579.80" x2="287.80" y2="579.80" stroke="#3a6ee6" stroke-width="1.3"/>
<line x1="196.00" y1="661.30" x2="196.00" y2="663.00" stroke="#333" stroke-width="0.9"/>
<text x="196.00" y="670.00" font-size="6.3" text-anchor="middle" fill="#222" stroke="#222" stroke-width="0.12">1 ST</text>
<line x1="218.10" y1="661.30" x2="218.10" y2="663.00" stroke="#333" stroke-width="0.9"/>
<text x="218.10" y="670.00" font-size="6.3" text-anchor="middle" fill="#222" stroke="#222" stroke-width="0.12">2 ND</text>
<line x1="240.30" y1="661.30" x2="240.30" y2="663.00" stroke="#333" stroke-width="0.9"/>
<text x="240.30" y="670.00" font-size="6.3" text-anchor="middle" fill="#222" stroke="#222" stroke-width="0.12">3 RD</text>
<line x1="262.35" y1="661.30" x2="262.35" y2="663.00" stroke="#333" stroke-width="0.9"/>
<text x="262.35" y="670.00" font-size="6.3" text-anchor="middle" fill="#222" stroke="#222" stroke-width="0.12">4 TH</text>
<line x1="284.80" y1="661.30" x2="284.80" y2="663.00" stroke="#333" stroke-width="0.9"/>
<text x="284.80" y="670.00" font-size="6.3" text-anchor="middle" fill="#222" stroke="#222" stroke-width="0.12">5 TH</text>
<text x="168.40" y="605.70" font-size="8.85" text-anchor="middle" fill="#111" stroke="#111" stroke-width="0.22" transform="rotate(-90 168.40 605.70)"><tspan>H</tspan><tspan font-size="6.19" dy="1.77">2</tspan><tspan dy="-1.77"></tspan><tspan>O</tspan><tspan font-size="6.19" dy="1.77">2</tspan><tspan dy="-1.77"></tspan><tspan> (mmol·g</tspan><tspan font-size="5.49" dy="-2.83">-1</tspan><tspan dy="2.83"></tspan><tspan>·h</tspan><tspan font-size="5.49" dy="-2.83">-1</tspan><tspan dy="2.83"></tspan><tspan>)</tspan></text>
<text x="318.60" y="606.00" font-size="8.85" text-anchor="middle" fill="#111" stroke="#111" stroke-width="0.22" transform="rotate(-90 318.60 606.00)"><tspan>BA (mol·g</tspan><tspan font-size="5.49" dy="-2.83">-1</tspan><tspan dy="2.83"></tspan><tspan>·h</tspan><tspan font-size="5.49" dy="-2.83">-1</tspan><tspan dy="2.83"></tspan><tspan>)</tspan></text>
<text x="154.65" y="560.50" font-size="16.3" text-anchor="start" fill="#000" stroke="#000" stroke-width="0.0" font-weight="bold">(m)</text>
<rect x="345.50" y="551.00" width="110.00" height="110.30" fill="none" stroke="#333" stroke-width="1.1"/>
<line x1="343.90" y1="661.30" x2="345.50" y2="661.30" stroke="#333" stroke-width="0.9"/>
<text x="342.70" y="663.80" font-size="7.2" text-anchor="end" fill="#111" stroke="#111" stroke-width="0.12">0</text>
<line x1="343.90" y1="635.30" x2="345.50" y2="635.30" stroke="#333" stroke-width="0.9"/>
<text x="342.70" y="637.80" font-size="7.2" text-anchor="end" fill="#111" stroke="#111" stroke-width="0.12">20</text>
<line x1="343.90" y1="609.30" x2="345.50" y2="609.30" stroke="#333" stroke-width="0.9"/>
<text x="342.70" y="611.80" font-size="7.2" text-anchor="end" fill="#111" stroke="#111" stroke-width="0.12">40</text>
<line x1="343.90" y1="583.30" x2="345.50" y2="583.30" stroke="#333" stroke-width="0.9"/>
<text x="342.70" y="585.80" font-size="7.2" text-anchor="end" fill="#111" stroke="#111" stroke-width="0.12">60</text>
<line x1="344.50" y1="648.30" x2="345.50" y2="648.30" stroke="#333" stroke-width="0.8"/>
<line x1="344.50" y1="622.30" x2="345.50" y2="622.30" stroke="#333" stroke-width="0.8"/>
<line x1="344.50" y1="596.30" x2="345.50" y2="596.30" stroke="#333" stroke-width="0.8"/>
<line x1="344.50" y1="570.30" x2="345.50" y2="570.30" stroke="#333" stroke-width="0.8"/>
<line x1="455.50" y1="659.20" x2="457.10" y2="659.20" stroke="#333" stroke-width="0.9"/>
<text x="458.50" y="661.90" font-size="7.6" text-anchor="start" fill="#222" stroke="#222" stroke-width="0.12">0.6</text>
<line x1="455.50" y1="621.90" x2="457.10" y2="621.90" stroke="#333" stroke-width="0.9"/>
<text x="458.50" y="624.60" font-size="7.6" text-anchor="start" fill="#222" stroke="#222" stroke-width="0.12">0.7</text>
<line x1="455.50" y1="584.60" x2="457.10" y2="584.60" stroke="#333" stroke-width="0.9"/>
<text x="458.50" y="587.30" font-size="7.6" text-anchor="start" fill="#222" stroke="#222" stroke-width="0.12">0.8</text>
<line x1="455.50" y1="640.55" x2="456.50" y2="640.55" stroke="#333" stroke-width="0.8"/>
<line x1="455.50" y1="603.25" x2="456.50" y2="603.25" stroke="#333" stroke-width="0.8"/>
<line x1="455.50" y1="565.95" x2="456.50" y2="565.95" stroke="#333" stroke-width="0.8"/>
<rect x="351.60" y="580.10" width="9.10" height="81.20" fill="url(#dgn)" stroke="#8fdcea" stroke-width="0.7"/>
<line x1="356.20" y1="596.10" x2="356.20" y2="661.00" stroke="#4f88e6" stroke-width="0.7" stroke-dasharray="3 1.2 0.8 1.2"/>
<rect x="373.10" y="588.00" width="9.50" height="73.30" fill="url(#dgn)" stroke="#8fdcea" stroke-width="0.7"/>
<line x1="378.10" y1="599.10" x2="378.10" y2="661.00" stroke="#4f88e6" stroke-width="0.7" stroke-dasharray="3 1.2 0.8 1.2"/>
<rect x="395.40" y="607.30" width="9.10" height="54.00" fill="url(#dgn)" stroke="#8fdcea" stroke-width="0.7"/>
<line x1="400.20" y1="642.90" x2="400.20" y2="661.00" stroke="#4f88e6" stroke-width="0.7" stroke-dasharray="3 1.2 0.8 1.2"/>
<rect x="417.50" y="638.90" width="9.30" height="22.40" fill="url(#dgn)" stroke="#8fdcea" stroke-width="0.7"/>
<line x1="422.10" y1="652.00" x2="422.10" y2="661.00" stroke="#4f88e6" stroke-width="0.7" stroke-dasharray="3 1.2 0.8 1.2"/>
<rect x="439.80" y="655.10" width="9.30" height="6.20" fill="url(#dgn)" stroke="#8fdcea" stroke-width="0.7"/>
<line x1="444.50" y1="663.00" x2="444.50" y2="661.00" stroke="#4f88e6" stroke-width="0.7" stroke-dasharray="3 1.2 0.8 1.2"/>
<line x1="448.80" y1="659.00" x2="454.00" y2="659.00" stroke="#4f88e6" stroke-width="0.8"/>
<circle cx="356.20" cy="592.10" r="4.20" fill="#fff" stroke="#3a6ee6" stroke-width="1.3"/>
<line x1="352.00" y1="592.10" x2="360.40" y2="592.10" stroke="#3a6ee6" stroke-width="1.2"/>
<line x1="356.20" y1="587.90" x2="356.20" y2="596.30" stroke="#3a6ee6" stroke-width="1.2"/>
<circle cx="378.10" cy="595.10" r="4.20" fill="#fff" stroke="#3a6ee6" stroke-width="1.3"/>
<line x1="373.90" y1="595.10" x2="382.30" y2="595.10" stroke="#3a6ee6" stroke-width="1.2"/>
<line x1="378.10" y1="590.90" x2="378.10" y2="599.30" stroke="#3a6ee6" stroke-width="1.2"/>
<circle cx="400.20" cy="638.90" r="4.20" fill="#fff" stroke="#3a6ee6" stroke-width="1.3"/>
<line x1="396.00" y1="638.90" x2="404.40" y2="638.90" stroke="#3a6ee6" stroke-width="1.2"/>
<line x1="400.20" y1="634.70" x2="400.20" y2="643.10" stroke="#3a6ee6" stroke-width="1.2"/>
<circle cx="422.10" cy="648.00" r="4.20" fill="#fff" stroke="#3a6ee6" stroke-width="1.3"/>
<line x1="417.90" y1="648.00" x2="426.30" y2="648.00" stroke="#3a6ee6" stroke-width="1.2"/>
<line x1="422.10" y1="643.80" x2="422.10" y2="652.20" stroke="#3a6ee6" stroke-width="1.2"/>
<circle cx="444.50" cy="659.00" r="4.20" fill="#fff" stroke="#3a6ee6" stroke-width="1.3"/>
<line x1="440.30" y1="659.00" x2="448.70" y2="659.00" stroke="#3a6ee6" stroke-width="1.2"/>
<line x1="444.50" y1="654.80" x2="444.50" y2="663.20" stroke="#3a6ee6" stroke-width="1.2"/>
<line x1="356.15" y1="661.30" x2="356.15" y2="663.00" stroke="#333" stroke-width="0.9"/>
<text x="356.15" y="670.00" font-size="6.3" text-anchor="middle" fill="#222" stroke="#222" stroke-width="0.12">1 ST</text>
<line x1="377.85" y1="661.30" x2="377.85" y2="663.00" stroke="#333" stroke-width="0.9"/>
<text x="377.85" y="670.00" font-size="6.3" text-anchor="middle" fill="#222" stroke="#222" stroke-width="0.12">2 ND</text>
<line x1="399.95" y1="661.30" x2="399.95" y2="663.00" stroke="#333" stroke-width="0.9"/>
<text x="399.95" y="670.00" font-size="6.3" text-anchor="middle" fill="#222" stroke="#222" stroke-width="0.12">3 RD</text>
<line x1="422.15" y1="661.30" x2="422.15" y2="663.00" stroke="#333" stroke-width="0.9"/>
<text x="422.15" y="670.00" font-size="6.3" text-anchor="middle" fill="#222" stroke="#222" stroke-width="0.12">4 TH</text>
<line x1="444.45" y1="661.30" x2="444.45" y2="663.00" stroke="#333" stroke-width="0.9"/>
<text x="444.45" y="670.00" font-size="6.3" text-anchor="middle" fill="#222" stroke="#222" stroke-width="0.12">5 TH</text>
<text x="330.80" y="605.80" font-size="8.85" text-anchor="middle" fill="#111" stroke="#111" stroke-width="0.22" transform="rotate(-90 330.80 605.80)"><tspan>H</tspan><tspan font-size="6.19" dy="1.77">2</tspan><tspan dy="-1.77"></tspan><tspan>O</tspan><tspan font-size="6.19" dy="1.77">2</tspan><tspan dy="-1.77"></tspan><tspan> (mmol·g</tspan><tspan font-size="5.49" dy="-2.83">-1</tspan><tspan dy="2.83"></tspan><tspan>·h</tspan><tspan font-size="5.49" dy="-2.83">-1</tspan><tspan dy="2.83"></tspan><tspan>)</tspan></text>
<text x="478.10" y="606.00" font-size="8.85" text-anchor="middle" fill="#111" stroke="#111" stroke-width="0.22" transform="rotate(-90 478.10 606.00)"><tspan>BA (mol·g</tspan><tspan font-size="5.49" dy="-2.83">-1</tspan><tspan dy="2.83"></tspan><tspan>·h</tspan><tspan font-size="5.49" dy="-2.83">-1</tspan><tspan dy="2.83"></tspan><tspan>)</tspan></text>
<text x="313.65" y="560.50" font-size="16.3" text-anchor="start" fill="#000" stroke="#000" stroke-width="0.0" font-weight="bold">(n)</text>
<rect x="394.80" y="554.40" width="51.90" height="45.80" fill="#fff" stroke="#8a8a8a" stroke-width="0.5"/>
<line x1="394.80" y1="554.40" x2="394.80" y2="600.20" stroke="#444" stroke-width="0.6"/>
<line x1="446.70" y1="554.40" x2="446.70" y2="600.20" stroke="#444" stroke-width="0.6"/>
<line x1="394.80" y1="600.20" x2="446.70" y2="600.20" stroke="#444" stroke-width="0.6"/>
<rect x="395.40" y="555.70" width="7.10" height="3.30" fill="#5b9bd0" stroke="none" stroke-width="1"/>
<text x="403.60" y="558.80" font-size="4.0" text-anchor="start" fill="#222" stroke="#222" stroke-width="0.04">Selectivity</text>
<rect x="422.10" y="555.70" width="6.00" height="3.30" fill="#9a74dc" stroke="none" stroke-width="1"/>
<text x="429.00" y="558.80" font-size="4.0" text-anchor="start" fill="#222" stroke="#222" stroke-width="0.04">Conversion</text>
<rect x="395.40" y="560.90" width="7.10" height="3.30" fill="#cbe655" stroke="none" stroke-width="1"/>
<text x="403.60" y="564.00" font-size="4.0" text-anchor="start" fill="#222" stroke="#222" stroke-width="0.04">H₂O₂</text>
<rect x="422.10" y="560.90" width="6.00" height="3.30" fill="#62dca0" stroke="none" stroke-width="1"/>
<text x="429.00" y="564.00" font-size="4.0" text-anchor="start" fill="#222" stroke="#222" stroke-width="0.04">BA</text>
<rect x="400.40" y="569.70" width="4.90" height="30.50" fill="#cbe655" stroke="none" stroke-width="1"/>
<rect x="412.20" y="594.30" width="4.90" height="5.90" fill="#62dca0" stroke="none" stroke-width="1"/>
<rect x="424.20" y="576.00" width="4.60" height="24.20" fill="#5b9bd0" stroke="none" stroke-width="1"/>
<rect x="436.00" y="568.70" width="4.80" height="31.50" fill="#9a74dc" stroke="none" stroke-width="1"/>
<text x="403.50" y="568.20" font-size="4.4" text-anchor="middle" fill="#111" stroke="#111" stroke-width="0.04" font-weight="bold">91.32</text>
<text x="414.80" y="592.60" font-size="4.0" text-anchor="middle" fill="#222" stroke="#222" stroke-width="0.04">17.21×10⁵</text>
<text x="426.60" y="574.60" font-size="4.4" text-anchor="middle" fill="#222" stroke="#222" stroke-width="0.04">72.4</text>
<text x="438.60" y="567.20" font-size="4.4" text-anchor="middle" fill="#222" stroke="#222" stroke-width="0.04">95.6</text>
<text x="391.60" y="577.30" font-size="4.5" text-anchor="middle" fill="#222" stroke="#222" stroke-width="0.04" transform="rotate(-90 391.60 577.30)">H₂O₂&amp;BA (mmol·g⁻¹)</text>
<text x="451.00" y="578.30" font-size="4.5" text-anchor="middle" fill="#222" stroke="#222" stroke-width="0.04" transform="rotate(-90 451.00 578.30)">Conv.&amp;Select. (%)</text>
<line x1="394.80" y1="597.50" x2="395.80" y2="597.50" stroke="#444" stroke-width="0.4"/>
<line x1="445.70" y1="597.50" x2="446.70" y2="597.50" stroke="#444" stroke-width="0.4"/>
<text x="396.30" y="598.50" font-size="2.8" text-anchor="start" fill="#333" stroke="#333" stroke-width="0.04">10</text>
<text x="445.20" y="598.50" font-size="2.8" text-anchor="end" fill="#333" stroke="#333" stroke-width="0.04">10</text>
<line x1="394.80" y1="593.80" x2="395.80" y2="593.80" stroke="#444" stroke-width="0.4"/>
<line x1="445.70" y1="593.80" x2="446.70" y2="593.80" stroke="#444" stroke-width="0.4"/>
<text x="396.30" y="594.80" font-size="2.8" text-anchor="start" fill="#333" stroke="#333" stroke-width="0.04">20</text>
<text x="445.20" y="594.80" font-size="2.8" text-anchor="end" fill="#333" stroke="#333" stroke-width="0.04">20</text>
<line x1="394.80" y1="586.30" x2="395.80" y2="586.30" stroke="#444" stroke-width="0.4"/>
<line x1="445.70" y1="586.30" x2="446.70" y2="586.30" stroke="#444" stroke-width="0.4"/>
<text x="396.30" y="587.30" font-size="2.8" text-anchor="start" fill="#333" stroke="#333" stroke-width="0.04">40</text>
<text x="445.20" y="587.30" font-size="2.8" text-anchor="end" fill="#333" stroke="#333" stroke-width="0.04">40</text>
<line x1="394.80" y1="578.80" x2="395.80" y2="578.80" stroke="#444" stroke-width="0.4"/>
<line x1="445.70" y1="578.80" x2="446.70" y2="578.80" stroke="#444" stroke-width="0.4"/>
<text x="396.30" y="579.80" font-size="2.8" text-anchor="start" fill="#333" stroke="#333" stroke-width="0.04">60</text>
<text x="445.20" y="579.80" font-size="2.8" text-anchor="end" fill="#333" stroke="#333" stroke-width="0.04">60</text>
<line x1="394.80" y1="571.30" x2="395.80" y2="571.30" stroke="#444" stroke-width="0.4"/>
<line x1="445.70" y1="571.30" x2="446.70" y2="571.30" stroke="#444" stroke-width="0.4"/>
<text x="396.30" y="572.30" font-size="2.8" text-anchor="start" fill="#333" stroke="#333" stroke-width="0.04">80</text>
<text x="445.20" y="572.30" font-size="2.8" text-anchor="end" fill="#333" stroke="#333" stroke-width="0.04">80</text>
<rect x="505.40" y="551.00" width="109.80" height="110.30" fill="none" stroke="#333" stroke-width="1.1"/>
<line x1="505.50" y1="661.30" x2="505.50" y2="662.90" stroke="#333" stroke-width="0.9"/>
<text x="505.50" y="669.50" font-size="7.2" text-anchor="middle" fill="#111" stroke="#111" stroke-width="0.12">0</text>
<line x1="541.93" y1="661.30" x2="541.93" y2="662.90" stroke="#333" stroke-width="0.9"/>
<text x="541.93" y="669.50" font-size="7.2" text-anchor="middle" fill="#111" stroke="#111" stroke-width="0.12">10</text>
<line x1="578.37" y1="661.30" x2="578.37" y2="662.90" stroke="#333" stroke-width="0.9"/>
<text x="578.37" y="669.50" font-size="7.2" text-anchor="middle" fill="#111" stroke="#111" stroke-width="0.12">20</text>
<line x1="614.80" y1="661.30" x2="614.80" y2="662.90" stroke="#333" stroke-width="0.9"/>
<text x="614.80" y="669.50" font-size="7.2" text-anchor="middle" fill="#111" stroke="#111" stroke-width="0.12">30</text>
<line x1="523.72" y1="661.30" x2="523.72" y2="662.30" stroke="#333" stroke-width="0.8"/>
<line x1="560.15" y1="661.30" x2="560.15" y2="662.30" stroke="#333" stroke-width="0.8"/>
<line x1="596.58" y1="661.30" x2="596.58" y2="662.30" stroke="#333" stroke-width="0.8"/>
<line x1="503.80" y1="661.30" x2="505.40" y2="661.30" stroke="#333" stroke-width="0.9"/>
<text x="502.60" y="663.80" font-size="7.2" text-anchor="end" fill="#111" stroke="#111" stroke-width="0.12">0</text>
<line x1="503.80" y1="644.28" x2="505.40" y2="644.28" stroke="#333" stroke-width="0.9"/>
<text x="502.60" y="646.78" font-size="7.2" text-anchor="end" fill="#111" stroke="#111" stroke-width="0.12">3</text>
<line x1="503.80" y1="627.27" x2="505.40" y2="627.27" stroke="#333" stroke-width="0.9"/>
<text x="502.60" y="629.77" font-size="7.2" text-anchor="end" fill="#111" stroke="#111" stroke-width="0.12">6</text>
<line x1="503.80" y1="610.25" x2="505.40" y2="610.25" stroke="#333" stroke-width="0.9"/>
<text x="502.60" y="612.75" font-size="7.2" text-anchor="end" fill="#111" stroke="#111" stroke-width="0.12">9</text>
<line x1="503.80" y1="593.23" x2="505.40" y2="593.23" stroke="#333" stroke-width="0.9"/>
<text x="502.60" y="595.73" font-size="7.2" text-anchor="end" fill="#111" stroke="#111" stroke-width="0.12">12</text>
<line x1="503.80" y1="576.22" x2="505.40" y2="576.22" stroke="#333" stroke-width="0.9"/>
<text x="502.60" y="578.72" font-size="7.2" text-anchor="end" fill="#111" stroke="#111" stroke-width="0.12">15</text>
<line x1="503.80" y1="559.20" x2="505.40" y2="559.20" stroke="#333" stroke-width="0.9"/>
<text x="502.60" y="561.70" font-size="7.2" text-anchor="end" fill="#111" stroke="#111" stroke-width="0.12">18</text>
<line x1="504.40" y1="652.79" x2="505.40" y2="652.79" stroke="#333" stroke-width="0.8"/>
<line x1="504.40" y1="635.77" x2="505.40" y2="635.77" stroke="#333" stroke-width="0.8"/>
<line x1="504.40" y1="618.76" x2="505.40" y2="618.76" stroke="#333" stroke-width="0.8"/>
<line x1="504.40" y1="601.74" x2="505.40" y2="601.74" stroke="#333" stroke-width="0.8"/>
<line x1="504.40" y1="584.73" x2="505.40" y2="584.73" stroke="#333" stroke-width="0.8"/>
<line x1="504.40" y1="567.71" x2="505.40" y2="567.71" stroke="#333" stroke-width="0.8"/>
<polyline points="505.50,661.30 541.93,611.95 578.37,573.95 614.80,557.50" fill="none" stroke="#6da2d0" stroke-width="1.0" stroke-linejoin="round"/>
<rect x="539.03" y="609.05" width="5.80" height="5.80" fill="#fff" stroke="#6da2d0" stroke-width="1.1"/>
<rect x="575.47" y="571.05" width="5.80" height="5.80" fill="#fff" stroke="#6da2d0" stroke-width="1.1"/>
<rect x="611.90" y="554.60" width="5.80" height="5.80" fill="#fff" stroke="#6da2d0" stroke-width="1.1"/>
<polyline points="505.50,661.30 541.93,638.04 578.37,621.59 614.80,609.68" fill="none" stroke="#7ee0b2" stroke-width="1.0" stroke-linejoin="round"/>
<circle cx="541.93" cy="638.04" r="3.10" fill="#fff" stroke="#7ee0b2" stroke-width="1.1"/>
<circle cx="578.37" cy="621.59" r="3.10" fill="#fff" stroke="#7ee0b2" stroke-width="1.1"/>
<circle cx="614.80" cy="609.68" r="3.10" fill="#fff" stroke="#7ee0b2" stroke-width="1.1"/>
<polyline points="505.50,661.30 541.93,647.12 578.37,632.37 614.80,621.59" fill="none" stroke="#c6e86a" stroke-width="1.0" stroke-linejoin="round"/>
<path d="M541.93 643.52 L545.33 649.52 L538.53 649.52 Z" fill="#fff" stroke="#c6e86a" stroke-width="1.1"/>
<path d="M578.37 628.77 L581.77 634.77 L574.97 634.77 Z" fill="#fff" stroke="#c6e86a" stroke-width="1.1"/>
<path d="M614.80 617.99 L618.20 623.99 L611.40 623.99 Z" fill="#fff" stroke="#c6e86a" stroke-width="1.1"/>
<line x1="508.10" y1="556.80" x2="520.70" y2="556.80" stroke="#6da2d0" stroke-width="1.0"/>
<rect x="511.50" y="553.90" width="5.80" height="5.80" fill="#fff" stroke="#6da2d0" stroke-width="1.1"/>
<text x="522.80" y="559.00" font-size="6.4" text-anchor="start" fill="#222" stroke="#222" stroke-width="0.12">Full spectrum</text>
<line x1="508.10" y1="565.40" x2="520.70" y2="565.40" stroke="#7ee0b2" stroke-width="1.0"/>
<circle cx="514.40" cy="565.40" r="3.10" fill="#fff" stroke="#7ee0b2" stroke-width="1.1"/>
<text x="522.80" y="567.60" font-size="6.4" text-anchor="start" fill="#222" stroke="#222" stroke-width="0.12">Yangtze river water</text>
<line x1="508.10" y1="574.00" x2="520.70" y2="574.00" stroke="#c6e86a" stroke-width="1.0"/>
<path d="M514.40 570.40 L517.80 576.40 L511.00 576.40 Z" fill="#fff" stroke="#c6e86a" stroke-width="1.1"/>
<text x="522.80" y="576.20" font-size="6.4" text-anchor="start" fill="#222" stroke="#222" stroke-width="0.12">Seawater</text>
<text x="560.40" y="681.30" font-size="10.0" text-anchor="middle" fill="#111" stroke="#111" stroke-width="0.22"><tspan>Time (min)</tspan></text>
<text x="491.10" y="606.70" font-size="9.3" text-anchor="middle" fill="#111" stroke="#111" stroke-width="0.22" transform="rotate(-90 491.10 606.70)"><tspan>H</tspan><tspan font-size="6.51" dy="1.86">2</tspan><tspan dy="-1.86"></tspan><tspan>O</tspan><tspan font-size="6.51" dy="1.86">2</tspan><tspan dy="-1.86"></tspan><tspan> (mM)</tspan></text>
<text x="471.55" y="560.50" font-size="16.3" text-anchor="start" fill="#000" stroke="#000" stroke-width="0.0" font-weight="bold">(o)</text>
<text x="240.50" y="681.50" font-size="1" text-anchor="start" fill="#111" stroke="#111" stroke-width="0.04"></text>
<defs>
<radialGradient id="gK" cx="0.35" cy="0.35" r="0.7"><stop offset="0" stop-color="#f4e4ff"/><stop offset="0.35" stop-color="#b45cf0"/><stop offset="1" stop-color="#7a26b8"/></radialGradient>
<radialGradient id="gI" cx="0.35" cy="0.35" r="0.7"><stop offset="0" stop-color="#ffe0a0"/><stop offset="0.4" stop-color="#e8901c"/><stop offset="1" stop-color="#b06010"/></radialGradient>
<radialGradient id="gIo" cx="0.35" cy="0.35" r="0.7"><stop offset="0" stop-color="#f8c0a0"/><stop offset="0.4" stop-color="#e07838"/><stop offset="1" stop-color="#b04c18"/></radialGradient>
<radialGradient id="gC" cx="0.35" cy="0.35" r="0.7"><stop offset="0" stop-color="#c8ecff"/><stop offset="0.4" stop-color="#48a8dc"/><stop offset="1" stop-color="#2070a8"/></radialGradient>
<radialGradient id="gN" cx="0.35" cy="0.35" r="0.7"><stop offset="0" stop-color="#d8d8ff"/><stop offset="0.4" stop-color="#6c6cd4"/><stop offset="1" stop-color="#3c3c98"/></radialGradient>
<radialGradient id="gNl" cx="0.35" cy="0.35" r="0.7"><stop offset="0" stop-color="#e0e0ff"/><stop offset="0.5" stop-color="#9a94e8"/><stop offset="1" stop-color="#6a60c0"/></radialGradient>
<radialGradient id="gH" cx="0.35" cy="0.35" r="0.7"><stop offset="0" stop-color="#ffd0e0"/><stop offset="0.5" stop-color="#d87898"/><stop offset="1" stop-color="#a84868"/></radialGradient>
<radialGradient id="shadow" cx="0.5" cy="0.5" r="0.5"><stop offset="0" stop-color="#e2e2e2"/><stop offset="0.6" stop-color="#efefef"/><stop offset="1" stop-color="#ffffff" stop-opacity="0"/></radialGradient>
<linearGradient id="liqY" x1="0" y1="0" x2="1" y2="0"><stop offset="0" stop-color="#e4d46a"/><stop offset="0.5" stop-color="#ead979"/><stop offset="1" stop-color="#eee29a"/></linearGradient>
<linearGradient id="tubeG" x1="0" y1="0" x2="0" y2="1"><stop offset="0" stop-color="#cdd6e2"/><stop offset="0.5" stop-color="#d9e1ea"/><stop offset="1" stop-color="#ccd5e1"/></linearGradient>
<linearGradient id="capG" x1="0" y1="0" x2="0" y2="1"><stop offset="0" stop-color="#d0d0d0"/><stop offset="1" stop-color="#a8a8a8"/></linearGradient>
<linearGradient id="glassG" x1="0" y1="0" x2="1" y2="0"><stop offset="0" stop-color="#eeeeee"/><stop offset="0.5" stop-color="#fbfbfb"/><stop offset="1" stop-color="#e8e8e8"/></linearGradient>
<linearGradient id="cnLiq" x1="0" y1="0" x2="1" y2="0"><stop offset="0" stop-color="#b8c870"/><stop offset="0.5" stop-color="#ccd890"/><stop offset="1" stop-color="#b4c46c"/></linearGradient>
<linearGradient id="greenLiq" x1="0" y1="0" x2="1" y2="0"><stop offset="0" stop-color="#c8e4b8"/><stop offset="0.5" stop-color="#e4f2dc"/><stop offset="1" stop-color="#c0dcb0"/></linearGradient>
<filter id="blur2" x="-50%" y="-50%" width="200%" height="200%"><feGaussianBlur stdDeviation="4"/></filter>
</defs>
<rect x="41.50" y="1.50" width="572.00" height="168.50" fill="none" stroke="#333" stroke-width="1.1"/>
<text x="0.25" y="13.50" font-size="16.3" text-anchor="start" fill="#000" stroke="#000" stroke-width="0.0" font-weight="bold">(a)</text>
<ellipse cx="60" cy="110" rx="22" ry="14" fill="#e6e6e6" filter="url(#blur2)" opacity="0.8"/>
<ellipse cx="62" cy="158" rx="22" ry="12" fill="#e6e6e6" filter="url(#blur2)" opacity="0.8"/>
<line x1="98.80" y1="24.70" x2="107.00" y2="28.40" stroke="#9ab8e8" stroke-width="0.8" stroke-dasharray="1 0.6"/>
<line x1="107.00" y1="28.40" x2="106.70" y2="37.60" stroke="#9ab8e8" stroke-width="0.8" stroke-dasharray="1 0.6"/>
<line x1="106.70" y1="37.60" x2="99.00" y2="42.90" stroke="#9ab8e8" stroke-width="0.8" stroke-dasharray="1 0.6"/>
<line x1="99.00" y1="42.90" x2="91.30" y2="37.80" stroke="#9ab8e8" stroke-width="0.8" stroke-dasharray="1 0.6"/>
<line x1="91.30" y1="37.80" x2="90.60" y2="28.90" stroke="#9ab8e8" stroke-width="0.8" stroke-dasharray="1 0.6"/>
<line x1="90.60" y1="28.90" x2="98.80" y2="24.70" stroke="#9ab8e8" stroke-width="0.8" stroke-dasharray="1 0.6"/>
<line x1="98.80" y1="24.70" x2="98.60" y2="16.20" stroke="#6aa8dc" stroke-width="1.1"/>
<line x1="98.60" y1="16.20" x2="92.00" y2="12.30" stroke="#c07898" stroke-width="0.9"/>
<line x1="98.60" y1="16.20" x2="104.60" y2="12.30" stroke="#c07898" stroke-width="0.9"/>
<line x1="91.30" y1="37.80" x2="83.60" y2="42.50" stroke="#6aa8dc" stroke-width="1.1"/>
<line x1="83.60" y1="42.50" x2="77.50" y2="39.20" stroke="#c07898" stroke-width="0.9"/>
<line x1="83.60" y1="42.50" x2="84.00" y2="49.90" stroke="#c07898" stroke-width="0.9"/>
<line x1="106.70" y1="37.60" x2="114.50" y2="42.00" stroke="#6aa8dc" stroke-width="1.1"/>
<line x1="114.50" y1="42.00" x2="120.60" y2="38.20" stroke="#c07898" stroke-width="0.9"/>
<line x1="114.50" y1="42.00" x2="114.80" y2="48.80" stroke="#c07898" stroke-width="0.9"/>
<circle cx="92.00" cy="12.30" r="1.50" fill="url(#gH)" stroke="none" stroke-width="1"/>
<circle cx="104.60" cy="12.30" r="1.50" fill="url(#gH)" stroke="none" stroke-width="1"/>
<circle cx="98.60" cy="16.20" r="2.50" fill="url(#gNl)" stroke="none" stroke-width="1"/>
<circle cx="77.50" cy="39.20" r="1.50" fill="url(#gH)" stroke="none" stroke-width="1"/>
<circle cx="84.00" cy="49.90" r="1.50" fill="url(#gH)" stroke="none" stroke-width="1"/>
<circle cx="83.60" cy="42.50" r="2.50" fill="url(#gNl)" stroke="none" stroke-width="1"/>
<circle cx="120.60" cy="38.20" r="1.50" fill="url(#gH)" stroke="none" stroke-width="1"/>
<circle cx="114.80" cy="48.80" r="1.50" fill="url(#gH)" stroke="none" stroke-width="1"/>
<circle cx="114.50" cy="42.00" r="2.50" fill="url(#gNl)" stroke="none" stroke-width="1"/>
<circle cx="98.80" cy="24.70" r="2.50" fill="url(#gC)" stroke="none" stroke-width="1"/>
<circle cx="107.00" cy="28.40" r="2.50" fill="url(#gNl)" stroke="none" stroke-width="1"/>
<circle cx="106.70" cy="37.60" r="2.50" fill="url(#gC)" stroke="none" stroke-width="1"/>
<circle cx="99.00" cy="42.90" r="2.50" fill="url(#gNl)" stroke="none" stroke-width="1"/>
<circle cx="91.30" cy="37.80" r="2.50" fill="url(#gC)" stroke="none" stroke-width="1"/>
<circle cx="90.60" cy="28.90" r="2.50" fill="url(#gNl)" stroke="none" stroke-width="1"/>
<text x="100.20" y="62.60" font-size="12.2" text-anchor="middle" fill="#111" stroke="#111" stroke-width="0.0" font-weight="bold">Melamine</text>
<text x="53.40" y="90.60" font-size="10.5" text-anchor="start" fill="#111" stroke="#111" stroke-width="0.0" font-weight="bold">I<tspan font-size="9" dy="2.8">2</tspan></text>
<line x1="48.20" y1="100.70" x2="68.10" y2="100.70" stroke="#d07a28" stroke-width="1.1"/>
<circle cx="48.20" cy="100.70" r="3.10" fill="url(#gI)" stroke="none" stroke-width="1"/>
<circle cx="68.10" cy="100.70" r="3.10" fill="url(#gI)" stroke="none" stroke-width="1"/>
<text x="51.80" y="134.30" font-size="10.5" text-anchor="start" fill="#111" stroke="#111" stroke-width="0.0" font-weight="bold">KI</text>
<line x1="53.80" y1="147.10" x2="69.70" y2="137.70" stroke="#c06a30" stroke-width="1.1"/>
<circle cx="53.80" cy="147.10" r="4.80" fill="url(#gK)" stroke="none" stroke-width="1"/>
<circle cx="69.70" cy="137.70" r="2.50" fill="url(#gI)" stroke="none" stroke-width="1"/>
<g transform="rotate(-22 99 95)"><path d="M84 84 L112 84 L110 108 L86 108 Z" fill="#f6f6f6" stroke="#c8c8c8" stroke-width="0.6"/><ellipse cx="98" cy="84" rx="14" ry="2.2" fill="#fbfbfb" stroke="#c8c8c8" stroke-width="0.6"/></g>
<path d="M84.5 99 L114.5 96.5 L115.5 101 L108 104 L88 108.5 L85.5 106 Z" fill="#a8e0a0" opacity="0.9"/>
<path d="M86 100 L112 97.5 L113 100 L88 104 Z" fill="#c8f0c0" opacity="0.8"/>
<line x1="92.00" y1="98.00" x2="99.00" y2="101.00" stroke="#d08a40" stroke-width="0.6"/>
<line x1="99.00" y1="101.00" x2="105.00" y2="96.00" stroke="#d08a40" stroke-width="0.6"/>
<line x1="99.00" y1="101.00" x2="100.00" y2="106.00" stroke="#d08a40" stroke-width="0.6"/>
<line x1="99.00" y1="101.00" x2="95.00" y2="104.00" stroke="#d08a40" stroke-width="0.6"/>
<circle cx="92.00" cy="98.00" r="1.10" fill="#d8882a" stroke="none" stroke-width="1"/>
<circle cx="99.00" cy="101.00" r="1.10" fill="#d8882a" stroke="none" stroke-width="1"/>
<circle cx="105.00" cy="96.00" r="1.10" fill="#d8882a" stroke="none" stroke-width="1"/>
<circle cx="100.00" cy="106.00" r="1.10" fill="#d8882a" stroke="none" stroke-width="1"/>
<circle cx="95.00" cy="104.00" r="1.10" fill="#d8882a" stroke="none" stroke-width="1"/>
<path d="M92.3 125 Q91 132 86.5 140 L85.5 162 Q99.5 168.5 113.5 162 L112.5 140 Q108 132 106.7 125 Z" fill="#f4f4f4" stroke="#bdbdbd" stroke-width="0.6"/>
<ellipse cx="99.5" cy="124.6" rx="7.4" ry="1.8" fill="#fafafa" stroke="#bdbdbd" stroke-width="0.6"/>
<path d="M86.2 139.5 L85.5 162 Q99.5 168.5 113.5 162 L112.8 139.5 Q99.5 143 86.2 139.5 Z" fill="#8ea8d4"/>
<ellipse cx="99.5" cy="139.6" rx="13.3" ry="2.4" fill="#a6bce0"/>
<line x1="91.00" y1="154.00" x2="97.00" y2="160.00" stroke="#c07040" stroke-width="0.6"/>
<line x1="104.00" y1="151.00" x2="108.00" y2="146.00" stroke="#c07040" stroke-width="0.6"/>
<line x1="104.00" y1="151.00" x2="110.00" y2="148.50" stroke="#c07040" stroke-width="0.6"/>
<circle cx="91.00" cy="154.00" r="1.80" fill="#9a44d8" stroke="none" stroke-width="1"/>
<circle cx="97.00" cy="160.00" r="1.10" fill="#d8882a" stroke="none" stroke-width="1"/>
<circle cx="104.00" cy="152.00" r="2.20" fill="#9a44d8" stroke="none" stroke-width="1"/>
<circle cx="106.50" cy="154.00" r="2.00" fill="#8a3cc8" stroke="none" stroke-width="1"/>
<circle cx="108.00" cy="146.00" r="1.10" fill="#d8882a" stroke="none" stroke-width="1"/>
<circle cx="110.00" cy="148.50" r="1.10" fill="#d8882a" stroke="none" stroke-width="1"/>
<path d="M119.5 70.60000000000001 L178.5 70.60000000000001 L178.5 65.3 L192.8 73.7 L178.5 82.10000000000001 L178.5 76.8 L119.5 76.8 Z" fill="#fff" stroke="#9dc8ea" stroke-width="1.3" stroke-linejoin="miter"/>
<path d="M119.5 117.30000000000001 L159.8 117.30000000000001 L159.8 111.80000000000001 L174.3 120.4 L159.8 129.0 L159.8 123.5 L119.5 123.5 Z" fill="#fff" stroke="#9dc8ea" stroke-width="1.3" stroke-linejoin="miter"/>
<path d="M255 128.70000000000002 L284.8 128.70000000000002 L284.8 122.70000000000002 L298.6 132.3 L284.8 141.9 L284.8 135.9 L255 135.9 Z" fill="#fff" stroke="#9dc8ea" stroke-width="1.3" stroke-linejoin="miter"/>
<circle cx="218" cy="115.2" r="35.6" fill="url(#glassG)" stroke="#d8d8d8" stroke-width="0.7"/>
<path d="M186 99 L250 99 A35.6 35.6 0 0 1 182.7 108 Z" fill="none"/>
<path d="M186.30 99.0 L249.70 99.0 A35.6 35.6 0 1 1 186.30 99.0 Z" fill="url(#liqY)"/>
<ellipse cx="218" cy="99.0" rx="31.70" ry="2.2" fill="#ece49a" opacity="0.8"/>
<path d="M192 103 Q186 118 194 138 Q188 120 195 104 Z" fill="#f0e8a8" opacity="0.6"/>
<path d="M242 104 Q250 120 243 140 Q248 122 240 105 Z" fill="#f2ecb0" opacity="0.6"/>
<path d="M186 126 Q218 138 250 126" fill="none" stroke="#f0eab8" stroke-width="0.6" stroke-dasharray="1 1"/>
<path d="M204.5 38 L205.5 67.5 L203.5 68 L203.5 84 L232.5 84 L232.5 68 L230.5 67.5 L231.5 38 Z" fill="#f3f3f3" stroke="#d6d6d6" stroke-width="0.6"/>
<ellipse cx="217.8" cy="37.6" rx="15.2" ry="4.3" fill="#efefef" stroke="#cfcfcf" stroke-width="0.7"/>
<ellipse cx="217.8" cy="37.6" rx="10" ry="2.6" fill="#f8f8f8" stroke="#d0d0d0" stroke-width="0.5"/>
<ellipse cx="224.4" cy="126.4" rx="5.8" ry="2.6" transform="rotate(50 224.4 126.4)" fill="none" stroke="#e8451e" stroke-width="0.9"/>
<line x1="222.50" y1="121.50" x2="256.30" y2="6.30" stroke="#ea8a50" stroke-width="1.0" stroke-dasharray="4 2 1 2"/>
<line x1="228.50" y1="130.00" x2="320.00" y2="88.80" stroke="#ea8a50" stroke-width="1.0" stroke-dasharray="4 2 1 2"/>
<rect x="256.30" y="6.30" width="63.80" height="82.50" fill="none" stroke="#ea8a50" stroke-width="1.0" stroke-dasharray="4 2 1 2"/>
<line x1="289.71" y1="20.05" x2="282.90" y2="23.91" stroke="#8ab8e0" stroke-width="0.8"/>
<line x1="289.71" y1="20.05" x2="296.38" y2="23.91" stroke="#8ab8e0" stroke-width="0.8"/>
<line x1="282.90" y1="23.91" x2="282.90" y2="30.97" stroke="#8ab8e0" stroke-width="0.8"/>
<line x1="296.38" y1="23.91" x2="296.38" y2="30.97" stroke="#8ab8e0" stroke-width="0.8"/>
<line x1="282.90" y1="30.97" x2="289.71" y2="34.82" stroke="#8ab8e0" stroke-width="0.8"/>
<line x1="296.38" y1="30.97" x2="289.71" y2="34.82" stroke="#8ab8e0" stroke-width="0.8"/>
<line x1="282.90" y1="30.97" x2="276.48" y2="34.82" stroke="#8ab8e0" stroke-width="0.8"/>
<line x1="296.38" y1="30.97" x2="302.81" y2="34.82" stroke="#8ab8e0" stroke-width="0.8"/>
<line x1="276.48" y1="34.82" x2="276.48" y2="41.89" stroke="#8ab8e0" stroke-width="0.8"/>
<line x1="302.81" y1="34.82" x2="302.81" y2="41.89" stroke="#8ab8e0" stroke-width="0.8"/>
<line x1="276.48" y1="41.89" x2="282.90" y2="45.74" stroke="#8ab8e0" stroke-width="0.8"/>
<line x1="302.81" y1="41.89" x2="295.74" y2="45.74" stroke="#8ab8e0" stroke-width="0.8"/>
<line x1="282.90" y1="45.74" x2="289.71" y2="41.89" stroke="#8ab8e0" stroke-width="0.8"/>
<line x1="295.74" y1="45.74" x2="289.71" y2="41.89" stroke="#8ab8e0" stroke-width="0.8"/>
<line x1="289.71" y1="41.89" x2="289.71" y2="34.82" stroke="#8ab8e0" stroke-width="0.8"/>
<line x1="289.71" y1="20.05" x2="289.71" y2="11.96" stroke="#8ab8e0" stroke-width="0.8"/>
<line x1="276.48" y1="41.89" x2="270.05" y2="45.74" stroke="#8ab8e0" stroke-width="0.8"/>
<line x1="302.81" y1="41.89" x2="309.87" y2="45.74" stroke="#8ab8e0" stroke-width="0.8"/>
<line x1="286.11" y1="9.39" x2="289.71" y2="11.96" stroke="#c07898" stroke-width="0.7"/>
<circle cx="286.11" cy="9.39" r="1.30" fill="url(#gH)" stroke="none" stroke-width="1"/>
<line x1="295.10" y1="9.39" x2="289.71" y2="11.96" stroke="#c07898" stroke-width="0.7"/>
<circle cx="295.10" cy="9.39" r="1.30" fill="url(#gH)" stroke="none" stroke-width="1"/>
<line x1="264.92" y1="42.27" x2="270.05" y2="45.74" stroke="#c07898" stroke-width="0.7"/>
<circle cx="264.92" cy="42.27" r="1.30" fill="url(#gH)" stroke="none" stroke-width="1"/>
<line x1="269.41" y1="49.98" x2="270.05" y2="45.74" stroke="#c07898" stroke-width="0.7"/>
<circle cx="269.41" cy="49.98" r="1.30" fill="url(#gH)" stroke="none" stroke-width="1"/>
<line x1="314.11" y1="42.27" x2="309.87" y2="45.74" stroke="#c07898" stroke-width="0.7"/>
<circle cx="314.11" cy="42.27" r="1.30" fill="url(#gH)" stroke="none" stroke-width="1"/>
<line x1="309.87" y1="49.98" x2="309.87" y2="45.74" stroke="#c07898" stroke-width="0.7"/>
<circle cx="309.87" cy="49.98" r="1.30" fill="url(#gH)" stroke="none" stroke-width="1"/>
<circle cx="289.71" cy="20.05" r="1.90" fill="url(#gC)" stroke="none" stroke-width="1"/>
<circle cx="282.90" cy="23.91" r="1.90" fill="url(#gNl)" stroke="none" stroke-width="1"/>
<circle cx="296.38" cy="23.91" r="1.90" fill="url(#gNl)" stroke="none" stroke-width="1"/>
<circle cx="282.90" cy="30.97" r="1.90" fill="url(#gC)" stroke="none" stroke-width="1"/>
<circle cx="296.38" cy="30.97" r="1.90" fill="url(#gC)" stroke="none" stroke-width="1"/>
<circle cx="276.48" cy="34.82" r="1.90" fill="url(#gNl)" stroke="none" stroke-width="1"/>
<circle cx="289.71" cy="34.82" r="1.90" fill="url(#gNl)" stroke="none" stroke-width="1"/>
<circle cx="302.81" cy="34.82" r="1.90" fill="url(#gNl)" stroke="none" stroke-width="1"/>
<circle cx="276.48" cy="41.89" r="1.90" fill="url(#gC)" stroke="none" stroke-width="1"/>
<circle cx="289.71" cy="41.89" r="1.90" fill="url(#gC)" stroke="none" stroke-width="1"/>
<circle cx="302.81" cy="41.89" r="1.90" fill="url(#gC)" stroke="none" stroke-width="1"/>
<circle cx="282.90" cy="45.74" r="1.90" fill="url(#gNl)" stroke="none" stroke-width="1"/>
<circle cx="295.74" cy="45.74" r="1.90" fill="url(#gNl)" stroke="none" stroke-width="1"/>
<circle cx="289.71" cy="11.96" r="1.90" fill="url(#gC)" stroke="none" stroke-width="1"/>
<circle cx="270.05" cy="45.74" r="1.90" fill="url(#gC)" stroke="none" stroke-width="1"/>
<circle cx="309.87" cy="45.74" r="1.90" fill="url(#gC)" stroke="none" stroke-width="1"/>
<circle cx="263.00" cy="66.30" r="5.80" fill="url(#gK)" stroke="none" stroke-width="1"/>
<circle cx="290.00" cy="79.10" r="5.80" fill="url(#gK)" stroke="none" stroke-width="1"/>
<circle cx="305.80" cy="61.50" r="3.20" fill="url(#gK)" stroke="none" stroke-width="1"/>
<circle cx="306.40" cy="78.20" r="3.20" fill="url(#gK)" stroke="none" stroke-width="1"/>
<circle cx="270.70" cy="63.30" r="3.20" fill="url(#gI)" stroke="none" stroke-width="1"/>
<circle cx="276.50" cy="68.90" r="3.20" fill="url(#gI)" stroke="none" stroke-width="1"/>
<circle cx="282.50" cy="73.40" r="3.20" fill="url(#gI)" stroke="none" stroke-width="1"/>
<circle cx="273.50" cy="82.30" r="3.20" fill="url(#gI)" stroke="none" stroke-width="1"/>
<circle cx="300.20" cy="70.80" r="1.70" fill="url(#gI)" stroke="none" stroke-width="1"/>
<circle cx="309.20" cy="64.40" r="1.70" fill="url(#gI)" stroke="none" stroke-width="1"/>
<circle cx="307.90" cy="68.90" r="1.70" fill="url(#gI)" stroke="none" stroke-width="1"/>
<circle cx="307.00" cy="73.40" r="1.70" fill="url(#gI)" stroke="none" stroke-width="1"/>
<g transform="translate(347 112.2) rotate(-45)"><rect x="-60.6" y="-14.7" width="121.2" height="29.4" fill="url(#tubeG)"/><rect x="-56" y="-14.7" width="9" height="29.4" fill="#e6eef8" opacity="0.9"/><rect x="45" y="-14.7" width="9" height="29.4" fill="#e6eef8" opacity="0.9"/><line x1="-60.6" y1="-14.7" x2="60.6" y2="-14.7" stroke="#111" stroke-width="1.2"/><line x1="-60.6" y1="14.7" x2="60.6" y2="14.7" stroke="#111" stroke-width="1.2"/><ellipse cx="60.6" cy="0" rx="6" ry="14.7" fill="#e8ecf2" stroke="#111" stroke-width="1.2"/><path d="M-60.6 -14.7 A6 14.7 0 0 0 -60.6 14.7" fill="none" stroke="#111" stroke-width="1.2"/><text x="-27" y="3" font-size="8" font-weight="bold" fill="#111">Air</text></g>
<path d="M348.7 94.3 L350 107.5 Q355.5 111 361 107.5 L362.4 94.3 Z" fill="#ececec" stroke="#d0d0d0" stroke-width="0.5"/>
<path d="M356 95 L357 109 Q359.5 109 361 107.5 L362.4 94.3 Z" fill="#dedede"/>
<ellipse cx="355.5" cy="94.3" rx="6.9" ry="2.0" fill="#f8f8f8" stroke="#d0d0d0" stroke-width="0.5"/>
<ellipse cx="368" cy="98" rx="4.2" ry="7.4" transform="rotate(-35 368 98)" fill="#f4f4f4" stroke="#cccccc" stroke-width="0.5"/>
<path d="M315.3 141.5 Q325 145 341 133" fill="none" stroke="#ee7480" stroke-width="1.4" stroke-linecap="round"/>
<path d="M330 116 Q335 110 344 109.5" fill="none" stroke="#ee7480" stroke-width="1.4" stroke-linecap="round"/>
<path d="M337 112.5 Q346 115 358 109" fill="none" stroke="#ee7480" stroke-width="1.4" stroke-linecap="round"/>
<path d="M344 130 L338 131.5 L340.5 136 Z" fill="#ee7480" stroke="none" stroke-width="1"/>
<path d="M346.5 109.5 L341.5 107 L341.8 112 Z" fill="#ee7480" stroke="none" stroke-width="1"/>
<path d="M361 107.6 L355.5 106.5 L357 111 Z" fill="#ee7480" stroke="none" stroke-width="1"/>
<path d="M371.6 116.6 L423.8 116.6 L423.8 111.9 L435.5 121.5 L423.8 131.1 L423.8 126.4 L371.6 126.4 Z" fill="#fff" stroke="#ec6f78" stroke-width="1.5" stroke-linejoin="miter"/>
<g transform="translate(407.9 78.6) rotate(-29.2)">
<path d="M0 -4.0 L52 -4.0 L52 -9.2 L64.6 0 L52 9.2 L52 4.0 L0 4.0 Z" fill="#fff" stroke="#ec6f78" stroke-width="1.5" stroke-linejoin="miter"/>
</g>
<text x="385" y="103.2" font-size="8.7" fill="#222" transform="rotate(-21 385 103.2)">Calcination</text>
<text x="393" y="111.4" font-size="8.7" fill="#222" transform="rotate(-19 393 111.4)">550°C/4h</text>
<rect x="328.50" y="4.50" width="119.20" height="42.80" fill="none" stroke="#444" stroke-width="0.9" stroke-dasharray="2.2 1.3"/>
<line x1="335.00" y1="11.15" x2="446.00" y2="11.09" stroke="#a8e4d0" stroke-width="0.8"/>
<line x1="335.00" y1="16.75" x2="446.00" y2="16.69" stroke="#a8e4d0" stroke-width="0.8"/>
<g fill="#b6b6e6" stroke="#6a6aae" stroke-width="0.5"><circle cx="335.00" cy="10.91" r="1.75"/><circle cx="335.00" cy="17.15" r="1.75"/><circle cx="343.88" cy="10.95" r="1.75"/><circle cx="343.88" cy="17.27" r="1.75"/><circle cx="353.20" cy="10.89" r="1.75"/><circle cx="353.20" cy="16.82" r="1.75"/><circle cx="363.40" cy="10.49" r="1.75"/><circle cx="363.40" cy="16.13" r="1.75"/><circle cx="373.24" cy="10.01" r="1.75"/><circle cx="373.24" cy="15.87" r="1.75"/><circle cx="383.11" cy="10.81" r="1.75"/><circle cx="383.11" cy="16.80" r="1.75"/><circle cx="392.53" cy="11.37" r="1.75"/><circle cx="392.53" cy="16.96" r="1.75"/><circle cx="402.46" cy="11.08" r="1.75"/><circle cx="402.46" cy="16.52" r="1.75"/><circle cx="403.66" cy="13.94" r="1.6"/><circle cx="412.28" cy="10.86" r="1.75"/><circle cx="412.28" cy="16.70" r="1.75"/><circle cx="422.70" cy="10.20" r="1.75"/><circle cx="422.70" cy="16.15" r="1.75"/><circle cx="423.90" cy="13.19" r="1.6"/><circle cx="431.75" cy="10.71" r="1.75"/><circle cx="431.75" cy="16.25" r="1.75"/><circle cx="441.30" cy="11.03" r="1.75"/><circle cx="441.30" cy="16.86" r="1.75"/><circle cx="442.50" cy="13.70" r="1.6"/></g>
<g fill="#36b68e" stroke="#1f7f68" stroke-width="0.4"><circle cx="339.32" cy="11.32" r="1.8"/><circle cx="339.32" cy="16.72" r="1.8"/><circle cx="348.63" cy="11.15" r="1.8"/><circle cx="348.63" cy="16.55" r="1.8"/><circle cx="357.95" cy="10.73" r="1.8"/><circle cx="357.95" cy="16.13" r="1.8"/><circle cx="368.00" cy="10.48" r="1.8"/><circle cx="368.00" cy="15.88" r="1.8"/><circle cx="377.82" cy="10.69" r="1.8"/><circle cx="377.82" cy="16.09" r="1.8"/><circle cx="387.85" cy="11.13" r="1.8"/><circle cx="387.85" cy="16.53" r="1.8"/><circle cx="397.98" cy="11.32" r="1.8"/><circle cx="397.98" cy="16.72" r="1.8"/><circle cx="406.85" cy="11.08" r="1.8"/><circle cx="406.85" cy="16.48" r="1.8"/><circle cx="417.38" cy="10.62" r="1.8"/><circle cx="417.38" cy="16.02" r="1.8"/><circle cx="427.10" cy="10.49" r="1.8"/><circle cx="427.10" cy="15.89" r="1.8"/><circle cx="436.64" cy="10.79" r="1.8"/><circle cx="436.64" cy="16.19" r="1.8"/></g>
<line x1="333.50" y1="36.97" x2="443.00" y2="37.10" stroke="#a8e4d0" stroke-width="0.8"/>
<line x1="333.50" y1="42.57" x2="443.00" y2="42.70" stroke="#a8e4d0" stroke-width="0.8"/>
<g fill="#b6b6e6" stroke="#6a6aae" stroke-width="0.5"><circle cx="333.50" cy="36.96" r="1.75"/><circle cx="333.50" cy="42.50" r="1.75"/><circle cx="342.61" cy="35.93" r="1.75"/><circle cx="342.61" cy="41.26" r="1.75"/><circle cx="353.18" cy="34.00" r="1.75"/><circle cx="353.18" cy="40.15" r="1.75"/><circle cx="362.68" cy="34.46" r="1.75"/><circle cx="362.68" cy="39.85" r="1.75"/><circle cx="363.88" cy="37.29" r="1.6"/><circle cx="372.98" cy="35.41" r="1.75"/><circle cx="372.98" cy="41.75" r="1.75"/><circle cx="374.18" cy="38.64" r="1.6"/><circle cx="382.83" cy="36.87" r="1.75"/><circle cx="382.83" cy="42.91" r="1.75"/><circle cx="391.75" cy="36.41" r="1.75"/><circle cx="391.75" cy="42.82" r="1.75"/><circle cx="402.50" cy="34.89" r="1.75"/><circle cx="402.50" cy="41.19" r="1.75"/><circle cx="412.68" cy="34.11" r="1.75"/><circle cx="412.68" cy="39.99" r="1.75"/><circle cx="422.32" cy="34.68" r="1.75"/><circle cx="422.32" cy="40.86" r="1.75"/><circle cx="433.22" cy="36.12" r="1.75"/><circle cx="433.22" cy="41.87" r="1.75"/><circle cx="442.71" cy="37.14" r="1.75"/><circle cx="442.71" cy="43.13" r="1.75"/></g>
<g fill="#36b68e" stroke="#1f7f68" stroke-width="0.4"><circle cx="338.28" cy="36.60" r="1.8"/><circle cx="338.28" cy="42.00" r="1.8"/><circle cx="348.00" cy="35.17" r="1.8"/><circle cx="348.00" cy="40.57" r="1.8"/><circle cx="358.11" cy="34.40" r="1.8"/><circle cx="358.11" cy="39.80" r="1.8"/><circle cx="367.46" cy="35.12" r="1.8"/><circle cx="367.46" cy="40.52" r="1.8"/><circle cx="378.02" cy="36.66" r="1.8"/><circle cx="378.02" cy="42.06" r="1.8"/><circle cx="387.29" cy="37.19" r="1.8"/><circle cx="387.29" cy="42.59" r="1.8"/><circle cx="397.30" cy="36.26" r="1.8"/><circle cx="397.30" cy="41.66" r="1.8"/><circle cx="407.74" cy="34.77" r="1.8"/><circle cx="407.74" cy="40.17" r="1.8"/><circle cx="417.33" cy="34.47" r="1.8"/><circle cx="417.33" cy="39.87" r="1.8"/><circle cx="427.83" cy="35.68" r="1.8"/><circle cx="427.83" cy="41.08" r="1.8"/><circle cx="437.85" cy="37.00" r="1.8"/><circle cx="437.85" cy="42.40" r="1.8"/></g>
<path d="M440.5 28 L448.5 24.2 L448.5 26.3 L463.5 26.3 L463.5 29.7 L448.5 29.7 L448.5 31.8 Z" fill="#fff" stroke="#9dc8ea" stroke-width="1.0" stroke-linejoin="miter"/>
<path d="M463.5 16 L463.5 41 Q478.3 47.5 493 41 L493 16 Z" fill="#f2f2f2" stroke="#c8c8c8" stroke-width="0.6"/>
<path d="M463.8 25 L463.8 41 Q478.3 47.5 492.7 41 L492.7 25 Q478.3 28.5 463.8 25 Z" fill="url(#cnLiq)"/>
<path d="M463 6 L463 14.5 Q478.3 19.5 493.7 14.5 L493.7 6 Z" fill="url(#capG)"/>
<ellipse cx="478.3" cy="6" rx="15.3" ry="3" fill="#d8d8d8"/>
<text x="478.30" y="33.20" font-size="10" text-anchor="middle" fill="#111" stroke="#111" stroke-width="0.22">CN</text>
<circle cx="532.50" cy="21.20" r="6.20" fill="url(#gC)" stroke="none" stroke-width="1"/>
<text x="532.50" y="43.20" font-size="11" text-anchor="middle" fill="#111" stroke="#111" stroke-width="0.22">C</text>
<circle cx="555.00" cy="21.20" r="6.20" fill="url(#gN)" stroke="none" stroke-width="1"/>
<text x="555.00" y="43.20" font-size="11" text-anchor="middle" fill="#111" stroke="#111" stroke-width="0.22">N</text>
<circle cx="577.50" cy="21.20" r="6.20" fill="url(#gIo)" stroke="none" stroke-width="1"/>
<text x="577.50" y="43.20" font-size="11" text-anchor="middle" fill="#111" stroke="#111" stroke-width="0.22">I</text>
<circle cx="598.70" cy="21.20" r="6.20" fill="url(#gK)" stroke="none" stroke-width="1"/>
<text x="598.70" y="43.20" font-size="11" text-anchor="middle" fill="#111" stroke="#111" stroke-width="0.22">K</text>
<path d="M441 77 L441 136 Q443 152 450.4 156 Q457.8 152 459.8 136 L459.8 77 Z" fill="url(#glassG)" stroke="#cfcfcf" stroke-width="0.6"/>
<path d="M441.3 115 L441.3 136 Q443 152 450.4 156 Q457.8 152 459.5 136 L459.5 115 Z" fill="url(#greenLiq)"/>
<ellipse cx="450.4" cy="115" rx="9.1" ry="1.8" fill="#b4e0a4"/>
<ellipse cx="450.4" cy="76" rx="11" ry="2.4" fill="#f6f6f6" stroke="#c8c8c8" stroke-width="0.6"/>
<path d="M462.8 110.3 L470.8 106.5 L470.8 108.6 L494.5 108.6 L494.5 112.0 L470.8 112.0 L470.8 114.1 Z" fill="#fff" stroke="#9dc8ea" stroke-width="1.0" stroke-linejoin="miter"/>
<rect x="482.00" y="71.70" width="121.40" height="72.90" fill="none" stroke="#444" stroke-width="0.9" stroke-dasharray="2.2 1.3"/>
<line x1="490.00" y1="84.32" x2="596.00" y2="84.87" stroke="#a8e4d0" stroke-width="0.8"/>
<line x1="490.00" y1="89.92" x2="596.00" y2="90.47" stroke="#a8e4d0" stroke-width="0.8"/>
<g fill="#b6b6e6" stroke="#6a6aae" stroke-width="0.5"><circle cx="490.00" cy="84.29" r="1.75"/><circle cx="490.00" cy="89.85" r="1.75"/><circle cx="499.83" cy="83.57" r="1.75"/><circle cx="499.83" cy="89.56" r="1.75"/><circle cx="510.35" cy="82.99" r="1.75"/><circle cx="510.35" cy="89.38" r="1.75"/><circle cx="511.55" cy="86.28" r="1.6"/><circle cx="520.20" cy="84.18" r="1.75"/><circle cx="520.20" cy="89.89" r="1.75"/><circle cx="530.04" cy="84.67" r="1.75"/><circle cx="530.04" cy="90.96" r="1.75"/><circle cx="540.12" cy="84.49" r="1.75"/><circle cx="540.12" cy="90.56" r="1.75"/><circle cx="549.97" cy="84.24" r="1.75"/><circle cx="549.97" cy="89.95" r="1.75"/><circle cx="559.40" cy="83.58" r="1.75"/><circle cx="559.40" cy="88.73" r="1.75"/><circle cx="560.60" cy="86.19" r="1.6"/><circle cx="569.03" cy="83.44" r="1.75"/><circle cx="569.03" cy="89.28" r="1.75"/><circle cx="577.71" cy="83.95" r="1.75"/><circle cx="577.71" cy="89.75" r="1.75"/><circle cx="578.91" cy="87.15" r="1.6"/><circle cx="588.68" cy="84.60" r="1.75"/><circle cx="588.68" cy="90.73" r="1.75"/></g>
<g fill="#36b68e" stroke="#1f7f68" stroke-width="0.4"><circle cx="494.36" cy="84.02" r="1.8"/><circle cx="494.36" cy="89.42" r="1.8"/><circle cx="505.30" cy="83.46" r="1.8"/><circle cx="505.30" cy="88.86" r="1.8"/><circle cx="515.04" cy="83.90" r="1.8"/><circle cx="515.04" cy="89.30" r="1.8"/><circle cx="525.30" cy="84.80" r="1.8"/><circle cx="525.30" cy="90.20" r="1.8"/><circle cx="535.36" cy="85.13" r="1.8"/><circle cx="535.36" cy="90.53" r="1.8"/><circle cx="544.64" cy="84.59" r="1.8"/><circle cx="544.64" cy="89.99" r="1.8"/><circle cx="554.28" cy="83.75" r="1.8"/><circle cx="554.28" cy="89.15" r="1.8"/><circle cx="564.05" cy="83.48" r="1.8"/><circle cx="564.05" cy="88.88" r="1.8"/><circle cx="573.33" cy="84.05" r="1.8"/><circle cx="573.33" cy="89.45" r="1.8"/><circle cx="583.27" cy="84.90" r="1.8"/><circle cx="583.27" cy="90.30" r="1.8"/><circle cx="593.39" cy="85.09" r="1.8"/><circle cx="593.39" cy="90.49" r="1.8"/></g>
<line x1="488.00" y1="121.35" x2="594.00" y2="122.12" stroke="#a8e4d0" stroke-width="0.8"/>
<line x1="488.00" y1="126.95" x2="594.00" y2="127.72" stroke="#a8e4d0" stroke-width="0.8"/>
<g fill="#b6b6e6" stroke="#6a6aae" stroke-width="0.5"><circle cx="488.00" cy="120.96" r="1.75"/><circle cx="488.00" cy="126.94" r="1.75"/><circle cx="497.29" cy="121.31" r="1.75"/><circle cx="497.29" cy="127.10" r="1.75"/><circle cx="498.49" cy="123.94" r="1.6"/><circle cx="507.10" cy="122.15" r="1.75"/><circle cx="507.10" cy="127.57" r="1.75"/><circle cx="508.30" cy="124.82" r="1.6"/><circle cx="517.58" cy="122.72" r="1.75"/><circle cx="517.58" cy="128.54" r="1.75"/><circle cx="528.00" cy="122.98" r="1.75"/><circle cx="528.00" cy="129.12" r="1.75"/><circle cx="537.83" cy="121.73" r="1.75"/><circle cx="537.83" cy="127.62" r="1.75"/><circle cx="548.02" cy="120.77" r="1.75"/><circle cx="548.02" cy="127.14" r="1.75"/><circle cx="549.22" cy="123.94" r="1.6"/><circle cx="557.46" cy="121.13" r="1.75"/><circle cx="557.46" cy="127.09" r="1.75"/><circle cx="566.99" cy="122.18" r="1.75"/><circle cx="566.99" cy="128.17" r="1.75"/><circle cx="577.15" cy="122.85" r="1.75"/><circle cx="577.15" cy="128.79" r="1.75"/><circle cx="587.21" cy="123.20" r="1.75"/><circle cx="587.21" cy="128.71" r="1.75"/></g>
<g fill="#36b68e" stroke="#1f7f68" stroke-width="0.4"><circle cx="492.98" cy="121.19" r="1.8"/><circle cx="492.98" cy="126.59" r="1.8"/><circle cx="502.30" cy="121.58" r="1.8"/><circle cx="502.30" cy="126.98" r="1.8"/><circle cx="512.03" cy="122.72" r="1.8"/><circle cx="512.03" cy="128.12" r="1.8"/><circle cx="523.04" cy="123.42" r="1.8"/><circle cx="523.04" cy="128.82" r="1.8"/><circle cx="532.39" cy="122.83" r="1.8"/><circle cx="532.39" cy="128.23" r="1.8"/><circle cx="542.68" cy="121.62" r="1.8"/><circle cx="542.68" cy="127.02" r="1.8"/><circle cx="552.52" cy="121.20" r="1.8"/><circle cx="552.52" cy="126.60" r="1.8"/><circle cx="562.68" cy="122.00" r="1.8"/><circle cx="562.68" cy="127.40" r="1.8"/><circle cx="572.22" cy="123.10" r="1.8"/><circle cx="572.22" cy="128.50" r="1.8"/><circle cx="581.91" cy="123.37" r="1.8"/><circle cx="581.91" cy="128.77" r="1.8"/><circle cx="592.30" cy="122.43" r="1.8"/><circle cx="592.30" cy="127.83" r="1.8"/></g>
<circle cx="527.30" cy="98.70" r="4.20" fill="url(#gK)" stroke="none" stroke-width="1"/>
<circle cx="561.50" cy="98.30" r="4.20" fill="url(#gK)" stroke="none" stroke-width="1"/>
<circle cx="523.50" cy="105.00" r="2.20" fill="url(#gIo)" stroke="none" stroke-width="1"/>
<circle cx="541.00" cy="106.00" r="2.20" fill="url(#gIo)" stroke="none" stroke-width="1"/>
<circle cx="552.00" cy="106.00" r="2.20" fill="url(#gIo)" stroke="none" stroke-width="1"/>
<circle cx="565.00" cy="106.50" r="2.20" fill="url(#gIo)" stroke="none" stroke-width="1"/>
<text x="542.00" y="163.20" font-size="12" text-anchor="middle" fill="#111" stroke="#111" stroke-width="0.0" font-weight="bold">CN-I/I<tspan font-size="8.5" dy="2.6">3</tspan></text>
<rect x="41.50" y="178.50" width="255.00" height="91.00" fill="none" stroke="#333" stroke-width="1.1"/>
<text x="0.25" y="190.40" font-size="16.3" text-anchor="start" fill="#000" stroke="#000" stroke-width="0.0" font-weight="bold">(b)</text>
<defs><filter id="fb" x="0" y="0" width="1" height="1" color-interpolation-filters="sRGB">
<feGaussianBlur in="SourceGraphic" stdDeviation="1.3" result="bl"/>
<feColorMatrix in="bl" type="matrix" values="0 0 0 0 0  0 0 0 0 0  0 0 0 0 0  1 0 0 0 0" result="m0"/>
<feComponentTransfer in="m0" result="mask"><feFuncA type="table" tableValues="0 0 0 0 0.3 1 1 1 1 1"/></feComponentTransfer>
<feFlood flood-color="#a6e83e" result="fl"/>
<feComposite in="fl" in2="mask" operator="in"/>
</filter>
<filter id="fsoft" x="-5%" y="-5%" width="110%" height="110%"><feGaussianBlur stdDeviation="0.8"/></filter>
<filter id="fbm" x="0" y="0" width="1" height="1" color-interpolation-filters="sRGB">
<feGaussianBlur in="SourceGraphic" stdDeviation="1.3"/>
<feComponentTransfer><feFuncR type="table" tableValues="0 0 0 0 0.3 1 1 1 1 1"/><feFuncG type="table" tableValues="0 0 0 0 0.3 1 1 1 1 1"/><feFuncB type="table" tableValues="0 0 0 0 0.3 1 1 1 1 1"/></feComponentTransfer>
</filter>
<clipPath id="cb1"><rect x="42.5" y="182" width="253" height="76.3"/></clipPath>
</defs>
<g clip-path="url(#cb1)"><g filter="url(#fb)"><rect x="40.0" y="160" width="110" height="115" fill="#000"/><g fill="#fff"><circle cx="51.70" cy="171.75" r="4.0"/><circle cx="56.55" cy="174.55" r="4.0"/><circle cx="56.55" cy="180.15" r="4.0"/><circle cx="51.70" cy="182.95" r="4.0"/><circle cx="46.85" cy="180.15" r="4.0"/><circle cx="46.85" cy="174.55" r="4.0"/><circle cx="46.85" cy="163.35" r="4.0"/><circle cx="51.70" cy="166.15" r="4.0"/><circle cx="42.00" cy="171.75" r="4.0"/><circle cx="42.00" cy="166.15" r="4.0"/><circle cx="56.55" cy="163.35" r="4.0"/><circle cx="61.40" cy="166.15" r="4.0"/><circle cx="61.40" cy="171.75" r="4.0"/><circle cx="51.70" cy="188.55" r="4.0"/><circle cx="37.15" cy="163.35" r="4.0"/><circle cx="66.25" cy="163.35" r="4.0"/><circle cx="80.90" cy="171.75" r="4.0"/><circle cx="85.75" cy="174.55" r="4.0"/><circle cx="85.75" cy="180.15" r="4.0"/><circle cx="80.90" cy="182.95" r="4.0"/><circle cx="76.05" cy="180.15" r="4.0"/><circle cx="76.05" cy="174.55" r="4.0"/><circle cx="76.05" cy="163.35" r="4.0"/><circle cx="80.90" cy="166.15" r="4.0"/><circle cx="71.20" cy="171.75" r="4.0"/><circle cx="71.20" cy="166.15" r="4.0"/><circle cx="85.75" cy="163.35" r="4.0"/><circle cx="90.60" cy="166.15" r="4.0"/><circle cx="90.60" cy="171.75" r="4.0"/><circle cx="80.90" cy="188.55" r="4.0"/><circle cx="66.35" cy="163.35" r="4.0"/><circle cx="95.45" cy="163.35" r="4.0"/><circle cx="66.30" cy="197.10" r="4.0"/><circle cx="71.15" cy="199.90" r="4.0"/><circle cx="71.15" cy="205.50" r="4.0"/><circle cx="66.30" cy="208.30" r="4.0"/><circle cx="61.45" cy="205.50" r="4.0"/><circle cx="61.45" cy="199.90" r="4.0"/><circle cx="61.45" cy="188.70" r="4.0"/><circle cx="66.30" cy="191.50" r="4.0"/><circle cx="56.60" cy="197.10" r="4.0"/><circle cx="56.60" cy="191.50" r="4.0"/><circle cx="71.15" cy="188.70" r="4.0"/><circle cx="76.00" cy="191.50" r="4.0"/><circle cx="76.00" cy="197.10" r="4.0"/><circle cx="66.30" cy="213.90" r="4.0"/><circle cx="51.75" cy="188.70" r="4.0"/><circle cx="80.85" cy="188.70" r="4.0"/><circle cx="95.50" cy="197.10" r="4.0"/><circle cx="100.35" cy="199.90" r="4.0"/><circle cx="100.35" cy="205.50" r="4.0"/><circle cx="95.50" cy="208.30" r="4.0"/><circle cx="90.65" cy="205.50" r="4.0"/><circle cx="90.65" cy="199.90" r="4.0"/><circle cx="90.65" cy="188.70" r="4.0"/><circle cx="95.50" cy="191.50" r="4.0"/><circle cx="85.80" cy="197.10" r="4.0"/><circle cx="85.80" cy="191.50" r="4.0"/><circle cx="100.35" cy="188.70" r="4.0"/><circle cx="105.20" cy="191.50" r="4.0"/><circle cx="105.20" cy="197.10" r="4.0"/><circle cx="95.50" cy="213.90" r="4.0"/><circle cx="80.95" cy="188.70" r="4.0"/><circle cx="110.05" cy="188.70" r="4.0"/><circle cx="80.90" cy="222.45" r="4.0"/><circle cx="85.75" cy="225.25" r="4.0"/><circle cx="85.75" cy="230.85" r="4.0"/><circle cx="80.90" cy="233.65" r="4.0"/><circle cx="76.05" cy="230.85" r="4.0"/><circle cx="76.05" cy="225.25" r="4.0"/><circle cx="76.05" cy="214.05" r="4.0"/><circle cx="80.90" cy="216.85" r="4.0"/><circle cx="71.20" cy="222.45" r="4.0"/><circle cx="71.20" cy="216.85" r="4.0"/><circle cx="85.75" cy="214.05" r="4.0"/><circle cx="90.60" cy="216.85" r="4.0"/><circle cx="90.60" cy="222.45" r="4.0"/><circle cx="80.90" cy="239.25" r="4.0"/><circle cx="66.35" cy="214.05" r="4.0"/><circle cx="95.45" cy="214.05" r="4.0"/><circle cx="110.10" cy="222.45" r="4.0"/><circle cx="114.95" cy="225.25" r="4.0"/><circle cx="114.95" cy="230.85" r="4.0"/><circle cx="110.10" cy="233.65" r="4.0"/><circle cx="105.25" cy="230.85" r="4.0"/><circle cx="105.25" cy="225.25" r="4.0"/><circle cx="105.25" cy="214.05" r="4.0"/><circle cx="110.10" cy="216.85" r="4.0"/><circle cx="100.40" cy="222.45" r="4.0"/><circle cx="100.40" cy="216.85" r="4.0"/><circle cx="114.95" cy="214.05" r="4.0"/><circle cx="119.80" cy="216.85" r="4.0"/><circle cx="119.80" cy="222.45" r="4.0"/><circle cx="110.10" cy="239.25" r="4.0"/><circle cx="95.55" cy="214.05" r="4.0"/><circle cx="124.65" cy="214.05" r="4.0"/><circle cx="95.50" cy="247.80" r="4.0"/><circle cx="100.35" cy="250.60" r="4.0"/><circle cx="100.35" cy="256.20" r="4.0"/><circle cx="95.50" cy="259.00" r="4.0"/><circle cx="90.65" cy="256.20" r="4.0"/><circle cx="90.65" cy="250.60" r="4.0"/><circle cx="90.65" cy="239.40" r="4.0"/><circle cx="95.50" cy="242.20" r="4.0"/><circle cx="85.80" cy="247.80" r="4.0"/><circle cx="85.80" cy="242.20" r="4.0"/><circle cx="100.35" cy="239.40" r="4.0"/><circle cx="105.20" cy="242.20" r="4.0"/><circle cx="105.20" cy="247.80" r="4.0"/><circle cx="95.50" cy="264.60" r="4.0"/><circle cx="80.95" cy="239.40" r="4.0"/><circle cx="110.05" cy="239.40" r="4.0"/><circle cx="124.70" cy="247.80" r="4.0"/><circle cx="129.55" cy="250.60" r="4.0"/><circle cx="129.55" cy="256.20" r="4.0"/><circle cx="124.70" cy="259.00" r="4.0"/><circle cx="119.85" cy="256.20" r="4.0"/><circle cx="119.85" cy="250.60" r="4.0"/><circle cx="119.85" cy="239.40" r="4.0"/><circle cx="124.70" cy="242.20" r="4.0"/><circle cx="115.00" cy="247.80" r="4.0"/><circle cx="115.00" cy="242.20" r="4.0"/><circle cx="129.55" cy="239.40" r="4.0"/><circle cx="134.40" cy="242.20" r="4.0"/><circle cx="134.40" cy="247.80" r="4.0"/><circle cx="124.70" cy="264.60" r="4.0"/><circle cx="110.15" cy="239.40" r="4.0"/><circle cx="139.25" cy="239.40" r="4.0"/></g><g fill="#000"><circle cx="51.70" cy="177.35" r="0.01"/><circle cx="46.85" cy="168.95" r="0.01"/><circle cx="56.55" cy="168.95" r="0.01"/><circle cx="80.90" cy="177.35" r="0.01"/><circle cx="76.05" cy="168.95" r="0.01"/><circle cx="85.75" cy="168.95" r="0.01"/><circle cx="66.30" cy="202.70" r="0.01"/><circle cx="61.45" cy="194.30" r="0.01"/><circle cx="71.15" cy="194.30" r="0.01"/><circle cx="95.50" cy="202.70" r="0.01"/><circle cx="90.65" cy="194.30" r="0.01"/><circle cx="100.35" cy="194.30" r="0.01"/><circle cx="80.90" cy="228.05" r="0.01"/><circle cx="76.05" cy="219.65" r="0.01"/><circle cx="85.75" cy="219.65" r="0.01"/><circle cx="110.10" cy="228.05" r="0.01"/><circle cx="105.25" cy="219.65" r="0.01"/><circle cx="114.95" cy="219.65" r="0.01"/><circle cx="95.50" cy="253.40" r="0.01"/><circle cx="90.65" cy="245.00" r="0.01"/><circle cx="100.35" cy="245.00" r="0.01"/><circle cx="124.70" cy="253.40" r="0.01"/><circle cx="119.85" cy="245.00" r="0.01"/><circle cx="129.55" cy="245.00" r="0.01"/></g></g>
<mask id="mb0" maskUnits="userSpaceOnUse" x="0" y="150" width="641" height="130"><g filter="url(#fbm)"><rect x="40.0" y="160" width="110" height="115" fill="#000"/><g fill="#fff"><circle cx="51.70" cy="171.75" r="4.0"/><circle cx="56.55" cy="174.55" r="4.0"/><circle cx="56.55" cy="180.15" r="4.0"/><circle cx="51.70" cy="182.95" r="4.0"/><circle cx="46.85" cy="180.15" r="4.0"/><circle cx="46.85" cy="174.55" r="4.0"/><circle cx="46.85" cy="163.35" r="4.0"/><circle cx="51.70" cy="166.15" r="4.0"/><circle cx="42.00" cy="171.75" r="4.0"/><circle cx="42.00" cy="166.15" r="4.0"/><circle cx="56.55" cy="163.35" r="4.0"/><circle cx="61.40" cy="166.15" r="4.0"/><circle cx="61.40" cy="171.75" r="4.0"/><circle cx="51.70" cy="188.55" r="4.0"/><circle cx="37.15" cy="163.35" r="4.0"/><circle cx="66.25" cy="163.35" r="4.0"/><circle cx="80.90" cy="171.75" r="4.0"/><circle cx="85.75" cy="174.55" r="4.0"/><circle cx="85.75" cy="180.15" r="4.0"/><circle cx="80.90" cy="182.95" r="4.0"/><circle cx="76.05" cy="180.15" r="4.0"/><circle cx="76.05" cy="174.55" r="4.0"/><circle cx="76.05" cy="163.35" r="4.0"/><circle cx="80.90" cy="166.15" r="4.0"/><circle cx="71.20" cy="171.75" r="4.0"/><circle cx="71.20" cy="166.15" r="4.0"/><circle cx="85.75" cy="163.35" r="4.0"/><circle cx="90.60" cy="166.15" r="4.0"/><circle cx="90.60" cy="171.75" r="4.0"/><circle cx="80.90" cy="188.55" r="4.0"/><circle cx="66.35" cy="163.35" r="4.0"/><circle cx="95.45" cy="163.35" r="4.0"/><circle cx="66.30" cy="197.10" r="4.0"/><circle cx="71.15" cy="199.90" r="4.0"/><circle cx="71.15" cy="205.50" r="4.0"/><circle cx="66.30" cy="208.30" r="4.0"/><circle cx="61.45" cy="205.50" r="4.0"/><circle cx="61.45" cy="199.90" r="4.0"/><circle cx="61.45" cy="188.70" r="4.0"/><circle cx="66.30" cy="191.50" r="4.0"/><circle cx="56.60" cy="197.10" r="4.0"/><circle cx="56.60" cy="191.50" r="4.0"/><circle cx="71.15" cy="188.70" r="4.0"/><circle cx="76.00" cy="191.50" r="4.0"/><circle cx="76.00" cy="197.10" r="4.0"/><circle cx="66.30" cy="213.90" r="4.0"/><circle cx="51.75" cy="188.70" r="4.0"/><circle cx="80.85" cy="188.70" r="4.0"/><circle cx="95.50" cy="197.10" r="4.0"/><circle cx="100.35" cy="199.90" r="4.0"/><circle cx="100.35" cy="205.50" r="4.0"/><circle cx="95.50" cy="208.30" r="4.0"/><circle cx="90.65" cy="205.50" r="4.0"/><circle cx="90.65" cy="199.90" r="4.0"/><circle cx="90.65" cy="188.70" r="4.0"/><circle cx="95.50" cy="191.50" r="4.0"/><circle cx="85.80" cy="197.10" r="4.0"/><circle cx="85.80" cy="191.50" r="4.0"/><circle cx="100.35" cy="188.70" r="4.0"/><circle cx="105.20" cy="191.50" r="4.0"/><circle cx="105.20" cy="197.10" r="4.0"/><circle cx="95.50" cy="213.90" r="4.0"/><circle cx="80.95" cy="188.70" r="4.0"/><circle cx="110.05" cy="188.70" r="4.0"/><circle cx="80.90" cy="222.45" r="4.0"/><circle cx="85.75" cy="225.25" r="4.0"/><circle cx="85.75" cy="230.85" r="4.0"/><circle cx="80.90" cy="233.65" r="4.0"/><circle cx="76.05" cy="230.85" r="4.0"/><circle cx="76.05" cy="225.25" r="4.0"/><circle cx="76.05" cy="214.05" r="4.0"/><circle cx="80.90" cy="216.85" r="4.0"/><circle cx="71.20" cy="222.45" r="4.0"/><circle cx="71.20" cy="216.85" r="4.0"/><circle cx="85.75" cy="214.05" r="4.0"/><circle cx="90.60" cy="216.85" r="4.0"/><circle cx="90.60" cy="222.45" r="4.0"/><circle cx="80.90" cy="239.25" r="4.0"/><circle cx="66.35" cy="214.05" r="4.0"/><circle cx="95.45" cy="214.05" r="4.0"/><circle cx="110.10" cy="222.45" r="4.0"/><circle cx="114.95" cy="225.25" r="4.0"/><circle cx="114.95" cy="230.85" r="4.0"/><circle cx="110.10" cy="233.65" r="4.0"/><circle cx="105.25" cy="230.85" r="4.0"/><circle cx="105.25" cy="225.25" r="4.0"/><circle cx="105.25" cy="214.05" r="4.0"/><circle cx="110.10" cy="216.85" r="4.0"/><circle cx="100.40" cy="222.45" r="4.0"/><circle cx="100.40" cy="216.85" r="4.0"/><circle cx="114.95" cy="214.05" r="4.0"/><circle cx="119.80" cy="216.85" r="4.0"/><circle cx="119.80" cy="222.45" r="4.0"/><circle cx="110.10" cy="239.25" r="4.0"/><circle cx="95.55" cy="214.05" r="4.0"/><circle cx="124.65" cy="214.05" r="4.0"/><circle cx="95.50" cy="247.80" r="4.0"/><circle cx="100.35" cy="250.60" r="4.0"/><circle cx="100.35" cy="256.20" r="4.0"/><circle cx="95.50" cy="259.00" r="4.0"/><circle cx="90.65" cy="256.20" r="4.0"/><circle cx="90.65" cy="250.60" r="4.0"/><circle cx="90.65" cy="239.40" r="4.0"/><circle cx="95.50" cy="242.20" r="4.0"/><circle cx="85.80" cy="247.80" r="4.0"/><circle cx="85.80" cy="242.20" r="4.0"/><circle cx="100.35" cy="239.40" r="4.0"/><circle cx="105.20" cy="242.20" r="4.0"/><circle cx="105.20" cy="247.80" r="4.0"/><circle cx="95.50" cy="264.60" r="4.0"/><circle cx="80.95" cy="239.40" r="4.0"/><circle cx="110.05" cy="239.40" r="4.0"/><circle cx="124.70" cy="247.80" r="4.0"/><circle cx="129.55" cy="250.60" r="4.0"/><circle cx="129.55" cy="256.20" r="4.0"/><circle cx="124.70" cy="259.00" r="4.0"/><circle cx="119.85" cy="256.20" r="4.0"/><circle cx="119.85" cy="250.60" r="4.0"/><circle cx="119.85" cy="239.40" r="4.0"/><circle cx="124.70" cy="242.20" r="4.0"/><circle cx="115.00" cy="247.80" r="4.0"/><circle cx="115.00" cy="242.20" r="4.0"/><circle cx="129.55" cy="239.40" r="4.0"/><circle cx="134.40" cy="242.20" r="4.0"/><circle cx="134.40" cy="247.80" r="4.0"/><circle cx="124.70" cy="264.60" r="4.0"/><circle cx="110.15" cy="239.40" r="4.0"/><circle cx="139.25" cy="239.40" r="4.0"/></g><g fill="#000"><circle cx="51.70" cy="177.35" r="0.01"/><circle cx="46.85" cy="168.95" r="0.01"/><circle cx="56.55" cy="168.95" r="0.01"/><circle cx="80.90" cy="177.35" r="0.01"/><circle cx="76.05" cy="168.95" r="0.01"/><circle cx="85.75" cy="168.95" r="0.01"/><circle cx="66.30" cy="202.70" r="0.01"/><circle cx="61.45" cy="194.30" r="0.01"/><circle cx="71.15" cy="194.30" r="0.01"/><circle cx="95.50" cy="202.70" r="0.01"/><circle cx="90.65" cy="194.30" r="0.01"/><circle cx="100.35" cy="194.30" r="0.01"/><circle cx="80.90" cy="228.05" r="0.01"/><circle cx="76.05" cy="219.65" r="0.01"/><circle cx="85.75" cy="219.65" r="0.01"/><circle cx="110.10" cy="228.05" r="0.01"/><circle cx="105.25" cy="219.65" r="0.01"/><circle cx="114.95" cy="219.65" r="0.01"/><circle cx="95.50" cy="253.40" r="0.01"/><circle cx="90.65" cy="245.00" r="0.01"/><circle cx="100.35" cy="245.00" r="0.01"/><circle cx="124.70" cy="253.40" r="0.01"/><circle cx="119.85" cy="245.00" r="0.01"/><circle cx="129.55" cy="245.00" r="0.01"/></g></g></mask>
<g mask="url(#mb0)"><g filter="url(#fsoft)"><circle cx="63.40" cy="171.75" r="5.0" fill="#cc7c22"/><circle cx="57.55" cy="181.88" r="5.0" fill="#cc7c22"/><circle cx="45.85" cy="181.88" r="5.0" fill="#cc7c22"/><circle cx="40.00" cy="171.75" r="5.0" fill="#cc7c22"/><circle cx="45.85" cy="161.62" r="5.0" fill="#cc7c22"/><circle cx="57.55" cy="161.62" r="5.0" fill="#cc7c22"/><circle cx="60.40" cy="171.75" r="3.9" fill="#e4ee44"/><circle cx="56.05" cy="179.28" r="3.9" fill="#e4ee44"/><circle cx="47.35" cy="179.28" r="3.9" fill="#e4ee44"/><circle cx="43.00" cy="171.75" r="3.9" fill="#e4ee44"/><circle cx="47.35" cy="164.22" r="3.9" fill="#e4ee44"/><circle cx="56.05" cy="164.22" r="3.9" fill="#e4ee44"/><circle cx="92.60" cy="171.75" r="5.0" fill="#cc7c22"/><circle cx="86.75" cy="181.88" r="5.0" fill="#cc7c22"/><circle cx="75.05" cy="181.88" r="5.0" fill="#cc7c22"/><circle cx="69.20" cy="171.75" r="5.0" fill="#cc7c22"/><circle cx="75.05" cy="161.62" r="5.0" fill="#cc7c22"/><circle cx="86.75" cy="161.62" r="5.0" fill="#cc7c22"/><circle cx="89.60" cy="171.75" r="3.9" fill="#e4ee44"/><circle cx="85.25" cy="179.28" r="3.9" fill="#e4ee44"/><circle cx="76.55" cy="179.28" r="3.9" fill="#e4ee44"/><circle cx="72.20" cy="171.75" r="3.9" fill="#e4ee44"/><circle cx="76.55" cy="164.22" r="3.9" fill="#e4ee44"/><circle cx="85.25" cy="164.22" r="3.9" fill="#e4ee44"/><circle cx="78.00" cy="197.10" r="5.0" fill="#cc7c22"/><circle cx="72.15" cy="207.23" r="5.0" fill="#cc7c22"/><circle cx="60.45" cy="207.23" r="5.0" fill="#cc7c22"/><circle cx="54.60" cy="197.10" r="5.0" fill="#cc7c22"/><circle cx="60.45" cy="186.97" r="5.0" fill="#cc7c22"/><circle cx="72.15" cy="186.97" r="5.0" fill="#cc7c22"/><circle cx="75.00" cy="197.10" r="3.9" fill="#e4ee44"/><circle cx="70.65" cy="204.63" r="3.9" fill="#e4ee44"/><circle cx="61.95" cy="204.63" r="3.9" fill="#e4ee44"/><circle cx="57.60" cy="197.10" r="3.9" fill="#e4ee44"/><circle cx="61.95" cy="189.57" r="3.9" fill="#e4ee44"/><circle cx="70.65" cy="189.57" r="3.9" fill="#e4ee44"/><circle cx="107.20" cy="197.10" r="5.0" fill="#cc7c22"/><circle cx="101.35" cy="207.23" r="5.0" fill="#cc7c22"/><circle cx="89.65" cy="207.23" r="5.0" fill="#cc7c22"/><circle cx="83.80" cy="197.10" r="5.0" fill="#cc7c22"/><circle cx="89.65" cy="186.97" r="5.0" fill="#cc7c22"/><circle cx="101.35" cy="186.97" r="5.0" fill="#cc7c22"/><circle cx="104.20" cy="197.10" r="3.9" fill="#e4ee44"/><circle cx="99.85" cy="204.63" r="3.9" fill="#e4ee44"/><circle cx="91.15" cy="204.63" r="3.9" fill="#e4ee44"/><circle cx="86.80" cy="197.10" r="3.9" fill="#e4ee44"/><circle cx="91.15" cy="189.57" r="3.9" fill="#e4ee44"/><circle cx="99.85" cy="189.57" r="3.9" fill="#e4ee44"/><circle cx="92.60" cy="222.45" r="5.0" fill="#cc7c22"/><circle cx="86.75" cy="232.58" r="5.0" fill="#cc7c22"/><circle cx="75.05" cy="232.58" r="5.0" fill="#cc7c22"/><circle cx="69.20" cy="222.45" r="5.0" fill="#cc7c22"/><circle cx="75.05" cy="212.32" r="5.0" fill="#cc7c22"/><circle cx="86.75" cy="212.32" r="5.0" fill="#cc7c22"/><circle cx="89.60" cy="222.45" r="3.9" fill="#e4ee44"/><circle cx="85.25" cy="229.98" r="3.9" fill="#e4ee44"/><circle cx="76.55" cy="229.98" r="3.9" fill="#e4ee44"/><circle cx="72.20" cy="222.45" r="3.9" fill="#e4ee44"/><circle cx="76.55" cy="214.92" r="3.9" fill="#e4ee44"/><circle cx="85.25" cy="214.92" r="3.9" fill="#e4ee44"/><circle cx="121.80" cy="222.45" r="5.0" fill="#cc7c22"/><circle cx="115.95" cy="232.58" r="5.0" fill="#cc7c22"/><circle cx="104.25" cy="232.58" r="5.0" fill="#cc7c22"/><circle cx="98.40" cy="222.45" r="5.0" fill="#cc7c22"/><circle cx="104.25" cy="212.32" r="5.0" fill="#cc7c22"/><circle cx="115.95" cy="212.32" r="5.0" fill="#cc7c22"/><circle cx="118.80" cy="222.45" r="3.9" fill="#e4ee44"/><circle cx="114.45" cy="229.98" r="3.9" fill="#e4ee44"/><circle cx="105.75" cy="229.98" r="3.9" fill="#e4ee44"/><circle cx="101.40" cy="222.45" r="3.9" fill="#e4ee44"/><circle cx="105.75" cy="214.92" r="3.9" fill="#e4ee44"/><circle cx="114.45" cy="214.92" r="3.9" fill="#e4ee44"/><circle cx="107.20" cy="247.80" r="5.0" fill="#cc7c22"/><circle cx="101.35" cy="257.93" r="5.0" fill="#cc7c22"/><circle cx="89.65" cy="257.93" r="5.0" fill="#cc7c22"/><circle cx="83.80" cy="247.80" r="5.0" fill="#cc7c22"/><circle cx="89.65" cy="237.67" r="5.0" fill="#cc7c22"/><circle cx="101.35" cy="237.67" r="5.0" fill="#cc7c22"/><circle cx="104.20" cy="247.80" r="3.9" fill="#e4ee44"/><circle cx="99.85" cy="255.33" r="3.9" fill="#e4ee44"/><circle cx="91.15" cy="255.33" r="3.9" fill="#e4ee44"/><circle cx="86.80" cy="247.80" r="3.9" fill="#e4ee44"/><circle cx="91.15" cy="240.27" r="3.9" fill="#e4ee44"/><circle cx="99.85" cy="240.27" r="3.9" fill="#e4ee44"/><circle cx="136.40" cy="247.80" r="5.0" fill="#cc7c22"/><circle cx="130.55" cy="257.93" r="5.0" fill="#cc7c22"/><circle cx="118.85" cy="257.93" r="5.0" fill="#cc7c22"/><circle cx="113.00" cy="247.80" r="5.0" fill="#cc7c22"/><circle cx="118.85" cy="237.67" r="5.0" fill="#cc7c22"/><circle cx="130.55" cy="237.67" r="5.0" fill="#cc7c22"/><circle cx="133.40" cy="247.80" r="3.9" fill="#e4ee44"/><circle cx="129.05" cy="255.33" r="3.9" fill="#e4ee44"/><circle cx="120.35" cy="255.33" r="3.9" fill="#e4ee44"/><circle cx="116.00" cy="247.80" r="3.9" fill="#e4ee44"/><circle cx="120.35" cy="240.27" r="3.9" fill="#e4ee44"/><circle cx="129.05" cy="240.27" r="3.9" fill="#e4ee44"/><circle cx="51.70" cy="177.35" r="2.6" fill="#98e43c"/><circle cx="46.85" cy="168.95" r="2.6" fill="#98e43c"/><circle cx="56.55" cy="168.95" r="2.6" fill="#98e43c"/><circle cx="51.70" cy="171.75" r="1.8" fill="#a0e63c"/><circle cx="80.90" cy="177.35" r="2.6" fill="#98e43c"/><circle cx="76.05" cy="168.95" r="2.6" fill="#98e43c"/><circle cx="85.75" cy="168.95" r="2.6" fill="#98e43c"/><circle cx="80.90" cy="171.75" r="1.8" fill="#a0e63c"/><circle cx="66.30" cy="202.70" r="2.6" fill="#98e43c"/><circle cx="61.45" cy="194.30" r="2.6" fill="#98e43c"/><circle cx="71.15" cy="194.30" r="2.6" fill="#98e43c"/><circle cx="66.30" cy="197.10" r="1.8" fill="#a0e63c"/><circle cx="95.50" cy="202.70" r="2.6" fill="#98e43c"/><circle cx="90.65" cy="194.30" r="2.6" fill="#98e43c"/><circle cx="100.35" cy="194.30" r="2.6" fill="#98e43c"/><circle cx="95.50" cy="197.10" r="1.8" fill="#a0e63c"/><circle cx="80.90" cy="228.05" r="2.6" fill="#98e43c"/><circle cx="76.05" cy="219.65" r="2.6" fill="#98e43c"/><circle cx="85.75" cy="219.65" r="2.6" fill="#98e43c"/><circle cx="80.90" cy="222.45" r="1.8" fill="#a0e63c"/><circle cx="110.10" cy="228.05" r="2.6" fill="#98e43c"/><circle cx="105.25" cy="219.65" r="2.6" fill="#98e43c"/><circle cx="114.95" cy="219.65" r="2.6" fill="#98e43c"/><circle cx="110.10" cy="222.45" r="1.8" fill="#a0e63c"/><circle cx="95.50" cy="253.40" r="2.6" fill="#98e43c"/><circle cx="90.65" cy="245.00" r="2.6" fill="#98e43c"/><circle cx="100.35" cy="245.00" r="2.6" fill="#98e43c"/><circle cx="95.50" cy="247.80" r="1.8" fill="#a0e63c"/><circle cx="124.70" cy="253.40" r="2.6" fill="#98e43c"/><circle cx="119.85" cy="245.00" r="2.6" fill="#98e43c"/><circle cx="129.55" cy="245.00" r="2.6" fill="#98e43c"/><circle cx="124.70" cy="247.80" r="1.8" fill="#a0e63c"/></g></g>
<circle cx="51.70" cy="177.35" r="0.95" fill="#fff"/>
<circle cx="46.85" cy="168.95" r="0.95" fill="#fff"/>
<circle cx="56.55" cy="168.95" r="0.95" fill="#fff"/>
<circle cx="80.90" cy="177.35" r="0.95" fill="#fff"/>
<circle cx="76.05" cy="168.95" r="0.95" fill="#fff"/>
<circle cx="85.75" cy="168.95" r="0.95" fill="#fff"/>
<circle cx="66.30" cy="202.70" r="0.95" fill="#fff"/>
<circle cx="61.45" cy="194.30" r="0.95" fill="#fff"/>
<circle cx="71.15" cy="194.30" r="0.95" fill="#fff"/>
<circle cx="95.50" cy="202.70" r="0.95" fill="#fff"/>
<circle cx="90.65" cy="194.30" r="0.95" fill="#fff"/>
<circle cx="100.35" cy="194.30" r="0.95" fill="#fff"/>
<circle cx="80.90" cy="228.05" r="0.95" fill="#fff"/>
<circle cx="76.05" cy="219.65" r="0.95" fill="#fff"/>
<circle cx="85.75" cy="219.65" r="0.95" fill="#fff"/>
<circle cx="110.10" cy="228.05" r="0.95" fill="#fff"/>
<circle cx="105.25" cy="219.65" r="0.95" fill="#fff"/>
<circle cx="114.95" cy="219.65" r="0.95" fill="#fff"/>
<circle cx="95.50" cy="253.40" r="0.95" fill="#fff"/>
<circle cx="90.65" cy="245.00" r="0.95" fill="#fff"/>
<circle cx="100.35" cy="245.00" r="0.95" fill="#fff"/>
<circle cx="124.70" cy="253.40" r="0.95" fill="#fff"/>
<circle cx="119.85" cy="245.00" r="0.95" fill="#fff"/>
<circle cx="129.55" cy="245.00" r="0.95" fill="#fff"/>
</g>
<g clip-path="url(#cb1)"><g filter="url(#fb)"><rect x="115.9" y="160" width="110" height="115" fill="#000"/><g fill="#fff"><circle cx="127.60" cy="171.75" r="4.0"/><circle cx="132.45" cy="174.55" r="4.0"/><circle cx="132.45" cy="180.15" r="4.0"/><circle cx="127.60" cy="182.95" r="4.0"/><circle cx="122.75" cy="180.15" r="4.0"/><circle cx="122.75" cy="174.55" r="4.0"/><circle cx="122.75" cy="163.35" r="4.0"/><circle cx="127.60" cy="166.15" r="4.0"/><circle cx="117.90" cy="171.75" r="4.0"/><circle cx="117.90" cy="166.15" r="4.0"/><circle cx="132.45" cy="163.35" r="4.0"/><circle cx="137.30" cy="166.15" r="4.0"/><circle cx="137.30" cy="171.75" r="4.0"/><circle cx="127.60" cy="188.55" r="4.0"/><circle cx="113.05" cy="163.35" r="4.0"/><circle cx="142.15" cy="163.35" r="4.0"/><circle cx="156.80" cy="171.75" r="4.0"/><circle cx="161.65" cy="174.55" r="4.0"/><circle cx="161.65" cy="180.15" r="4.0"/><circle cx="156.80" cy="182.95" r="4.0"/><circle cx="151.95" cy="180.15" r="4.0"/><circle cx="151.95" cy="174.55" r="4.0"/><circle cx="151.95" cy="163.35" r="4.0"/><circle cx="156.80" cy="166.15" r="4.0"/><circle cx="147.10" cy="171.75" r="4.0"/><circle cx="147.10" cy="166.15" r="4.0"/><circle cx="161.65" cy="163.35" r="4.0"/><circle cx="166.50" cy="166.15" r="4.0"/><circle cx="166.50" cy="171.75" r="4.0"/><circle cx="156.80" cy="188.55" r="4.0"/><circle cx="142.25" cy="163.35" r="4.0"/><circle cx="171.35" cy="163.35" r="4.0"/><circle cx="142.20" cy="197.10" r="4.0"/><circle cx="147.05" cy="199.90" r="4.0"/><circle cx="147.05" cy="205.50" r="4.0"/><circle cx="142.20" cy="208.30" r="4.0"/><circle cx="137.35" cy="205.50" r="4.0"/><circle cx="137.35" cy="199.90" r="4.0"/><circle cx="137.35" cy="188.70" r="4.0"/><circle cx="142.20" cy="191.50" r="4.0"/><circle cx="132.50" cy="197.10" r="4.0"/><circle cx="132.50" cy="191.50" r="4.0"/><circle cx="147.05" cy="188.70" r="4.0"/><circle cx="151.90" cy="191.50" r="4.0"/><circle cx="151.90" cy="197.10" r="4.0"/><circle cx="142.20" cy="213.90" r="4.0"/><circle cx="127.65" cy="188.70" r="4.0"/><circle cx="156.75" cy="188.70" r="4.0"/><circle cx="171.40" cy="197.10" r="4.0"/><circle cx="176.25" cy="199.90" r="4.0"/><circle cx="176.25" cy="205.50" r="4.0"/><circle cx="171.40" cy="208.30" r="4.0"/><circle cx="166.55" cy="205.50" r="4.0"/><circle cx="166.55" cy="199.90" r="4.0"/><circle cx="166.55" cy="188.70" r="4.0"/><circle cx="171.40" cy="191.50" r="4.0"/><circle cx="161.70" cy="197.10" r="4.0"/><circle cx="161.70" cy="191.50" r="4.0"/><circle cx="176.25" cy="188.70" r="4.0"/><circle cx="181.10" cy="191.50" r="4.0"/><circle cx="181.10" cy="197.10" r="4.0"/><circle cx="171.40" cy="213.90" r="4.0"/><circle cx="156.85" cy="188.70" r="4.0"/><circle cx="185.95" cy="188.70" r="4.0"/><circle cx="156.80" cy="222.45" r="4.0"/><circle cx="161.65" cy="225.25" r="4.0"/><circle cx="161.65" cy="230.85" r="4.0"/><circle cx="156.80" cy="233.65" r="4.0"/><circle cx="151.95" cy="230.85" r="4.0"/><circle cx="151.95" cy="225.25" r="4.0"/><circle cx="151.95" cy="214.05" r="4.0"/><circle cx="156.80" cy="216.85" r="4.0"/><circle cx="147.10" cy="222.45" r="4.0"/><circle cx="147.10" cy="216.85" r="4.0"/><circle cx="161.65" cy="214.05" r="4.0"/><circle cx="166.50" cy="216.85" r="4.0"/><circle cx="166.50" cy="222.45" r="4.0"/><circle cx="156.80" cy="239.25" r="4.0"/><circle cx="142.25" cy="214.05" r="4.0"/><circle cx="171.35" cy="214.05" r="4.0"/><circle cx="186.00" cy="222.45" r="4.0"/><circle cx="190.85" cy="225.25" r="4.0"/><circle cx="190.85" cy="230.85" r="4.0"/><circle cx="186.00" cy="233.65" r="4.0"/><circle cx="181.15" cy="230.85" r="4.0"/><circle cx="181.15" cy="225.25" r="4.0"/><circle cx="181.15" cy="214.05" r="4.0"/><circle cx="186.00" cy="216.85" r="4.0"/><circle cx="176.30" cy="222.45" r="4.0"/><circle cx="176.30" cy="216.85" r="4.0"/><circle cx="190.85" cy="214.05" r="4.0"/><circle cx="195.70" cy="216.85" r="4.0"/><circle cx="195.70" cy="222.45" r="4.0"/><circle cx="186.00" cy="239.25" r="4.0"/><circle cx="171.45" cy="214.05" r="4.0"/><circle cx="200.55" cy="214.05" r="4.0"/><circle cx="171.40" cy="247.80" r="4.0"/><circle cx="176.25" cy="250.60" r="4.0"/><circle cx="176.25" cy="256.20" r="4.0"/><circle cx="171.40" cy="259.00" r="4.0"/><circle cx="166.55" cy="256.20" r="4.0"/><circle cx="166.55" cy="250.60" r="4.0"/><circle cx="166.55" cy="239.40" r="4.0"/><circle cx="171.40" cy="242.20" r="4.0"/><circle cx="161.70" cy="247.80" r="4.0"/><circle cx="161.70" cy="242.20" r="4.0"/><circle cx="176.25" cy="239.40" r="4.0"/><circle cx="181.10" cy="242.20" r="4.0"/><circle cx="181.10" cy="247.80" r="4.0"/><circle cx="171.40" cy="264.60" r="4.0"/><circle cx="156.85" cy="239.40" r="4.0"/><circle cx="185.95" cy="239.40" r="4.0"/><circle cx="200.60" cy="247.80" r="4.0"/><circle cx="205.45" cy="250.60" r="4.0"/><circle cx="205.45" cy="256.20" r="4.0"/><circle cx="200.60" cy="259.00" r="4.0"/><circle cx="195.75" cy="256.20" r="4.0"/><circle cx="195.75" cy="250.60" r="4.0"/><circle cx="195.75" cy="239.40" r="4.0"/><circle cx="200.60" cy="242.20" r="4.0"/><circle cx="190.90" cy="247.80" r="4.0"/><circle cx="190.90" cy="242.20" r="4.0"/><circle cx="205.45" cy="239.40" r="4.0"/><circle cx="210.30" cy="242.20" r="4.0"/><circle cx="210.30" cy="247.80" r="4.0"/><circle cx="200.60" cy="264.60" r="4.0"/><circle cx="186.05" cy="239.40" r="4.0"/><circle cx="215.15" cy="239.40" r="4.0"/></g><g fill="#000"><circle cx="127.60" cy="177.35" r="0.01"/><circle cx="122.75" cy="168.95" r="0.01"/><circle cx="132.45" cy="168.95" r="0.01"/><circle cx="156.80" cy="177.35" r="0.01"/><circle cx="151.95" cy="168.95" r="0.01"/><circle cx="161.65" cy="168.95" r="0.01"/><circle cx="142.20" cy="202.70" r="0.01"/><circle cx="137.35" cy="194.30" r="0.01"/><circle cx="147.05" cy="194.30" r="0.01"/><circle cx="171.40" cy="202.70" r="0.01"/><circle cx="166.55" cy="194.30" r="0.01"/><circle cx="176.25" cy="194.30" r="0.01"/><circle cx="156.80" cy="228.05" r="0.01"/><circle cx="151.95" cy="219.65" r="0.01"/><circle cx="161.65" cy="219.65" r="0.01"/><circle cx="186.00" cy="228.05" r="0.01"/><circle cx="181.15" cy="219.65" r="0.01"/><circle cx="190.85" cy="219.65" r="0.01"/><circle cx="171.40" cy="253.40" r="0.01"/><circle cx="166.55" cy="245.00" r="0.01"/><circle cx="176.25" cy="245.00" r="0.01"/><circle cx="200.60" cy="253.40" r="0.01"/><circle cx="195.75" cy="245.00" r="0.01"/><circle cx="205.45" cy="245.00" r="0.01"/></g></g>
<mask id="mb1" maskUnits="userSpaceOnUse" x="0" y="150" width="641" height="130"><g filter="url(#fbm)"><rect x="115.9" y="160" width="110" height="115" fill="#000"/><g fill="#fff"><circle cx="127.60" cy="171.75" r="4.0"/><circle cx="132.45" cy="174.55" r="4.0"/><circle cx="132.45" cy="180.15" r="4.0"/><circle cx="127.60" cy="182.95" r="4.0"/><circle cx="122.75" cy="180.15" r="4.0"/><circle cx="122.75" cy="174.55" r="4.0"/><circle cx="122.75" cy="163.35" r="4.0"/><circle cx="127.60" cy="166.15" r="4.0"/><circle cx="117.90" cy="171.75" r="4.0"/><circle cx="117.90" cy="166.15" r="4.0"/><circle cx="132.45" cy="163.35" r="4.0"/><circle cx="137.30" cy="166.15" r="4.0"/><circle cx="137.30" cy="171.75" r="4.0"/><circle cx="127.60" cy="188.55" r="4.0"/><circle cx="113.05" cy="163.35" r="4.0"/><circle cx="142.15" cy="163.35" r="4.0"/><circle cx="156.80" cy="171.75" r="4.0"/><circle cx="161.65" cy="174.55" r="4.0"/><circle cx="161.65" cy="180.15" r="4.0"/><circle cx="156.80" cy="182.95" r="4.0"/><circle cx="151.95" cy="180.15" r="4.0"/><circle cx="151.95" cy="174.55" r="4.0"/><circle cx="151.95" cy="163.35" r="4.0"/><circle cx="156.80" cy="166.15" r="4.0"/><circle cx="147.10" cy="171.75" r="4.0"/><circle cx="147.10" cy="166.15" r="4.0"/><circle cx="161.65" cy="163.35" r="4.0"/><circle cx="166.50" cy="166.15" r="4.0"/><circle cx="166.50" cy="171.75" r="4.0"/><circle cx="156.80" cy="188.55" r="4.0"/><circle cx="142.25" cy="163.35" r="4.0"/><circle cx="171.35" cy="163.35" r="4.0"/><circle cx="142.20" cy="197.10" r="4.0"/><circle cx="147.05" cy="199.90" r="4.0"/><circle cx="147.05" cy="205.50" r="4.0"/><circle cx="142.20" cy="208.30" r="4.0"/><circle cx="137.35" cy="205.50" r="4.0"/><circle cx="137.35" cy="199.90" r="4.0"/><circle cx="137.35" cy="188.70" r="4.0"/><circle cx="142.20" cy="191.50" r="4.0"/><circle cx="132.50" cy="197.10" r="4.0"/><circle cx="132.50" cy="191.50" r="4.0"/><circle cx="147.05" cy="188.70" r="4.0"/><circle cx="151.90" cy="191.50" r="4.0"/><circle cx="151.90" cy="197.10" r="4.0"/><circle cx="142.20" cy="213.90" r="4.0"/><circle cx="127.65" cy="188.70" r="4.0"/><circle cx="156.75" cy="188.70" r="4.0"/><circle cx="171.40" cy="197.10" r="4.0"/><circle cx="176.25" cy="199.90" r="4.0"/><circle cx="176.25" cy="205.50" r="4.0"/><circle cx="171.40" cy="208.30" r="4.0"/><circle cx="166.55" cy="205.50" r="4.0"/><circle cx="166.55" cy="199.90" r="4.0"/><circle cx="166.55" cy="188.70" r="4.0"/><circle cx="171.40" cy="191.50" r="4.0"/><circle cx="161.70" cy="197.10" r="4.0"/><circle cx="161.70" cy="191.50" r="4.0"/><circle cx="176.25" cy="188.70" r="4.0"/><circle cx="181.10" cy="191.50" r="4.0"/><circle cx="181.10" cy="197.10" r="4.0"/><circle cx="171.40" cy="213.90" r="4.0"/><circle cx="156.85" cy="188.70" r="4.0"/><circle cx="185.95" cy="188.70" r="4.0"/><circle cx="156.80" cy="222.45" r="4.0"/><circle cx="161.65" cy="225.25" r="4.0"/><circle cx="161.65" cy="230.85" r="4.0"/><circle cx="156.80" cy="233.65" r="4.0"/><circle cx="151.95" cy="230.85" r="4.0"/><circle cx="151.95" cy="225.25" r="4.0"/><circle cx="151.95" cy="214.05" r="4.0"/><circle cx="156.80" cy="216.85" r="4.0"/><circle cx="147.10" cy="222.45" r="4.0"/><circle cx="147.10" cy="216.85" r="4.0"/><circle cx="161.65" cy="214.05" r="4.0"/><circle cx="166.50" cy="216.85" r="4.0"/><circle cx="166.50" cy="222.45" r="4.0"/><circle cx="156.80" cy="239.25" r="4.0"/><circle cx="142.25" cy="214.05" r="4.0"/><circle cx="171.35" cy="214.05" r="4.0"/><circle cx="186.00" cy="222.45" r="4.0"/><circle cx="190.85" cy="225.25" r="4.0"/><circle cx="190.85" cy="230.85" r="4.0"/><circle cx="186.00" cy="233.65" r="4.0"/><circle cx="181.15" cy="230.85" r="4.0"/><circle cx="181.15" cy="225.25" r="4.0"/><circle cx="181.15" cy="214.05" r="4.0"/><circle cx="186.00" cy="216.85" r="4.0"/><circle cx="176.30" cy="222.45" r="4.0"/><circle cx="176.30" cy="216.85" r="4.0"/><circle cx="190.85" cy="214.05" r="4.0"/><circle cx="195.70" cy="216.85" r="4.0"/><circle cx="195.70" cy="222.45" r="4.0"/><circle cx="186.00" cy="239.25" r="4.0"/><circle cx="171.45" cy="214.05" r="4.0"/><circle cx="200.55" cy="214.05" r="4.0"/><circle cx="171.40" cy="247.80" r="4.0"/><circle cx="176.25" cy="250.60" r="4.0"/><circle cx="176.25" cy="256.20" r="4.0"/><circle cx="171.40" cy="259.00" r="4.0"/><circle cx="166.55" cy="256.20" r="4.0"/><circle cx="166.55" cy="250.60" r="4.0"/><circle cx="166.55" cy="239.40" r="4.0"/><circle cx="171.40" cy="242.20" r="4.0"/><circle cx="161.70" cy="247.80" r="4.0"/><circle cx="161.70" cy="242.20" r="4.0"/><circle cx="176.25" cy="239.40" r="4.0"/><circle cx="181.10" cy="242.20" r="4.0"/><circle cx="181.10" cy="247.80" r="4.0"/><circle cx="171.40" cy="264.60" r="4.0"/><circle cx="156.85" cy="239.40" r="4.0"/><circle cx="185.95" cy="239.40" r="4.0"/><circle cx="200.60" cy="247.80" r="4.0"/><circle cx="205.45" cy="250.60" r="4.0"/><circle cx="205.45" cy="256.20" r="4.0"/><circle cx="200.60" cy="259.00" r="4.0"/><circle cx="195.75" cy="256.20" r="4.0"/><circle cx="195.75" cy="250.60" r="4.0"/><circle cx="195.75" cy="239.40" r="4.0"/><circle cx="200.60" cy="242.20" r="4.0"/><circle cx="190.90" cy="247.80" r="4.0"/><circle cx="190.90" cy="242.20" r="4.0"/><circle cx="205.45" cy="239.40" r="4.0"/><circle cx="210.30" cy="242.20" r="4.0"/><circle cx="210.30" cy="247.80" r="4.0"/><circle cx="200.60" cy="264.60" r="4.0"/><circle cx="186.05" cy="239.40" r="4.0"/><circle cx="215.15" cy="239.40" r="4.0"/></g><g fill="#000"><circle cx="127.60" cy="177.35" r="0.01"/><circle cx="122.75" cy="168.95" r="0.01"/><circle cx="132.45" cy="168.95" r="0.01"/><circle cx="156.80" cy="177.35" r="0.01"/><circle cx="151.95" cy="168.95" r="0.01"/><circle cx="161.65" cy="168.95" r="0.01"/><circle cx="142.20" cy="202.70" r="0.01"/><circle cx="137.35" cy="194.30" r="0.01"/><circle cx="147.05" cy="194.30" r="0.01"/><circle cx="171.40" cy="202.70" r="0.01"/><circle cx="166.55" cy="194.30" r="0.01"/><circle cx="176.25" cy="194.30" r="0.01"/><circle cx="156.80" cy="228.05" r="0.01"/><circle cx="151.95" cy="219.65" r="0.01"/><circle cx="161.65" cy="219.65" r="0.01"/><circle cx="186.00" cy="228.05" r="0.01"/><circle cx="181.15" cy="219.65" r="0.01"/><circle cx="190.85" cy="219.65" r="0.01"/><circle cx="171.40" cy="253.40" r="0.01"/><circle cx="166.55" cy="245.00" r="0.01"/><circle cx="176.25" cy="245.00" r="0.01"/><circle cx="200.60" cy="253.40" r="0.01"/><circle cx="195.75" cy="245.00" r="0.01"/><circle cx="205.45" cy="245.00" r="0.01"/></g></g></mask>
<g mask="url(#mb1)"><g filter="url(#fsoft)"><circle cx="139.30" cy="171.75" r="5.0" fill="#cc7c22"/><circle cx="133.45" cy="181.88" r="5.0" fill="#cc7c22"/><circle cx="121.75" cy="181.88" r="5.0" fill="#cc7c22"/><circle cx="115.90" cy="171.75" r="5.0" fill="#cc7c22"/><circle cx="121.75" cy="161.62" r="5.0" fill="#cc7c22"/><circle cx="133.45" cy="161.62" r="5.0" fill="#cc7c22"/><circle cx="136.30" cy="171.75" r="3.9" fill="#e4ee44"/><circle cx="131.95" cy="179.28" r="3.9" fill="#e4ee44"/><circle cx="123.25" cy="179.28" r="3.9" fill="#e4ee44"/><circle cx="118.90" cy="171.75" r="3.9" fill="#e4ee44"/><circle cx="123.25" cy="164.22" r="3.9" fill="#e4ee44"/><circle cx="131.95" cy="164.22" r="3.9" fill="#e4ee44"/><circle cx="168.50" cy="171.75" r="5.0" fill="#cc7c22"/><circle cx="162.65" cy="181.88" r="5.0" fill="#cc7c22"/><circle cx="150.95" cy="181.88" r="5.0" fill="#cc7c22"/><circle cx="145.10" cy="171.75" r="5.0" fill="#cc7c22"/><circle cx="150.95" cy="161.62" r="5.0" fill="#cc7c22"/><circle cx="162.65" cy="161.62" r="5.0" fill="#cc7c22"/><circle cx="165.50" cy="171.75" r="3.9" fill="#e4ee44"/><circle cx="161.15" cy="179.28" r="3.9" fill="#e4ee44"/><circle cx="152.45" cy="179.28" r="3.9" fill="#e4ee44"/><circle cx="148.10" cy="171.75" r="3.9" fill="#e4ee44"/><circle cx="152.45" cy="164.22" r="3.9" fill="#e4ee44"/><circle cx="161.15" cy="164.22" r="3.9" fill="#e4ee44"/><circle cx="153.90" cy="197.10" r="5.0" fill="#cc7c22"/><circle cx="148.05" cy="207.23" r="5.0" fill="#cc7c22"/><circle cx="136.35" cy="207.23" r="5.0" fill="#cc7c22"/><circle cx="130.50" cy="197.10" r="5.0" fill="#cc7c22"/><circle cx="136.35" cy="186.97" r="5.0" fill="#cc7c22"/><circle cx="148.05" cy="186.97" r="5.0" fill="#cc7c22"/><circle cx="150.90" cy="197.10" r="3.9" fill="#e4ee44"/><circle cx="146.55" cy="204.63" r="3.9" fill="#e4ee44"/><circle cx="137.85" cy="204.63" r="3.9" fill="#e4ee44"/><circle cx="133.50" cy="197.10" r="3.9" fill="#e4ee44"/><circle cx="137.85" cy="189.57" r="3.9" fill="#e4ee44"/><circle cx="146.55" cy="189.57" r="3.9" fill="#e4ee44"/><circle cx="183.10" cy="197.10" r="5.0" fill="#cc7c22"/><circle cx="177.25" cy="207.23" r="5.0" fill="#cc7c22"/><circle cx="165.55" cy="207.23" r="5.0" fill="#cc7c22"/><circle cx="159.70" cy="197.10" r="5.0" fill="#cc7c22"/><circle cx="165.55" cy="186.97" r="5.0" fill="#cc7c22"/><circle cx="177.25" cy="186.97" r="5.0" fill="#cc7c22"/><circle cx="180.10" cy="197.10" r="3.9" fill="#e4ee44"/><circle cx="175.75" cy="204.63" r="3.9" fill="#e4ee44"/><circle cx="167.05" cy="204.63" r="3.9" fill="#e4ee44"/><circle cx="162.70" cy="197.10" r="3.9" fill="#e4ee44"/><circle cx="167.05" cy="189.57" r="3.9" fill="#e4ee44"/><circle cx="175.75" cy="189.57" r="3.9" fill="#e4ee44"/><circle cx="168.50" cy="222.45" r="5.0" fill="#cc7c22"/><circle cx="162.65" cy="232.58" r="5.0" fill="#cc7c22"/><circle cx="150.95" cy="232.58" r="5.0" fill="#cc7c22"/><circle cx="145.10" cy="222.45" r="5.0" fill="#cc7c22"/><circle cx="150.95" cy="212.32" r="5.0" fill="#cc7c22"/><circle cx="162.65" cy="212.32" r="5.0" fill="#cc7c22"/><circle cx="165.50" cy="222.45" r="3.9" fill="#e4ee44"/><circle cx="161.15" cy="229.98" r="3.9" fill="#e4ee44"/><circle cx="152.45" cy="229.98" r="3.9" fill="#e4ee44"/><circle cx="148.10" cy="222.45" r="3.9" fill="#e4ee44"/><circle cx="152.45" cy="214.92" r="3.9" fill="#e4ee44"/><circle cx="161.15" cy="214.92" r="3.9" fill="#e4ee44"/><circle cx="197.70" cy="222.45" r="5.0" fill="#cc7c22"/><circle cx="191.85" cy="232.58" r="5.0" fill="#cc7c22"/><circle cx="180.15" cy="232.58" r="5.0" fill="#cc7c22"/><circle cx="174.30" cy="222.45" r="5.0" fill="#cc7c22"/><circle cx="180.15" cy="212.32" r="5.0" fill="#cc7c22"/><circle cx="191.85" cy="212.32" r="5.0" fill="#cc7c22"/><circle cx="194.70" cy="222.45" r="3.9" fill="#e4ee44"/><circle cx="190.35" cy="229.98" r="3.9" fill="#e4ee44"/><circle cx="181.65" cy="229.98" r="3.9" fill="#e4ee44"/><circle cx="177.30" cy="222.45" r="3.9" fill="#e4ee44"/><circle cx="181.65" cy="214.92" r="3.9" fill="#e4ee44"/><circle cx="190.35" cy="214.92" r="3.9" fill="#e4ee44"/><circle cx="183.10" cy="247.80" r="5.0" fill="#cc7c22"/><circle cx="177.25" cy="257.93" r="5.0" fill="#cc7c22"/><circle cx="165.55" cy="257.93" r="5.0" fill="#cc7c22"/><circle cx="159.70" cy="247.80" r="5.0" fill="#cc7c22"/><circle cx="165.55" cy="237.67" r="5.0" fill="#cc7c22"/><circle cx="177.25" cy="237.67" r="5.0" fill="#cc7c22"/><circle cx="180.10" cy="247.80" r="3.9" fill="#e4ee44"/><circle cx="175.75" cy="255.33" r="3.9" fill="#e4ee44"/><circle cx="167.05" cy="255.33" r="3.9" fill="#e4ee44"/><circle cx="162.70" cy="247.80" r="3.9" fill="#e4ee44"/><circle cx="167.05" cy="240.27" r="3.9" fill="#e4ee44"/><circle cx="175.75" cy="240.27" r="3.9" fill="#e4ee44"/><circle cx="212.30" cy="247.80" r="5.0" fill="#cc7c22"/><circle cx="206.45" cy="257.93" r="5.0" fill="#cc7c22"/><circle cx="194.75" cy="257.93" r="5.0" fill="#cc7c22"/><circle cx="188.90" cy="247.80" r="5.0" fill="#cc7c22"/><circle cx="194.75" cy="237.67" r="5.0" fill="#cc7c22"/><circle cx="206.45" cy="237.67" r="5.0" fill="#cc7c22"/><circle cx="209.30" cy="247.80" r="3.9" fill="#e4ee44"/><circle cx="204.95" cy="255.33" r="3.9" fill="#e4ee44"/><circle cx="196.25" cy="255.33" r="3.9" fill="#e4ee44"/><circle cx="191.90" cy="247.80" r="3.9" fill="#e4ee44"/><circle cx="196.25" cy="240.27" r="3.9" fill="#e4ee44"/><circle cx="204.95" cy="240.27" r="3.9" fill="#e4ee44"/><circle cx="127.60" cy="177.35" r="2.6" fill="#98e43c"/><circle cx="122.75" cy="168.95" r="2.6" fill="#98e43c"/><circle cx="132.45" cy="168.95" r="2.6" fill="#98e43c"/><circle cx="127.60" cy="171.75" r="1.8" fill="#a0e63c"/><circle cx="156.80" cy="177.35" r="2.6" fill="#98e43c"/><circle cx="151.95" cy="168.95" r="2.6" fill="#98e43c"/><circle cx="161.65" cy="168.95" r="2.6" fill="#98e43c"/><circle cx="156.80" cy="171.75" r="1.8" fill="#a0e63c"/><circle cx="142.20" cy="202.70" r="2.6" fill="#98e43c"/><circle cx="137.35" cy="194.30" r="2.6" fill="#98e43c"/><circle cx="147.05" cy="194.30" r="2.6" fill="#98e43c"/><circle cx="142.20" cy="197.10" r="1.8" fill="#a0e63c"/><circle cx="171.40" cy="202.70" r="2.6" fill="#98e43c"/><circle cx="166.55" cy="194.30" r="2.6" fill="#98e43c"/><circle cx="176.25" cy="194.30" r="2.6" fill="#98e43c"/><circle cx="171.40" cy="197.10" r="1.8" fill="#a0e63c"/><circle cx="156.80" cy="228.05" r="2.6" fill="#98e43c"/><circle cx="151.95" cy="219.65" r="2.6" fill="#98e43c"/><circle cx="161.65" cy="219.65" r="2.6" fill="#98e43c"/><circle cx="156.80" cy="222.45" r="1.8" fill="#a0e63c"/><circle cx="186.00" cy="228.05" r="2.6" fill="#98e43c"/><circle cx="181.15" cy="219.65" r="2.6" fill="#98e43c"/><circle cx="190.85" cy="219.65" r="2.6" fill="#98e43c"/><circle cx="186.00" cy="222.45" r="1.8" fill="#a0e63c"/><circle cx="171.40" cy="253.40" r="2.6" fill="#98e43c"/><circle cx="166.55" cy="245.00" r="2.6" fill="#98e43c"/><circle cx="176.25" cy="245.00" r="2.6" fill="#98e43c"/><circle cx="171.40" cy="247.80" r="1.8" fill="#a0e63c"/><circle cx="200.60" cy="253.40" r="2.6" fill="#98e43c"/><circle cx="195.75" cy="245.00" r="2.6" fill="#98e43c"/><circle cx="205.45" cy="245.00" r="2.6" fill="#98e43c"/><circle cx="200.60" cy="247.80" r="1.8" fill="#a0e63c"/></g></g>
<circle cx="127.60" cy="177.35" r="0.95" fill="#fff"/>
<circle cx="122.75" cy="168.95" r="0.95" fill="#fff"/>
<circle cx="132.45" cy="168.95" r="0.95" fill="#fff"/>
<circle cx="156.80" cy="177.35" r="0.95" fill="#fff"/>
<circle cx="151.95" cy="168.95" r="0.95" fill="#fff"/>
<circle cx="161.65" cy="168.95" r="0.95" fill="#fff"/>
<circle cx="142.20" cy="202.70" r="0.95" fill="#fff"/>
<circle cx="137.35" cy="194.30" r="0.95" fill="#fff"/>
<circle cx="147.05" cy="194.30" r="0.95" fill="#fff"/>
<circle cx="171.40" cy="202.70" r="0.95" fill="#fff"/>
<circle cx="166.55" cy="194.30" r="0.95" fill="#fff"/>
<circle cx="176.25" cy="194.30" r="0.95" fill="#fff"/>
<circle cx="156.80" cy="228.05" r="0.95" fill="#fff"/>
<circle cx="151.95" cy="219.65" r="0.95" fill="#fff"/>
<circle cx="161.65" cy="219.65" r="0.95" fill="#fff"/>
<circle cx="186.00" cy="228.05" r="0.95" fill="#fff"/>
<circle cx="181.15" cy="219.65" r="0.95" fill="#fff"/>
<circle cx="190.85" cy="219.65" r="0.95" fill="#fff"/>
<circle cx="171.40" cy="253.40" r="0.95" fill="#fff"/>
<circle cx="166.55" cy="245.00" r="0.95" fill="#fff"/>
<circle cx="176.25" cy="245.00" r="0.95" fill="#fff"/>
<circle cx="200.60" cy="253.40" r="0.95" fill="#fff"/>
<circle cx="195.75" cy="245.00" r="0.95" fill="#fff"/>
<circle cx="205.45" cy="245.00" r="0.95" fill="#fff"/>
</g>
<g clip-path="url(#cb1)"><g filter="url(#fb)"><rect x="191.8" y="160" width="110" height="115" fill="#000"/><g fill="#fff"><circle cx="203.50" cy="171.75" r="4.0"/><circle cx="208.35" cy="174.55" r="4.0"/><circle cx="208.35" cy="180.15" r="4.0"/><circle cx="203.50" cy="182.95" r="4.0"/><circle cx="198.65" cy="180.15" r="4.0"/><circle cx="198.65" cy="174.55" r="4.0"/><circle cx="198.65" cy="163.35" r="4.0"/><circle cx="203.50" cy="166.15" r="4.0"/><circle cx="193.80" cy="171.75" r="4.0"/><circle cx="193.80" cy="166.15" r="4.0"/><circle cx="208.35" cy="163.35" r="4.0"/><circle cx="213.20" cy="166.15" r="4.0"/><circle cx="213.20" cy="171.75" r="4.0"/><circle cx="203.50" cy="188.55" r="4.0"/><circle cx="188.95" cy="163.35" r="4.0"/><circle cx="218.05" cy="163.35" r="4.0"/><circle cx="232.70" cy="171.75" r="4.0"/><circle cx="237.55" cy="174.55" r="4.0"/><circle cx="237.55" cy="180.15" r="4.0"/><circle cx="232.70" cy="182.95" r="4.0"/><circle cx="227.85" cy="180.15" r="4.0"/><circle cx="227.85" cy="174.55" r="4.0"/><circle cx="227.85" cy="163.35" r="4.0"/><circle cx="232.70" cy="166.15" r="4.0"/><circle cx="223.00" cy="171.75" r="4.0"/><circle cx="223.00" cy="166.15" r="4.0"/><circle cx="237.55" cy="163.35" r="4.0"/><circle cx="242.40" cy="166.15" r="4.0"/><circle cx="242.40" cy="171.75" r="4.0"/><circle cx="232.70" cy="188.55" r="4.0"/><circle cx="218.15" cy="163.35" r="4.0"/><circle cx="247.25" cy="163.35" r="4.0"/><circle cx="218.10" cy="197.10" r="4.0"/><circle cx="222.95" cy="199.90" r="4.0"/><circle cx="222.95" cy="205.50" r="4.0"/><circle cx="218.10" cy="208.30" r="4.0"/><circle cx="213.25" cy="205.50" r="4.0"/><circle cx="213.25" cy="199.90" r="4.0"/><circle cx="213.25" cy="188.70" r="4.0"/><circle cx="218.10" cy="191.50" r="4.0"/><circle cx="208.40" cy="197.10" r="4.0"/><circle cx="208.40" cy="191.50" r="4.0"/><circle cx="222.95" cy="188.70" r="4.0"/><circle cx="227.80" cy="191.50" r="4.0"/><circle cx="227.80" cy="197.10" r="4.0"/><circle cx="218.10" cy="213.90" r="4.0"/><circle cx="203.55" cy="188.70" r="4.0"/><circle cx="232.65" cy="188.70" r="4.0"/><circle cx="247.30" cy="197.10" r="4.0"/><circle cx="252.15" cy="199.90" r="4.0"/><circle cx="252.15" cy="205.50" r="4.0"/><circle cx="247.30" cy="208.30" r="4.0"/><circle cx="242.45" cy="205.50" r="4.0"/><circle cx="242.45" cy="199.90" r="4.0"/><circle cx="242.45" cy="188.70" r="4.0"/><circle cx="247.30" cy="191.50" r="4.0"/><circle cx="237.60" cy="197.10" r="4.0"/><circle cx="237.60" cy="191.50" r="4.0"/><circle cx="252.15" cy="188.70" r="4.0"/><circle cx="257.00" cy="191.50" r="4.0"/><circle cx="257.00" cy="197.10" r="4.0"/><circle cx="247.30" cy="213.90" r="4.0"/><circle cx="232.75" cy="188.70" r="4.0"/><circle cx="261.85" cy="188.70" r="4.0"/><circle cx="232.70" cy="222.45" r="4.0"/><circle cx="237.55" cy="225.25" r="4.0"/><circle cx="237.55" cy="230.85" r="4.0"/><circle cx="232.70" cy="233.65" r="4.0"/><circle cx="227.85" cy="230.85" r="4.0"/><circle cx="227.85" cy="225.25" r="4.0"/><circle cx="227.85" cy="214.05" r="4.0"/><circle cx="232.70" cy="216.85" r="4.0"/><circle cx="223.00" cy="222.45" r="4.0"/><circle cx="223.00" cy="216.85" r="4.0"/><circle cx="237.55" cy="214.05" r="4.0"/><circle cx="242.40" cy="216.85" r="4.0"/><circle cx="242.40" cy="222.45" r="4.0"/><circle cx="232.70" cy="239.25" r="4.0"/><circle cx="218.15" cy="214.05" r="4.0"/><circle cx="247.25" cy="214.05" r="4.0"/><circle cx="261.90" cy="222.45" r="4.0"/><circle cx="266.75" cy="225.25" r="4.0"/><circle cx="266.75" cy="230.85" r="4.0"/><circle cx="261.90" cy="233.65" r="4.0"/><circle cx="257.05" cy="230.85" r="4.0"/><circle cx="257.05" cy="225.25" r="4.0"/><circle cx="257.05" cy="214.05" r="4.0"/><circle cx="261.90" cy="216.85" r="4.0"/><circle cx="252.20" cy="222.45" r="4.0"/><circle cx="252.20" cy="216.85" r="4.0"/><circle cx="266.75" cy="214.05" r="4.0"/><circle cx="271.60" cy="216.85" r="4.0"/><circle cx="271.60" cy="222.45" r="4.0"/><circle cx="261.90" cy="239.25" r="4.0"/><circle cx="247.35" cy="214.05" r="4.0"/><circle cx="276.45" cy="214.05" r="4.0"/><circle cx="247.30" cy="247.80" r="4.0"/><circle cx="252.15" cy="250.60" r="4.0"/><circle cx="252.15" cy="256.20" r="4.0"/><circle cx="247.30" cy="259.00" r="4.0"/><circle cx="242.45" cy="256.20" r="4.0"/><circle cx="242.45" cy="250.60" r="4.0"/><circle cx="242.45" cy="239.40" r="4.0"/><circle cx="247.30" cy="242.20" r="4.0"/><circle cx="237.60" cy="247.80" r="4.0"/><circle cx="237.60" cy="242.20" r="4.0"/><circle cx="252.15" cy="239.40" r="4.0"/><circle cx="257.00" cy="242.20" r="4.0"/><circle cx="257.00" cy="247.80" r="4.0"/><circle cx="247.30" cy="264.60" r="4.0"/><circle cx="232.75" cy="239.40" r="4.0"/><circle cx="261.85" cy="239.40" r="4.0"/><circle cx="276.50" cy="247.80" r="4.0"/><circle cx="281.35" cy="250.60" r="4.0"/><circle cx="281.35" cy="256.20" r="4.0"/><circle cx="276.50" cy="259.00" r="4.0"/><circle cx="271.65" cy="256.20" r="4.0"/><circle cx="271.65" cy="250.60" r="4.0"/><circle cx="271.65" cy="239.40" r="4.0"/><circle cx="276.50" cy="242.20" r="4.0"/><circle cx="266.80" cy="247.80" r="4.0"/><circle cx="266.80" cy="242.20" r="4.0"/><circle cx="281.35" cy="239.40" r="4.0"/><circle cx="286.20" cy="242.20" r="4.0"/><circle cx="286.20" cy="247.80" r="4.0"/><circle cx="276.50" cy="264.60" r="4.0"/><circle cx="261.95" cy="239.40" r="4.0"/><circle cx="291.05" cy="239.40" r="4.0"/></g><g fill="#000"><circle cx="203.50" cy="177.35" r="0.01"/><circle cx="198.65" cy="168.95" r="0.01"/><circle cx="208.35" cy="168.95" r="0.01"/><circle cx="232.70" cy="177.35" r="0.01"/><circle cx="227.85" cy="168.95" r="0.01"/><circle cx="237.55" cy="168.95" r="0.01"/><circle cx="218.10" cy="202.70" r="0.01"/><circle cx="213.25" cy="194.30" r="0.01"/><circle cx="222.95" cy="194.30" r="0.01"/><circle cx="247.30" cy="202.70" r="0.01"/><circle cx="242.45" cy="194.30" r="0.01"/><circle cx="252.15" cy="194.30" r="0.01"/><circle cx="232.70" cy="228.05" r="0.01"/><circle cx="227.85" cy="219.65" r="0.01"/><circle cx="237.55" cy="219.65" r="0.01"/><circle cx="261.90" cy="228.05" r="0.01"/><circle cx="257.05" cy="219.65" r="0.01"/><circle cx="266.75" cy="219.65" r="0.01"/><circle cx="247.30" cy="253.40" r="0.01"/><circle cx="242.45" cy="245.00" r="0.01"/><circle cx="252.15" cy="245.00" r="0.01"/><circle cx="276.50" cy="253.40" r="0.01"/><circle cx="271.65" cy="245.00" r="0.01"/><circle cx="281.35" cy="245.00" r="0.01"/></g></g>
<mask id="mb2" maskUnits="userSpaceOnUse" x="0" y="150" width="641" height="130"><g filter="url(#fbm)"><rect x="191.8" y="160" width="110" height="115" fill="#000"/><g fill="#fff"><circle cx="203.50" cy="171.75" r="4.0"/><circle cx="208.35" cy="174.55" r="4.0"/><circle cx="208.35" cy="180.15" r="4.0"/><circle cx="203.50" cy="182.95" r="4.0"/><circle cx="198.65" cy="180.15" r="4.0"/><circle cx="198.65" cy="174.55" r="4.0"/><circle cx="198.65" cy="163.35" r="4.0"/><circle cx="203.50" cy="166.15" r="4.0"/><circle cx="193.80" cy="171.75" r="4.0"/><circle cx="193.80" cy="166.15" r="4.0"/><circle cx="208.35" cy="163.35" r="4.0"/><circle cx="213.20" cy="166.15" r="4.0"/><circle cx="213.20" cy="171.75" r="4.0"/><circle cx="203.50" cy="188.55" r="4.0"/><circle cx="188.95" cy="163.35" r="4.0"/><circle cx="218.05" cy="163.35" r="4.0"/><circle cx="232.70" cy="171.75" r="4.0"/><circle cx="237.55" cy="174.55" r="4.0"/><circle cx="237.55" cy="180.15" r="4.0"/><circle cx="232.70" cy="182.95" r="4.0"/><circle cx="227.85" cy="180.15" r="4.0"/><circle cx="227.85" cy="174.55" r="4.0"/><circle cx="227.85" cy="163.35" r="4.0"/><circle cx="232.70" cy="166.15" r="4.0"/><circle cx="223.00" cy="171.75" r="4.0"/><circle cx="223.00" cy="166.15" r="4.0"/><circle cx="237.55" cy="163.35" r="4.0"/><circle cx="242.40" cy="166.15" r="4.0"/><circle cx="242.40" cy="171.75" r="4.0"/><circle cx="232.70" cy="188.55" r="4.0"/><circle cx="218.15" cy="163.35" r="4.0"/><circle cx="247.25" cy="163.35" r="4.0"/><circle cx="218.10" cy="197.10" r="4.0"/><circle cx="222.95" cy="199.90" r="4.0"/><circle cx="222.95" cy="205.50" r="4.0"/><circle cx="218.10" cy="208.30" r="4.0"/><circle cx="213.25" cy="205.50" r="4.0"/><circle cx="213.25" cy="199.90" r="4.0"/><circle cx="213.25" cy="188.70" r="4.0"/><circle cx="218.10" cy="191.50" r="4.0"/><circle cx="208.40" cy="197.10" r="4.0"/><circle cx="208.40" cy="191.50" r="4.0"/><circle cx="222.95" cy="188.70" r="4.0"/><circle cx="227.80" cy="191.50" r="4.0"/><circle cx="227.80" cy="197.10" r="4.0"/><circle cx="218.10" cy="213.90" r="4.0"/><circle cx="203.55" cy="188.70" r="4.0"/><circle cx="232.65" cy="188.70" r="4.0"/><circle cx="247.30" cy="197.10" r="4.0"/><circle cx="252.15" cy="199.90" r="4.0"/><circle cx="252.15" cy="205.50" r="4.0"/><circle cx="247.30" cy="208.30" r="4.0"/><circle cx="242.45" cy="205.50" r="4.0"/><circle cx="242.45" cy="199.90" r="4.0"/><circle cx="242.45" cy="188.70" r="4.0"/><circle cx="247.30" cy="191.50" r="4.0"/><circle cx="237.60" cy="197.10" r="4.0"/><circle cx="237.60" cy="191.50" r="4.0"/><circle cx="252.15" cy="188.70" r="4.0"/><circle cx="257.00" cy="191.50" r="4.0"/><circle cx="257.00" cy="197.10" r="4.0"/><circle cx="247.30" cy="213.90" r="4.0"/><circle cx="232.75" cy="188.70" r="4.0"/><circle cx="261.85" cy="188.70" r="4.0"/><circle cx="232.70" cy="222.45" r="4.0"/><circle cx="237.55" cy="225.25" r="4.0"/><circle cx="237.55" cy="230.85" r="4.0"/><circle cx="232.70" cy="233.65" r="4.0"/><circle cx="227.85" cy="230.85" r="4.0"/><circle cx="227.85" cy="225.25" r="4.0"/><circle cx="227.85" cy="214.05" r="4.0"/><circle cx="232.70" cy="216.85" r="4.0"/><circle cx="223.00" cy="222.45" r="4.0"/><circle cx="223.00" cy="216.85" r="4.0"/><circle cx="237.55" cy="214.05" r="4.0"/><circle cx="242.40" cy="216.85" r="4.0"/><circle cx="242.40" cy="222.45" r="4.0"/><circle cx="232.70" cy="239.25" r="4.0"/><circle cx="218.15" cy="214.05" r="4.0"/><circle cx="247.25" cy="214.05" r="4.0"/><circle cx="261.90" cy="222.45" r="4.0"/><circle cx="266.75" cy="225.25" r="4.0"/><circle cx="266.75" cy="230.85" r="4.0"/><circle cx="261.90" cy="233.65" r="4.0"/><circle cx="257.05" cy="230.85" r="4.0"/><circle cx="257.05" cy="225.25" r="4.0"/><circle cx="257.05" cy="214.05" r="4.0"/><circle cx="261.90" cy="216.85" r="4.0"/><circle cx="252.20" cy="222.45" r="4.0"/><circle cx="252.20" cy="216.85" r="4.0"/><circle cx="266.75" cy="214.05" r="4.0"/><circle cx="271.60" cy="216.85" r="4.0"/><circle cx="271.60" cy="222.45" r="4.0"/><circle cx="261.90" cy="239.25" r="4.0"/><circle cx="247.35" cy="214.05" r="4.0"/><circle cx="276.45" cy="214.05" r="4.0"/><circle cx="247.30" cy="247.80" r="4.0"/><circle cx="252.15" cy="250.60" r="4.0"/><circle cx="252.15" cy="256.20" r="4.0"/><circle cx="247.30" cy="259.00" r="4.0"/><circle cx="242.45" cy="256.20" r="4.0"/><circle cx="242.45" cy="250.60" r="4.0"/><circle cx="242.45" cy="239.40" r="4.0"/><circle cx="247.30" cy="242.20" r="4.0"/><circle cx="237.60" cy="247.80" r="4.0"/><circle cx="237.60" cy="242.20" r="4.0"/><circle cx="252.15" cy="239.40" r="4.0"/><circle cx="257.00" cy="242.20" r="4.0"/><circle cx="257.00" cy="247.80" r="4.0"/><circle cx="247.30" cy="264.60" r="4.0"/><circle cx="232.75" cy="239.40" r="4.0"/><circle cx="261.85" cy="239.40" r="4.0"/><circle cx="276.50" cy="247.80" r="4.0"/><circle cx="281.35" cy="250.60" r="4.0"/><circle cx="281.35" cy="256.20" r="4.0"/><circle cx="276.50" cy="259.00" r="4.0"/><circle cx="271.65" cy="256.20" r="4.0"/><circle cx="271.65" cy="250.60" r="4.0"/><circle cx="271.65" cy="239.40" r="4.0"/><circle cx="276.50" cy="242.20" r="4.0"/><circle cx="266.80" cy="247.80" r="4.0"/><circle cx="266.80" cy="242.20" r="4.0"/><circle cx="281.35" cy="239.40" r="4.0"/><circle cx="286.20" cy="242.20" r="4.0"/><circle cx="286.20" cy="247.80" r="4.0"/><circle cx="276.50" cy="264.60" r="4.0"/><circle cx="261.95" cy="239.40" r="4.0"/><circle cx="291.05" cy="239.40" r="4.0"/></g><g fill="#000"><circle cx="203.50" cy="177.35" r="0.01"/><circle cx="198.65" cy="168.95" r="0.01"/><circle cx="208.35" cy="168.95" r="0.01"/><circle cx="232.70" cy="177.35" r="0.01"/><circle cx="227.85" cy="168.95" r="0.01"/><circle cx="237.55" cy="168.95" r="0.01"/><circle cx="218.10" cy="202.70" r="0.01"/><circle cx="213.25" cy="194.30" r="0.01"/><circle cx="222.95" cy="194.30" r="0.01"/><circle cx="247.30" cy="202.70" r="0.01"/><circle cx="242.45" cy="194.30" r="0.01"/><circle cx="252.15" cy="194.30" r="0.01"/><circle cx="232.70" cy="228.05" r="0.01"/><circle cx="227.85" cy="219.65" r="0.01"/><circle cx="237.55" cy="219.65" r="0.01"/><circle cx="261.90" cy="228.05" r="0.01"/><circle cx="257.05" cy="219.65" r="0.01"/><circle cx="266.75" cy="219.65" r="0.01"/><circle cx="247.30" cy="253.40" r="0.01"/><circle cx="242.45" cy="245.00" r="0.01"/><circle cx="252.15" cy="245.00" r="0.01"/><circle cx="276.50" cy="253.40" r="0.01"/><circle cx="271.65" cy="245.00" r="0.01"/><circle cx="281.35" cy="245.00" r="0.01"/></g></g></mask>
<g mask="url(#mb2)"><g filter="url(#fsoft)"><circle cx="215.20" cy="171.75" r="5.0" fill="#cc7c22"/><circle cx="209.35" cy="181.88" r="5.0" fill="#cc7c22"/><circle cx="197.65" cy="181.88" r="5.0" fill="#cc7c22"/><circle cx="191.80" cy="171.75" r="5.0" fill="#cc7c22"/><circle cx="197.65" cy="161.62" r="5.0" fill="#cc7c22"/><circle cx="209.35" cy="161.62" r="5.0" fill="#cc7c22"/><circle cx="212.20" cy="171.75" r="3.9" fill="#e4ee44"/><circle cx="207.85" cy="179.28" r="3.9" fill="#e4ee44"/><circle cx="199.15" cy="179.28" r="3.9" fill="#e4ee44"/><circle cx="194.80" cy="171.75" r="3.9" fill="#e4ee44"/><circle cx="199.15" cy="164.22" r="3.9" fill="#e4ee44"/><circle cx="207.85" cy="164.22" r="3.9" fill="#e4ee44"/><circle cx="244.40" cy="171.75" r="5.0" fill="#cc7c22"/><circle cx="238.55" cy="181.88" r="5.0" fill="#cc7c22"/><circle cx="226.85" cy="181.88" r="5.0" fill="#cc7c22"/><circle cx="221.00" cy="171.75" r="5.0" fill="#cc7c22"/><circle cx="226.85" cy="161.62" r="5.0" fill="#cc7c22"/><circle cx="238.55" cy="161.62" r="5.0" fill="#cc7c22"/><circle cx="241.40" cy="171.75" r="3.9" fill="#e4ee44"/><circle cx="237.05" cy="179.28" r="3.9" fill="#e4ee44"/><circle cx="228.35" cy="179.28" r="3.9" fill="#e4ee44"/><circle cx="224.00" cy="171.75" r="3.9" fill="#e4ee44"/><circle cx="228.35" cy="164.22" r="3.9" fill="#e4ee44"/><circle cx="237.05" cy="164.22" r="3.9" fill="#e4ee44"/><circle cx="229.80" cy="197.10" r="5.0" fill="#cc7c22"/><circle cx="223.95" cy="207.23" r="5.0" fill="#cc7c22"/><circle cx="212.25" cy="207.23" r="5.0" fill="#cc7c22"/><circle cx="206.40" cy="197.10" r="5.0" fill="#cc7c22"/><circle cx="212.25" cy="186.97" r="5.0" fill="#cc7c22"/><circle cx="223.95" cy="186.97" r="5.0" fill="#cc7c22"/><circle cx="226.80" cy="197.10" r="3.9" fill="#e4ee44"/><circle cx="222.45" cy="204.63" r="3.9" fill="#e4ee44"/><circle cx="213.75" cy="204.63" r="3.9" fill="#e4ee44"/><circle cx="209.40" cy="197.10" r="3.9" fill="#e4ee44"/><circle cx="213.75" cy="189.57" r="3.9" fill="#e4ee44"/><circle cx="222.45" cy="189.57" r="3.9" fill="#e4ee44"/><circle cx="259.00" cy="197.10" r="5.0" fill="#cc7c22"/><circle cx="253.15" cy="207.23" r="5.0" fill="#cc7c22"/><circle cx="241.45" cy="207.23" r="5.0" fill="#cc7c22"/><circle cx="235.60" cy="197.10" r="5.0" fill="#cc7c22"/><circle cx="241.45" cy="186.97" r="5.0" fill="#cc7c22"/><circle cx="253.15" cy="186.97" r="5.0" fill="#cc7c22"/><circle cx="256.00" cy="197.10" r="3.9" fill="#e4ee44"/><circle cx="251.65" cy="204.63" r="3.9" fill="#e4ee44"/><circle cx="242.95" cy="204.63" r="3.9" fill="#e4ee44"/><circle cx="238.60" cy="197.10" r="3.9" fill="#e4ee44"/><circle cx="242.95" cy="189.57" r="3.9" fill="#e4ee44"/><circle cx="251.65" cy="189.57" r="3.9" fill="#e4ee44"/><circle cx="244.40" cy="222.45" r="5.0" fill="#cc7c22"/><circle cx="238.55" cy="232.58" r="5.0" fill="#cc7c22"/><circle cx="226.85" cy="232.58" r="5.0" fill="#cc7c22"/><circle cx="221.00" cy="222.45" r="5.0" fill="#cc7c22"/><circle cx="226.85" cy="212.32" r="5.0" fill="#cc7c22"/><circle cx="238.55" cy="212.32" r="5.0" fill="#cc7c22"/><circle cx="241.40" cy="222.45" r="3.9" fill="#e4ee44"/><circle cx="237.05" cy="229.98" r="3.9" fill="#e4ee44"/><circle cx="228.35" cy="229.98" r="3.9" fill="#e4ee44"/><circle cx="224.00" cy="222.45" r="3.9" fill="#e4ee44"/><circle cx="228.35" cy="214.92" r="3.9" fill="#e4ee44"/><circle cx="237.05" cy="214.92" r="3.9" fill="#e4ee44"/><circle cx="273.60" cy="222.45" r="5.0" fill="#cc7c22"/><circle cx="267.75" cy="232.58" r="5.0" fill="#cc7c22"/><circle cx="256.05" cy="232.58" r="5.0" fill="#cc7c22"/><circle cx="250.20" cy="222.45" r="5.0" fill="#cc7c22"/><circle cx="256.05" cy="212.32" r="5.0" fill="#cc7c22"/><circle cx="267.75" cy="212.32" r="5.0" fill="#cc7c22"/><circle cx="270.60" cy="222.45" r="3.9" fill="#e4ee44"/><circle cx="266.25" cy="229.98" r="3.9" fill="#e4ee44"/><circle cx="257.55" cy="229.98" r="3.9" fill="#e4ee44"/><circle cx="253.20" cy="222.45" r="3.9" fill="#e4ee44"/><circle cx="257.55" cy="214.92" r="3.9" fill="#e4ee44"/><circle cx="266.25" cy="214.92" r="3.9" fill="#e4ee44"/><circle cx="259.00" cy="247.80" r="5.0" fill="#cc7c22"/><circle cx="253.15" cy="257.93" r="5.0" fill="#cc7c22"/><circle cx="241.45" cy="257.93" r="5.0" fill="#cc7c22"/><circle cx="235.60" cy="247.80" r="5.0" fill="#cc7c22"/><circle cx="241.45" cy="237.67" r="5.0" fill="#cc7c22"/><circle cx="253.15" cy="237.67" r="5.0" fill="#cc7c22"/><circle cx="256.00" cy="247.80" r="3.9" fill="#e4ee44"/><circle cx="251.65" cy="255.33" r="3.9" fill="#e4ee44"/><circle cx="242.95" cy="255.33" r="3.9" fill="#e4ee44"/><circle cx="238.60" cy="247.80" r="3.9" fill="#e4ee44"/><circle cx="242.95" cy="240.27" r="3.9" fill="#e4ee44"/><circle cx="251.65" cy="240.27" r="3.9" fill="#e4ee44"/><circle cx="288.20" cy="247.80" r="5.0" fill="#cc7c22"/><circle cx="282.35" cy="257.93" r="5.0" fill="#cc7c22"/><circle cx="270.65" cy="257.93" r="5.0" fill="#cc7c22"/><circle cx="264.80" cy="247.80" r="5.0" fill="#cc7c22"/><circle cx="270.65" cy="237.67" r="5.0" fill="#cc7c22"/><circle cx="282.35" cy="237.67" r="5.0" fill="#cc7c22"/><circle cx="285.20" cy="247.80" r="3.9" fill="#e4ee44"/><circle cx="280.85" cy="255.33" r="3.9" fill="#e4ee44"/><circle cx="272.15" cy="255.33" r="3.9" fill="#e4ee44"/><circle cx="267.80" cy="247.80" r="3.9" fill="#e4ee44"/><circle cx="272.15" cy="240.27" r="3.9" fill="#e4ee44"/><circle cx="280.85" cy="240.27" r="3.9" fill="#e4ee44"/><circle cx="203.50" cy="177.35" r="2.6" fill="#98e43c"/><circle cx="198.65" cy="168.95" r="2.6" fill="#98e43c"/><circle cx="208.35" cy="168.95" r="2.6" fill="#98e43c"/><circle cx="203.50" cy="171.75" r="1.8" fill="#a0e63c"/><circle cx="232.70" cy="177.35" r="2.6" fill="#98e43c"/><circle cx="227.85" cy="168.95" r="2.6" fill="#98e43c"/><circle cx="237.55" cy="168.95" r="2.6" fill="#98e43c"/><circle cx="232.70" cy="171.75" r="1.8" fill="#a0e63c"/><circle cx="218.10" cy="202.70" r="2.6" fill="#98e43c"/><circle cx="213.25" cy="194.30" r="2.6" fill="#98e43c"/><circle cx="222.95" cy="194.30" r="2.6" fill="#98e43c"/><circle cx="218.10" cy="197.10" r="1.8" fill="#a0e63c"/><circle cx="247.30" cy="202.70" r="2.6" fill="#98e43c"/><circle cx="242.45" cy="194.30" r="2.6" fill="#98e43c"/><circle cx="252.15" cy="194.30" r="2.6" fill="#98e43c"/><circle cx="247.30" cy="197.10" r="1.8" fill="#a0e63c"/><circle cx="232.70" cy="228.05" r="2.6" fill="#98e43c"/><circle cx="227.85" cy="219.65" r="2.6" fill="#98e43c"/><circle cx="237.55" cy="219.65" r="2.6" fill="#98e43c"/><circle cx="232.70" cy="222.45" r="1.8" fill="#a0e63c"/><circle cx="261.90" cy="228.05" r="2.6" fill="#98e43c"/><circle cx="257.05" cy="219.65" r="2.6" fill="#98e43c"/><circle cx="266.75" cy="219.65" r="2.6" fill="#98e43c"/><circle cx="261.90" cy="222.45" r="1.8" fill="#a0e63c"/><circle cx="247.30" cy="253.40" r="2.6" fill="#98e43c"/><circle cx="242.45" cy="245.00" r="2.6" fill="#98e43c"/><circle cx="252.15" cy="245.00" r="2.6" fill="#98e43c"/><circle cx="247.30" cy="247.80" r="1.8" fill="#a0e63c"/><circle cx="276.50" cy="253.40" r="2.6" fill="#98e43c"/><circle cx="271.65" cy="245.00" r="2.6" fill="#98e43c"/><circle cx="281.35" cy="245.00" r="2.6" fill="#98e43c"/><circle cx="276.50" cy="247.80" r="1.8" fill="#a0e63c"/></g></g>
<circle cx="203.50" cy="177.35" r="0.95" fill="#fff"/>
<circle cx="198.65" cy="168.95" r="0.95" fill="#fff"/>
<circle cx="208.35" cy="168.95" r="0.95" fill="#fff"/>
<circle cx="232.70" cy="177.35" r="0.95" fill="#fff"/>
<circle cx="227.85" cy="168.95" r="0.95" fill="#fff"/>
<circle cx="237.55" cy="168.95" r="0.95" fill="#fff"/>
<circle cx="218.10" cy="202.70" r="0.95" fill="#fff"/>
<circle cx="213.25" cy="194.30" r="0.95" fill="#fff"/>
<circle cx="222.95" cy="194.30" r="0.95" fill="#fff"/>
<circle cx="247.30" cy="202.70" r="0.95" fill="#fff"/>
<circle cx="242.45" cy="194.30" r="0.95" fill="#fff"/>
<circle cx="252.15" cy="194.30" r="0.95" fill="#fff"/>
<circle cx="232.70" cy="228.05" r="0.95" fill="#fff"/>
<circle cx="227.85" cy="219.65" r="0.95" fill="#fff"/>
<circle cx="237.55" cy="219.65" r="0.95" fill="#fff"/>
<circle cx="261.90" cy="228.05" r="0.95" fill="#fff"/>
<circle cx="257.05" cy="219.65" r="0.95" fill="#fff"/>
<circle cx="266.75" cy="219.65" r="0.95" fill="#fff"/>
<circle cx="247.30" cy="253.40" r="0.95" fill="#fff"/>
<circle cx="242.45" cy="245.00" r="0.95" fill="#fff"/>
<circle cx="252.15" cy="245.00" r="0.95" fill="#fff"/>
<circle cx="276.50" cy="253.40" r="0.95" fill="#fff"/>
<circle cx="271.65" cy="245.00" r="0.95" fill="#fff"/>
<circle cx="281.35" cy="245.00" r="0.95" fill="#fff"/>
</g>
<defs><radialGradient id="sphO" cx="0.45" cy="0.45" r="0.55"><stop offset="0" stop-color="#dce850"/><stop offset="0.6" stop-color="#d8c040"/><stop offset="1" stop-color="#c88a2a"/></radialGradient><radialGradient id="sphG" cx="0.45" cy="0.45" r="0.55"><stop offset="0" stop-color="#d0ee50"/><stop offset="0.7" stop-color="#b4e444"/><stop offset="1" stop-color="#a8d038"/></radialGradient></defs>
<circle cx="168" cy="233.4" r="5.2" fill="url(#sphO)"/>
<circle cx="200.2" cy="230" r="4.5" fill="url(#sphG)"/>
<circle cx="231.7" cy="206.8" r="4.5" fill="url(#sphG)"/>
<circle cx="245.7" cy="232.7" r="4.8" fill="url(#sphO)"/>
<circle cx="272.8" cy="230.7" r="4.5" fill="url(#sphG)"/>
<text x="122.70" y="266.90" font-size="9.2" text-anchor="middle" fill="#111" stroke="#111" stroke-width="0.0" font-weight="bold">CN</text>
<text x="203.30" y="266.90" font-size="9.2" text-anchor="middle" fill="#111" stroke="#111" stroke-width="0.0" font-weight="bold">CN-I</text>
<text x="279.00" y="266.90" font-size="9.2" text-anchor="middle" fill="#111" stroke="#111" stroke-width="0.0" font-weight="bold">CN-I/I<tspan font-size="6.6" dy="2">3</tspan></text>
<rect x="344.70" y="178.50" width="268.80" height="91.20" fill="none" stroke="#333" stroke-width="1.1"/>
<text x="319.85" y="191.90" font-size="16.3" text-anchor="start" fill="#000" stroke="#000" stroke-width="0.0" font-weight="bold">(c)</text>
<defs><filter id="fc" x="0" y="0" width="1" height="1" color-interpolation-filters="sRGB">
<feGaussianBlur in="SourceGraphic" stdDeviation="2.2" result="bl"/>
<feComponentTransfer in="bl"><feFuncR type="table" tableValues="0.500 0.500 0.500 0.500 0.472 0.444 0.417 0.372 0.303 0.233 0.164 0.157 0.165 0.173 0.182 0.190 0.198 0.293 0.410 0.527 0.645 0.772 0.899 1.000 1.000 1.000 1.000 1.000 1.000 0.987 0.970 0.960 0.960 0.960 0.960 0.960 0.960 0.960 0.960 0.960 0.960 0.960 0.960 0.960 0.960 0.960 0.960 0.960 0.960 0.960 0.960 0.960 0.960 0.960 0.960 0.960 0.960 0.960 0.960 0.960 0.960"/><feFuncG type="table" tableValues="0.960 0.957 0.953 0.950 0.869 0.789 0.708 0.607 0.473 0.340 0.207 0.172 0.162 0.152 0.142 0.132 0.122 0.127 0.135 0.143 0.157 0.190 0.223 0.243 0.210 0.177 0.189 0.385 0.581 0.737 0.882 0.970 0.970 0.970 0.970 0.970 0.970 0.970 0.970 0.970 0.970 0.970 0.970 0.970 0.970 0.970 0.970 0.970 0.970 0.970 0.970 0.970 0.970 0.970 0.970 0.970 0.970 0.970 0.970 0.970 0.970"/><feFuncB type="table" tableValues="0.980 0.980 0.980 0.980 0.986 0.991 0.997 1.000 1.000 1.000 1.000 1.000 1.000 1.000 1.000 1.000 1.000 0.989 0.975 0.961 0.940 0.890 0.840 0.755 0.528 0.301 0.120 0.120 0.120 0.167 0.225 0.260 0.260 0.260 0.260 0.260 0.260 0.260 0.260 0.260 0.260 0.260 0.260 0.260 0.260 0.260 0.260 0.260 0.260 0.260 0.260 0.260 0.260 0.260 0.260 0.260 0.260 0.260 0.260 0.260 0.260"/></feComponentTransfer>
</filter>
<radialGradient id="holeC" cx="0.5" cy="0.5" r="0.5"><stop offset="0" stop-color="#2a2aff"/><stop offset="0.4" stop-color="#2a20f4"/><stop offset="0.6" stop-color="#a020e0"/><stop offset="0.75" stop-color="#ff30b0"/><stop offset="0.88" stop-color="#ff3010"/><stop offset="1" stop-color="#ffd020" stop-opacity="0"/></radialGradient>
<radialGradient id="starG" cx="0.5" cy="0.5" r="0.5"><stop offset="0" stop-color="#5a98f8"/><stop offset="0.5" stop-color="#78b8f8"/><stop offset="0.85" stop-color="#6a88f4"/><stop offset="1" stop-color="#4a50f0"/></radialGradient>
<linearGradient id="cbar" x1="0" y1="0" x2="0" y2="1"><stop offset="0" stop-color="#e8e020"/><stop offset="0.12" stop-color="#f08020"/><stop offset="0.26" stop-color="#ff2010"/><stop offset="0.42" stop-color="#ff40c0"/><stop offset="0.52" stop-color="#e040ff"/><stop offset="0.66" stop-color="#7020e8"/><stop offset="0.8" stop-color="#1818ff"/><stop offset="0.9" stop-color="#4090ff"/><stop offset="1" stop-color="#60e8ff"/></linearGradient>
</defs>
<defs><clipPath id="cc0"><path d="M347.20 182.4 L420.00 182.4 L462.36 257.7 L389.56 257.7 Z"/></clipPath></defs>
<defs><clipPath id="cc1"><path d="M422.60 182.4 L497.20 182.4 L539.56 257.7 L464.96 257.7 Z"/></clipPath></defs>
<defs><clipPath id="cc2"><path d="M498.70 182.4 L568.90 182.4 L611.26 257.7 L541.06 257.7 Z"/></clipPath></defs>
<g clip-path="url(#cc0)"><g filter="url(#fc)"><rect x="340.0" y="165" width="130" height="110" fill="#000"/><g fill="#fff"><circle cx="356.80" cy="172.35" r="2.6"/><circle cx="361.65" cy="175.15" r="2.6"/><circle cx="361.65" cy="180.75" r="2.6"/><circle cx="356.80" cy="183.55" r="2.6"/><circle cx="351.95" cy="180.75" r="2.6"/><circle cx="351.95" cy="175.15" r="2.6"/><circle cx="351.95" cy="163.95" r="2.6"/><circle cx="356.80" cy="166.75" r="2.6"/><circle cx="347.10" cy="172.35" r="2.6"/><circle cx="347.10" cy="166.75" r="2.6"/><circle cx="361.65" cy="163.95" r="2.6"/><circle cx="366.50" cy="166.75" r="2.6"/><circle cx="366.50" cy="172.35" r="2.6"/><circle cx="356.80" cy="189.15" r="2.6"/><circle cx="342.25" cy="163.95" r="2.6"/><circle cx="371.35" cy="163.95" r="2.6"/><circle cx="386.00" cy="172.35" r="2.6"/><circle cx="390.85" cy="175.15" r="2.6"/><circle cx="390.85" cy="180.75" r="2.6"/><circle cx="386.00" cy="183.55" r="2.6"/><circle cx="381.15" cy="180.75" r="2.6"/><circle cx="381.15" cy="175.15" r="2.6"/><circle cx="381.15" cy="163.95" r="2.6"/><circle cx="386.00" cy="166.75" r="2.6"/><circle cx="376.30" cy="172.35" r="2.6"/><circle cx="376.30" cy="166.75" r="2.6"/><circle cx="390.85" cy="163.95" r="2.6"/><circle cx="395.70" cy="166.75" r="2.6"/><circle cx="395.70" cy="172.35" r="2.6"/><circle cx="386.00" cy="189.15" r="2.6"/><circle cx="371.45" cy="163.95" r="2.6"/><circle cx="400.55" cy="163.95" r="2.6"/><circle cx="371.40" cy="197.70" r="2.6"/><circle cx="376.25" cy="200.50" r="2.6"/><circle cx="376.25" cy="206.10" r="2.6"/><circle cx="371.40" cy="208.90" r="2.6"/><circle cx="366.55" cy="206.10" r="2.6"/><circle cx="366.55" cy="200.50" r="2.6"/><circle cx="366.55" cy="189.30" r="2.6"/><circle cx="371.40" cy="192.10" r="2.6"/><circle cx="361.70" cy="197.70" r="2.6"/><circle cx="361.70" cy="192.10" r="2.6"/><circle cx="376.25" cy="189.30" r="2.6"/><circle cx="381.10" cy="192.10" r="2.6"/><circle cx="381.10" cy="197.70" r="2.6"/><circle cx="371.40" cy="214.50" r="2.6"/><circle cx="356.85" cy="189.30" r="2.6"/><circle cx="385.95" cy="189.30" r="2.6"/><circle cx="400.60" cy="197.70" r="2.6"/><circle cx="405.45" cy="200.50" r="2.6"/><circle cx="405.45" cy="206.10" r="2.6"/><circle cx="400.60" cy="208.90" r="2.6"/><circle cx="395.75" cy="206.10" r="2.6"/><circle cx="395.75" cy="200.50" r="2.6"/><circle cx="395.75" cy="189.30" r="2.6"/><circle cx="400.60" cy="192.10" r="2.6"/><circle cx="390.90" cy="197.70" r="2.6"/><circle cx="390.90" cy="192.10" r="2.6"/><circle cx="405.45" cy="189.30" r="2.6"/><circle cx="410.30" cy="192.10" r="2.6"/><circle cx="410.30" cy="197.70" r="2.6"/><circle cx="400.60" cy="214.50" r="2.6"/><circle cx="386.05" cy="189.30" r="2.6"/><circle cx="415.15" cy="189.30" r="2.6"/><circle cx="386.00" cy="223.05" r="2.6"/><circle cx="390.85" cy="225.85" r="2.6"/><circle cx="390.85" cy="231.45" r="2.6"/><circle cx="386.00" cy="234.25" r="2.6"/><circle cx="381.15" cy="231.45" r="2.6"/><circle cx="381.15" cy="225.85" r="2.6"/><circle cx="381.15" cy="214.65" r="2.6"/><circle cx="386.00" cy="217.45" r="2.6"/><circle cx="376.30" cy="223.05" r="2.6"/><circle cx="376.30" cy="217.45" r="2.6"/><circle cx="390.85" cy="214.65" r="2.6"/><circle cx="395.70" cy="217.45" r="2.6"/><circle cx="395.70" cy="223.05" r="2.6"/><circle cx="386.00" cy="239.85" r="2.6"/><circle cx="371.45" cy="214.65" r="2.6"/><circle cx="400.55" cy="214.65" r="2.6"/><circle cx="415.20" cy="223.05" r="2.6"/><circle cx="420.05" cy="225.85" r="2.6"/><circle cx="420.05" cy="231.45" r="2.6"/><circle cx="415.20" cy="234.25" r="2.6"/><circle cx="410.35" cy="231.45" r="2.6"/><circle cx="410.35" cy="225.85" r="2.6"/><circle cx="410.35" cy="214.65" r="2.6"/><circle cx="415.20" cy="217.45" r="2.6"/><circle cx="405.50" cy="223.05" r="2.6"/><circle cx="405.50" cy="217.45" r="2.6"/><circle cx="420.05" cy="214.65" r="2.6"/><circle cx="424.90" cy="217.45" r="2.6"/><circle cx="424.90" cy="223.05" r="2.6"/><circle cx="415.20" cy="239.85" r="2.6"/><circle cx="400.65" cy="214.65" r="2.6"/><circle cx="429.75" cy="214.65" r="2.6"/><circle cx="400.60" cy="248.40" r="2.6"/><circle cx="405.45" cy="251.20" r="2.6"/><circle cx="405.45" cy="256.80" r="2.6"/><circle cx="400.60" cy="259.60" r="2.6"/><circle cx="395.75" cy="256.80" r="2.6"/><circle cx="395.75" cy="251.20" r="2.6"/><circle cx="395.75" cy="240.00" r="2.6"/><circle cx="400.60" cy="242.80" r="2.6"/><circle cx="390.90" cy="248.40" r="2.6"/><circle cx="390.90" cy="242.80" r="2.6"/><circle cx="405.45" cy="240.00" r="2.6"/><circle cx="410.30" cy="242.80" r="2.6"/><circle cx="410.30" cy="248.40" r="2.6"/><circle cx="400.60" cy="265.20" r="2.6"/><circle cx="386.05" cy="240.00" r="2.6"/><circle cx="415.15" cy="240.00" r="2.6"/><circle cx="429.80" cy="248.40" r="2.6"/><circle cx="434.65" cy="251.20" r="2.6"/><circle cx="434.65" cy="256.80" r="2.6"/><circle cx="429.80" cy="259.60" r="2.6"/><circle cx="424.95" cy="256.80" r="2.6"/><circle cx="424.95" cy="251.20" r="2.6"/><circle cx="424.95" cy="240.00" r="2.6"/><circle cx="429.80" cy="242.80" r="2.6"/><circle cx="420.10" cy="248.40" r="2.6"/><circle cx="420.10" cy="242.80" r="2.6"/><circle cx="434.65" cy="240.00" r="2.6"/><circle cx="439.50" cy="242.80" r="2.6"/><circle cx="439.50" cy="248.40" r="2.6"/><circle cx="429.80" cy="265.20" r="2.6"/><circle cx="415.25" cy="240.00" r="2.6"/><circle cx="444.35" cy="240.00" r="2.6"/></g><g fill="#000"><circle cx="356.80" cy="177.95" r="0.01"/><circle cx="351.95" cy="169.55" r="0.01"/><circle cx="361.65" cy="169.55" r="0.01"/><circle cx="386.00" cy="177.95" r="0.01"/><circle cx="381.15" cy="169.55" r="0.01"/><circle cx="390.85" cy="169.55" r="0.01"/><circle cx="371.40" cy="203.30" r="0.01"/><circle cx="366.55" cy="194.90" r="0.01"/><circle cx="376.25" cy="194.90" r="0.01"/><circle cx="400.60" cy="203.30" r="0.01"/><circle cx="395.75" cy="194.90" r="0.01"/><circle cx="405.45" cy="194.90" r="0.01"/><circle cx="386.00" cy="228.65" r="0.01"/><circle cx="381.15" cy="220.25" r="0.01"/><circle cx="390.85" cy="220.25" r="0.01"/><circle cx="415.20" cy="228.65" r="0.01"/><circle cx="410.35" cy="220.25" r="0.01"/><circle cx="420.05" cy="220.25" r="0.01"/><circle cx="400.60" cy="254.00" r="0.01"/><circle cx="395.75" cy="245.60" r="0.01"/><circle cx="405.45" cy="245.60" r="0.01"/><circle cx="429.80" cy="254.00" r="0.01"/><circle cx="424.95" cy="245.60" r="0.01"/><circle cx="434.65" cy="245.60" r="0.01"/></g><circle cx="356.80" cy="177.95" r="3.0" fill="#fff"/><circle cx="351.95" cy="169.55" r="3.0" fill="#fff"/><circle cx="361.65" cy="169.55" r="3.0" fill="#fff"/><circle cx="386.00" cy="177.95" r="3.0" fill="#fff"/><circle cx="381.15" cy="169.55" r="3.0" fill="#fff"/><circle cx="390.85" cy="169.55" r="3.0" fill="#fff"/><circle cx="371.40" cy="203.30" r="3.0" fill="#fff"/><circle cx="366.55" cy="194.90" r="3.0" fill="#fff"/><circle cx="376.25" cy="194.90" r="3.0" fill="#fff"/><circle cx="400.60" cy="203.30" r="3.0" fill="#fff"/><circle cx="395.75" cy="194.90" r="3.0" fill="#fff"/><circle cx="405.45" cy="194.90" r="3.0" fill="#fff"/><circle cx="386.00" cy="228.65" r="3.0" fill="#fff"/><circle cx="381.15" cy="220.25" r="3.0" fill="#fff"/><circle cx="390.85" cy="220.25" r="3.0" fill="#fff"/><circle cx="415.20" cy="228.65" r="3.0" fill="#fff"/><circle cx="410.35" cy="220.25" r="3.0" fill="#fff"/><circle cx="420.05" cy="220.25" r="3.0" fill="#fff"/><circle cx="400.60" cy="254.00" r="3.0" fill="#fff"/><circle cx="395.75" cy="245.60" r="3.0" fill="#fff"/><circle cx="405.45" cy="245.60" r="3.0" fill="#fff"/><circle cx="429.80" cy="254.00" r="3.0" fill="#fff"/><circle cx="424.95" cy="245.60" r="3.0" fill="#fff"/><circle cx="434.65" cy="245.60" r="3.0" fill="#fff"/></g>
<circle cx="356.80" cy="177.95" r="2.7" fill="url(#holeC)"/>
<circle cx="351.95" cy="169.55" r="2.7" fill="url(#holeC)"/>
<circle cx="361.65" cy="169.55" r="2.7" fill="url(#holeC)"/>
<circle cx="386.00" cy="177.95" r="2.7" fill="url(#holeC)"/>
<circle cx="381.15" cy="169.55" r="2.7" fill="url(#holeC)"/>
<circle cx="390.85" cy="169.55" r="2.7" fill="url(#holeC)"/>
<circle cx="371.40" cy="203.30" r="2.7" fill="url(#holeC)"/>
<circle cx="366.55" cy="194.90" r="2.7" fill="url(#holeC)"/>
<circle cx="376.25" cy="194.90" r="2.7" fill="url(#holeC)"/>
<circle cx="400.60" cy="203.30" r="2.7" fill="url(#holeC)"/>
<circle cx="395.75" cy="194.90" r="2.7" fill="url(#holeC)"/>
<circle cx="405.45" cy="194.90" r="2.7" fill="url(#holeC)"/>
<circle cx="386.00" cy="228.65" r="2.7" fill="url(#holeC)"/>
<circle cx="381.15" cy="220.25" r="2.7" fill="url(#holeC)"/>
<circle cx="390.85" cy="220.25" r="2.7" fill="url(#holeC)"/>
<circle cx="415.20" cy="228.65" r="2.7" fill="url(#holeC)"/>
<circle cx="410.35" cy="220.25" r="2.7" fill="url(#holeC)"/>
<circle cx="420.05" cy="220.25" r="2.7" fill="url(#holeC)"/>
<circle cx="400.60" cy="254.00" r="2.7" fill="url(#holeC)"/>
<circle cx="395.75" cy="245.60" r="2.7" fill="url(#holeC)"/>
<circle cx="405.45" cy="245.60" r="2.7" fill="url(#holeC)"/>
<circle cx="429.80" cy="254.00" r="2.7" fill="url(#holeC)"/>
<circle cx="424.95" cy="245.60" r="2.7" fill="url(#holeC)"/>
<circle cx="434.65" cy="245.60" r="2.7" fill="url(#holeC)"/>
</g>
<g clip-path="url(#cc1)"><g filter="url(#fc)"><rect x="416.2" y="165" width="130" height="110" fill="#000"/><g fill="#fff"><circle cx="433.00" cy="172.35" r="2.6"/><circle cx="437.85" cy="175.15" r="2.6"/><circle cx="437.85" cy="180.75" r="2.6"/><circle cx="433.00" cy="183.55" r="2.6"/><circle cx="428.15" cy="180.75" r="2.6"/><circle cx="428.15" cy="175.15" r="2.6"/><circle cx="428.15" cy="163.95" r="2.6"/><circle cx="433.00" cy="166.75" r="2.6"/><circle cx="423.30" cy="172.35" r="2.6"/><circle cx="423.30" cy="166.75" r="2.6"/><circle cx="437.85" cy="163.95" r="2.6"/><circle cx="442.70" cy="166.75" r="2.6"/><circle cx="442.70" cy="172.35" r="2.6"/><circle cx="433.00" cy="189.15" r="2.6"/><circle cx="418.45" cy="163.95" r="2.6"/><circle cx="447.55" cy="163.95" r="2.6"/><circle cx="462.20" cy="172.35" r="2.6"/><circle cx="467.05" cy="175.15" r="2.6"/><circle cx="467.05" cy="180.75" r="2.6"/><circle cx="462.20" cy="183.55" r="2.6"/><circle cx="457.35" cy="180.75" r="2.6"/><circle cx="457.35" cy="175.15" r="2.6"/><circle cx="457.35" cy="163.95" r="2.6"/><circle cx="462.20" cy="166.75" r="2.6"/><circle cx="452.50" cy="172.35" r="2.6"/><circle cx="452.50" cy="166.75" r="2.6"/><circle cx="467.05" cy="163.95" r="2.6"/><circle cx="471.90" cy="166.75" r="2.6"/><circle cx="471.90" cy="172.35" r="2.6"/><circle cx="462.20" cy="189.15" r="2.6"/><circle cx="447.65" cy="163.95" r="2.6"/><circle cx="476.75" cy="163.95" r="2.6"/><circle cx="447.60" cy="197.70" r="2.6"/><circle cx="452.45" cy="200.50" r="2.6"/><circle cx="452.45" cy="206.10" r="2.6"/><circle cx="447.60" cy="208.90" r="2.6"/><circle cx="442.75" cy="206.10" r="2.6"/><circle cx="442.75" cy="200.50" r="2.6"/><circle cx="442.75" cy="189.30" r="2.6"/><circle cx="447.60" cy="192.10" r="2.6"/><circle cx="437.90" cy="197.70" r="2.6"/><circle cx="437.90" cy="192.10" r="2.6"/><circle cx="452.45" cy="189.30" r="2.6"/><circle cx="457.30" cy="192.10" r="2.6"/><circle cx="457.30" cy="197.70" r="2.6"/><circle cx="447.60" cy="214.50" r="2.6"/><circle cx="433.05" cy="189.30" r="2.6"/><circle cx="462.15" cy="189.30" r="2.6"/><circle cx="476.80" cy="197.70" r="2.6"/><circle cx="481.65" cy="200.50" r="2.6"/><circle cx="481.65" cy="206.10" r="2.6"/><circle cx="476.80" cy="208.90" r="2.6"/><circle cx="471.95" cy="206.10" r="2.6"/><circle cx="471.95" cy="200.50" r="2.6"/><circle cx="471.95" cy="189.30" r="2.6"/><circle cx="476.80" cy="192.10" r="2.6"/><circle cx="467.10" cy="197.70" r="2.6"/><circle cx="467.10" cy="192.10" r="2.6"/><circle cx="481.65" cy="189.30" r="2.6"/><circle cx="486.50" cy="192.10" r="2.6"/><circle cx="486.50" cy="197.70" r="2.6"/><circle cx="476.80" cy="214.50" r="2.6"/><circle cx="462.25" cy="189.30" r="2.6"/><circle cx="491.35" cy="189.30" r="2.6"/><circle cx="462.20" cy="223.05" r="2.6"/><circle cx="467.05" cy="225.85" r="2.6"/><circle cx="467.05" cy="231.45" r="2.6"/><circle cx="462.20" cy="234.25" r="2.6"/><circle cx="457.35" cy="231.45" r="2.6"/><circle cx="457.35" cy="225.85" r="2.6"/><circle cx="457.35" cy="214.65" r="2.6"/><circle cx="462.20" cy="217.45" r="2.6"/><circle cx="452.50" cy="223.05" r="2.6"/><circle cx="452.50" cy="217.45" r="2.6"/><circle cx="467.05" cy="214.65" r="2.6"/><circle cx="471.90" cy="217.45" r="2.6"/><circle cx="471.90" cy="223.05" r="2.6"/><circle cx="462.20" cy="239.85" r="2.6"/><circle cx="447.65" cy="214.65" r="2.6"/><circle cx="476.75" cy="214.65" r="2.6"/><circle cx="491.40" cy="223.05" r="2.6"/><circle cx="496.25" cy="225.85" r="2.6"/><circle cx="496.25" cy="231.45" r="2.6"/><circle cx="491.40" cy="234.25" r="2.6"/><circle cx="486.55" cy="231.45" r="2.6"/><circle cx="486.55" cy="225.85" r="2.6"/><circle cx="486.55" cy="214.65" r="2.6"/><circle cx="491.40" cy="217.45" r="2.6"/><circle cx="481.70" cy="223.05" r="2.6"/><circle cx="481.70" cy="217.45" r="2.6"/><circle cx="496.25" cy="214.65" r="2.6"/><circle cx="501.10" cy="217.45" r="2.6"/><circle cx="501.10" cy="223.05" r="2.6"/><circle cx="491.40" cy="239.85" r="2.6"/><circle cx="476.85" cy="214.65" r="2.6"/><circle cx="505.95" cy="214.65" r="2.6"/><circle cx="476.80" cy="248.40" r="2.6"/><circle cx="481.65" cy="251.20" r="2.6"/><circle cx="481.65" cy="256.80" r="2.6"/><circle cx="476.80" cy="259.60" r="2.6"/><circle cx="471.95" cy="256.80" r="2.6"/><circle cx="471.95" cy="251.20" r="2.6"/><circle cx="471.95" cy="240.00" r="2.6"/><circle cx="476.80" cy="242.80" r="2.6"/><circle cx="467.10" cy="248.40" r="2.6"/><circle cx="467.10" cy="242.80" r="2.6"/><circle cx="481.65" cy="240.00" r="2.6"/><circle cx="486.50" cy="242.80" r="2.6"/><circle cx="486.50" cy="248.40" r="2.6"/><circle cx="476.80" cy="265.20" r="2.6"/><circle cx="462.25" cy="240.00" r="2.6"/><circle cx="491.35" cy="240.00" r="2.6"/><circle cx="506.00" cy="248.40" r="2.6"/><circle cx="510.85" cy="251.20" r="2.6"/><circle cx="510.85" cy="256.80" r="2.6"/><circle cx="506.00" cy="259.60" r="2.6"/><circle cx="501.15" cy="256.80" r="2.6"/><circle cx="501.15" cy="251.20" r="2.6"/><circle cx="501.15" cy="240.00" r="2.6"/><circle cx="506.00" cy="242.80" r="2.6"/><circle cx="496.30" cy="248.40" r="2.6"/><circle cx="496.30" cy="242.80" r="2.6"/><circle cx="510.85" cy="240.00" r="2.6"/><circle cx="515.70" cy="242.80" r="2.6"/><circle cx="515.70" cy="248.40" r="2.6"/><circle cx="506.00" cy="265.20" r="2.6"/><circle cx="491.45" cy="240.00" r="2.6"/><circle cx="520.55" cy="240.00" r="2.6"/></g><g fill="#000"><circle cx="433.00" cy="177.95" r="0.01"/><circle cx="428.15" cy="169.55" r="0.01"/><circle cx="437.85" cy="169.55" r="0.01"/><circle cx="462.20" cy="177.95" r="0.01"/><circle cx="457.35" cy="169.55" r="0.01"/><circle cx="467.05" cy="169.55" r="0.01"/><circle cx="447.60" cy="203.30" r="0.01"/><circle cx="442.75" cy="194.90" r="0.01"/><circle cx="452.45" cy="194.90" r="0.01"/><circle cx="476.80" cy="203.30" r="0.01"/><circle cx="471.95" cy="194.90" r="0.01"/><circle cx="481.65" cy="194.90" r="0.01"/><circle cx="462.20" cy="228.65" r="0.01"/><circle cx="457.35" cy="220.25" r="0.01"/><circle cx="467.05" cy="220.25" r="0.01"/><circle cx="491.40" cy="228.65" r="0.01"/><circle cx="486.55" cy="220.25" r="0.01"/><circle cx="496.25" cy="220.25" r="0.01"/><circle cx="476.80" cy="254.00" r="0.01"/><circle cx="471.95" cy="245.60" r="0.01"/><circle cx="481.65" cy="245.60" r="0.01"/><circle cx="506.00" cy="254.00" r="0.01"/><circle cx="501.15" cy="245.60" r="0.01"/><circle cx="510.85" cy="245.60" r="0.01"/></g><circle cx="433.00" cy="177.95" r="3.0" fill="#fff"/><circle cx="428.15" cy="169.55" r="3.0" fill="#fff"/><circle cx="437.85" cy="169.55" r="3.0" fill="#fff"/><circle cx="462.20" cy="177.95" r="3.0" fill="#fff"/><circle cx="457.35" cy="169.55" r="3.0" fill="#fff"/><circle cx="467.05" cy="169.55" r="3.0" fill="#fff"/><circle cx="447.60" cy="203.30" r="3.0" fill="#fff"/><circle cx="442.75" cy="194.90" r="3.0" fill="#fff"/><circle cx="452.45" cy="194.90" r="3.0" fill="#fff"/><circle cx="476.80" cy="203.30" r="3.0" fill="#fff"/><circle cx="471.95" cy="194.90" r="3.0" fill="#fff"/><circle cx="481.65" cy="194.90" r="3.0" fill="#fff"/><circle cx="462.20" cy="228.65" r="3.0" fill="#fff"/><circle cx="457.35" cy="220.25" r="3.0" fill="#fff"/><circle cx="467.05" cy="220.25" r="3.0" fill="#fff"/><circle cx="491.40" cy="228.65" r="3.0" fill="#fff"/><circle cx="486.55" cy="220.25" r="3.0" fill="#fff"/><circle cx="496.25" cy="220.25" r="3.0" fill="#fff"/><circle cx="476.80" cy="254.00" r="3.0" fill="#fff"/><circle cx="471.95" cy="245.60" r="3.0" fill="#fff"/><circle cx="481.65" cy="245.60" r="3.0" fill="#fff"/><circle cx="506.00" cy="254.00" r="3.0" fill="#fff"/><circle cx="501.15" cy="245.60" r="3.0" fill="#fff"/><circle cx="510.85" cy="245.60" r="3.0" fill="#fff"/><polygon points="486.05,232.30 481.77,235.71 482.86,241.07 477.39,240.94 474.77,245.74 470.67,242.12 465.57,244.12 464.76,238.71 459.57,236.97 462.42,232.30 459.57,227.63 464.76,225.89 465.57,220.48 470.67,222.48 474.77,218.86 477.39,223.66 482.86,223.53 481.77,228.89" fill="#000"/></g>
<circle cx="433.00" cy="177.95" r="2.7" fill="url(#holeC)"/>
<circle cx="428.15" cy="169.55" r="2.7" fill="url(#holeC)"/>
<circle cx="437.85" cy="169.55" r="2.7" fill="url(#holeC)"/>
<circle cx="462.20" cy="177.95" r="2.7" fill="url(#holeC)"/>
<circle cx="457.35" cy="169.55" r="2.7" fill="url(#holeC)"/>
<circle cx="467.05" cy="169.55" r="2.7" fill="url(#holeC)"/>
<circle cx="447.60" cy="203.30" r="2.7" fill="url(#holeC)"/>
<circle cx="442.75" cy="194.90" r="2.7" fill="url(#holeC)"/>
<circle cx="452.45" cy="194.90" r="2.7" fill="url(#holeC)"/>
<circle cx="476.80" cy="203.30" r="2.7" fill="url(#holeC)"/>
<circle cx="471.95" cy="194.90" r="2.7" fill="url(#holeC)"/>
<circle cx="481.65" cy="194.90" r="2.7" fill="url(#holeC)"/>
<circle cx="462.20" cy="228.65" r="2.7" fill="url(#holeC)"/>
<circle cx="457.35" cy="220.25" r="2.7" fill="url(#holeC)"/>
<circle cx="467.05" cy="220.25" r="2.7" fill="url(#holeC)"/>
<circle cx="491.40" cy="228.65" r="2.7" fill="url(#holeC)"/>
<circle cx="486.55" cy="220.25" r="2.7" fill="url(#holeC)"/>
<circle cx="496.25" cy="220.25" r="2.7" fill="url(#holeC)"/>
<circle cx="476.80" cy="254.00" r="2.7" fill="url(#holeC)"/>
<circle cx="471.95" cy="245.60" r="2.7" fill="url(#holeC)"/>
<circle cx="481.65" cy="245.60" r="2.7" fill="url(#holeC)"/>
<circle cx="506.00" cy="254.00" r="2.7" fill="url(#holeC)"/>
<circle cx="501.15" cy="245.60" r="2.7" fill="url(#holeC)"/>
<circle cx="510.85" cy="245.60" r="2.7" fill="url(#holeC)"/>
</g>
<g clip-path="url(#cc2)"><g filter="url(#fc)"><rect x="490" y="165" width="130" height="110" fill="#000"/><g fill="#2a2a2a"><circle cx="521.50" cy="202.50" r="18"/><circle cx="555.00" cy="197.00" r="18"/><circle cx="534.00" cy="224.00" r="18"/><circle cx="565.10" cy="228.00" r="18"/><circle cx="550.50" cy="253.00" r="18"/><circle cx="576.00" cy="247.00" r="18"/><circle cx="594.00" cy="245.00" r="18"/><circle cx="504.00" cy="181.00" r="18"/></g><g fill="#000"><circle cx="521.50" cy="202.50" r="14"/><circle cx="555.00" cy="197.00" r="14"/><circle cx="534.00" cy="224.00" r="14"/><circle cx="565.10" cy="228.00" r="14"/><circle cx="550.50" cy="253.00" r="14"/><circle cx="576.00" cy="247.00" r="14"/><circle cx="594.00" cy="245.00" r="14"/><circle cx="504.00" cy="181.00" r="14"/></g><g fill="#fff"><circle cx="521.50" cy="202.50" r="2.45"/><circle cx="525.91" cy="205.95" r="2.45"/><circle cx="525.13" cy="211.49" r="2.45"/><circle cx="519.94" cy="213.59" r="2.45"/><circle cx="515.53" cy="210.14" r="2.45"/><circle cx="516.31" cy="204.60" r="2.45"/><circle cx="517.87" cy="193.51" r="2.45"/><circle cx="522.28" cy="196.95" r="2.45"/><circle cx="511.89" cy="201.15" r="2.45"/><circle cx="512.67" cy="195.60" r="2.45"/><circle cx="527.47" cy="194.86" r="2.45"/><circle cx="531.88" cy="198.30" r="2.45"/><circle cx="531.11" cy="203.85" r="2.45"/><circle cx="520.72" cy="208.05" r="2.6"/><circle cx="517.09" cy="199.05" r="2.6"/><circle cx="526.69" cy="200.40" r="2.6"/><circle cx="555.00" cy="197.00" r="2.45"/><circle cx="559.85" cy="199.80" r="2.45"/><circle cx="559.85" cy="205.40" r="2.45"/><circle cx="555.00" cy="208.20" r="2.45"/><circle cx="550.15" cy="205.40" r="2.45"/><circle cx="550.15" cy="199.80" r="2.45"/><circle cx="550.15" cy="188.60" r="2.45"/><circle cx="555.00" cy="191.40" r="2.45"/><circle cx="545.30" cy="197.00" r="2.45"/><circle cx="545.30" cy="191.40" r="2.45"/><circle cx="559.85" cy="188.60" r="2.45"/><circle cx="564.70" cy="191.40" r="2.45"/><circle cx="564.70" cy="197.00" r="2.45"/><circle cx="555.00" cy="202.60" r="2.6"/><circle cx="550.15" cy="194.20" r="2.6"/><circle cx="559.85" cy="194.20" r="2.6"/><circle cx="534.00" cy="224.00" r="2.45"/><circle cx="538.64" cy="227.13" r="2.45"/><circle cx="538.25" cy="232.72" r="2.45"/><circle cx="533.22" cy="235.17" r="2.45"/><circle cx="528.58" cy="232.04" r="2.45"/><circle cx="528.97" cy="226.45" r="2.45"/><circle cx="529.75" cy="215.28" r="2.45"/><circle cx="534.39" cy="218.41" r="2.45"/><circle cx="524.32" cy="223.32" r="2.45"/><circle cx="524.71" cy="217.74" r="2.45"/><circle cx="539.42" cy="215.96" r="2.45"/><circle cx="544.07" cy="219.09" r="2.45"/><circle cx="543.68" cy="224.68" r="2.45"/><circle cx="533.61" cy="229.59" r="2.6"/><circle cx="529.36" cy="220.87" r="2.6"/><circle cx="539.03" cy="221.55" r="2.6"/><circle cx="565.10" cy="228.00" r="2.45"/><circle cx="570.09" cy="230.54" r="2.45"/><circle cx="570.38" cy="236.13" r="2.45"/><circle cx="565.69" cy="239.18" r="2.45"/><circle cx="560.70" cy="236.64" r="2.45"/><circle cx="560.40" cy="231.05" r="2.45"/><circle cx="559.82" cy="219.87" r="2.45"/><circle cx="564.81" cy="222.41" r="2.45"/><circle cx="555.41" cy="228.51" r="2.45"/><circle cx="555.12" cy="222.92" r="2.45"/><circle cx="569.50" cy="219.36" r="2.45"/><circle cx="574.49" cy="221.90" r="2.45"/><circle cx="574.79" cy="227.49" r="2.45"/><circle cx="565.39" cy="233.59" r="2.6"/><circle cx="560.11" cy="225.46" r="2.6"/><circle cx="569.80" cy="224.95" r="2.6"/><circle cx="550.50" cy="253.00" r="2.45"/><circle cx="555.35" cy="255.80" r="2.45"/><circle cx="555.35" cy="261.40" r="2.45"/><circle cx="550.50" cy="264.20" r="2.45"/><circle cx="545.65" cy="261.40" r="2.45"/><circle cx="545.65" cy="255.80" r="2.45"/><circle cx="545.65" cy="244.60" r="2.45"/><circle cx="550.50" cy="247.40" r="2.45"/><circle cx="540.80" cy="253.00" r="2.45"/><circle cx="540.80" cy="247.40" r="2.45"/><circle cx="555.35" cy="244.60" r="2.45"/><circle cx="560.20" cy="247.40" r="2.45"/><circle cx="560.20" cy="253.00" r="2.45"/><circle cx="550.50" cy="258.60" r="2.6"/><circle cx="545.65" cy="250.20" r="2.6"/><circle cx="555.35" cy="250.20" r="2.6"/><circle cx="576.00" cy="247.00" r="2.45"/><circle cx="580.64" cy="250.13" r="2.45"/><circle cx="580.25" cy="255.72" r="2.45"/><circle cx="575.22" cy="258.17" r="2.45"/><circle cx="570.58" cy="255.04" r="2.45"/><circle cx="570.97" cy="249.45" r="2.45"/><circle cx="571.75" cy="238.28" r="2.45"/><circle cx="576.39" cy="241.41" r="2.45"/><circle cx="566.32" cy="246.32" r="2.45"/><circle cx="566.71" cy="240.74" r="2.45"/><circle cx="581.42" cy="238.96" r="2.45"/><circle cx="586.07" cy="242.09" r="2.45"/><circle cx="585.68" cy="247.68" r="2.45"/><circle cx="575.61" cy="252.59" r="2.6"/><circle cx="571.36" cy="243.87" r="2.6"/><circle cx="581.03" cy="244.55" r="2.6"/><circle cx="594.00" cy="245.00" r="2.45"/><circle cx="598.85" cy="247.80" r="2.45"/><circle cx="598.85" cy="253.40" r="2.45"/><circle cx="594.00" cy="256.20" r="2.45"/><circle cx="589.15" cy="253.40" r="2.45"/><circle cx="589.15" cy="247.80" r="2.45"/><circle cx="589.15" cy="236.60" r="2.45"/><circle cx="594.00" cy="239.40" r="2.45"/><circle cx="584.30" cy="245.00" r="2.45"/><circle cx="584.30" cy="239.40" r="2.45"/><circle cx="598.85" cy="236.60" r="2.45"/><circle cx="603.70" cy="239.40" r="2.45"/><circle cx="603.70" cy="245.00" r="2.45"/><circle cx="594.00" cy="250.60" r="2.6"/><circle cx="589.15" cy="242.20" r="2.6"/><circle cx="598.85" cy="242.20" r="2.6"/><circle cx="504.00" cy="181.00" r="2.45"/><circle cx="508.85" cy="183.80" r="2.45"/><circle cx="508.85" cy="189.40" r="2.45"/><circle cx="504.00" cy="192.20" r="2.45"/><circle cx="499.15" cy="189.40" r="2.45"/><circle cx="499.15" cy="183.80" r="2.45"/><circle cx="499.15" cy="172.60" r="2.45"/><circle cx="504.00" cy="175.40" r="2.45"/><circle cx="494.30" cy="181.00" r="2.45"/><circle cx="494.30" cy="175.40" r="2.45"/><circle cx="508.85" cy="172.60" r="2.45"/><circle cx="513.70" cy="175.40" r="2.45"/><circle cx="513.70" cy="181.00" r="2.45"/><circle cx="504.00" cy="186.60" r="2.6"/><circle cx="499.15" cy="178.20" r="2.6"/><circle cx="508.85" cy="178.20" r="2.6"/></g><polygon points="548.48,208.00 545.41,210.51 546.14,214.41 542.17,214.37 540.23,217.82 537.22,215.24 533.51,216.64 532.87,212.72 529.13,211.41 531.15,208.00 529.13,204.59 532.87,203.28 533.51,199.36 537.22,200.76 540.23,198.18 542.17,201.63 546.14,201.59 545.41,205.49" fill="#000"/><polygon points="557.52,233.00 553.90,235.69 554.95,240.09 550.44,239.82 548.41,243.86 545.13,240.76 540.99,242.55 540.47,238.06 536.14,236.77 538.62,233.00 536.14,229.23 540.47,227.94 540.99,223.45 545.13,225.24 548.41,222.14 550.44,226.18 554.95,225.91 553.90,230.31" fill="#000"/><polygon points="529.83,186.00 527.44,187.62 528.23,190.39 525.36,190.09 524.19,192.72 522.18,190.65 519.59,191.91 519.38,189.04 516.59,188.33 518.27,186.00 516.59,183.67 519.38,182.96 519.59,180.09 522.18,181.35 524.19,179.28 525.36,181.91 528.23,181.61 527.44,184.38" fill="#000"/></g>
<circle cx="521.50" cy="202.50" r="2.7" fill="url(#holeC)"/>
<circle cx="555.00" cy="197.00" r="2.7" fill="url(#holeC)"/>
<circle cx="534.00" cy="224.00" r="2.7" fill="url(#holeC)"/>
<circle cx="565.10" cy="228.00" r="2.7" fill="url(#holeC)"/>
<circle cx="550.50" cy="253.00" r="2.7" fill="url(#holeC)"/>
<circle cx="576.00" cy="247.00" r="2.7" fill="url(#holeC)"/>
<circle cx="594.00" cy="245.00" r="2.7" fill="url(#holeC)"/>
<circle cx="504.00" cy="181.00" r="2.7" fill="url(#holeC)"/>
</g>
<defs><filter id="fst" x="-20%" y="-20%" width="140%" height="140%"><feGaussianBlur stdDeviation="0.6"/></filter></defs>
<g clip-path="url(#cc1)"><polygon points="483.06,232.30 479.72,234.96 480.57,239.15 476.29,239.05 474.25,242.80 471.05,239.97 467.07,241.53 466.43,237.31 462.38,235.95 464.61,232.30 462.38,228.65 466.43,227.29 467.07,223.07 471.05,224.63 474.25,221.80 476.29,225.55 480.57,225.45 479.72,229.64" fill="url(#starG)" stroke="#3a30f0" stroke-width="1.5" stroke-linejoin="round" filter="url(#fst)"/></g>
<g clip-path="url(#cc2)"><polygon points="546.29,208.00 543.89,209.96 544.47,213.01 541.37,212.97 539.85,215.67 537.50,213.65 534.61,214.75 534.10,211.69 531.18,210.66 532.76,208.00 531.18,205.34 534.10,204.31 534.61,201.25 537.50,202.35 539.85,200.33 541.37,203.03 544.47,202.99 543.89,206.04" fill="url(#starG)" stroke="#3a30f0" stroke-width="1.5" stroke-linejoin="round" filter="url(#fst)"/></g>
<g clip-path="url(#cc2)"><polygon points="555.11,233.00 552.28,235.10 553.10,238.53 549.58,238.33 548.00,241.48 545.43,239.06 542.20,240.46 541.79,236.95 538.41,235.94 540.35,233.00 538.41,230.06 541.79,229.05 542.20,225.54 545.43,226.94 548.00,224.52 549.58,227.67 553.10,227.47 552.28,230.90" fill="url(#starG)" stroke="#3a30f0" stroke-width="1.5" stroke-linejoin="round" filter="url(#fst)"/></g>
<g clip-path="url(#cc2)"><polygon points="528.33,186.00 526.47,187.26 527.08,189.43 524.85,189.20 523.93,191.25 522.36,189.63 520.34,190.62 520.17,188.37 517.99,187.82 519.31,186.00 517.99,184.18 520.17,183.63 520.34,181.38 522.36,182.37 523.93,180.75 524.85,182.80 527.08,182.57 526.47,184.74" fill="url(#starG)" stroke="#3a30f0" stroke-width="1.5" stroke-linejoin="round" filter="url(#fst)"/></g>
<circle cx="504.3" cy="229.5" r="2.2" fill="url(#holeC)"/>
<rect x="347.60" y="230.60" width="5.30" height="37.40" fill="url(#cbar)" stroke="none" stroke-width="1"/>
<text x="346.00" y="229.30" font-size="9" text-anchor="start" fill="#111" stroke="#111" stroke-width="0.0" font-weight="bold">0.1 eV</text>
<text x="356.80" y="266.00" font-size="9" text-anchor="start" fill="#111" stroke="#111" stroke-width="0.0" font-weight="bold">0 eV</text>
<text x="450.00" y="265.80" font-size="9.2" text-anchor="middle" fill="#111" stroke="#111" stroke-width="0.0" font-weight="bold">CN</text>
<text x="524.60" y="265.80" font-size="9.2" text-anchor="middle" fill="#111" stroke="#111" stroke-width="0.0" font-weight="bold">CN-I</text>
<text x="598.00" y="265.80" font-size="9.2" text-anchor="middle" fill="#111" stroke="#111" stroke-width="0.0" font-weight="bold">CN-I/I<tspan font-size="6.6" dy="2">3</tspan></text></svg>
</body></html>
